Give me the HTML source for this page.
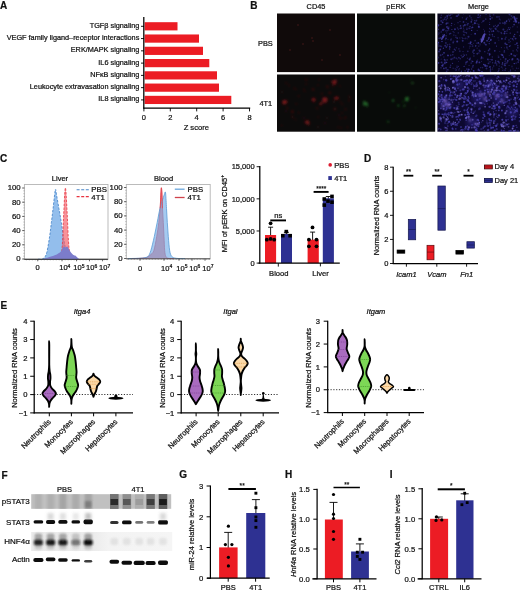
<!DOCTYPE html>
<html><head><meta charset="utf-8"><title>Figure</title>
<style>
html,body{margin:0;padding:0;background:#fff;}
svg{display:block;font-family:"Liberation Sans",Arial,Helvetica,sans-serif;fill:#111;}
svg text{fill:#111;stroke:#111;stroke-width:0.22px;}
</style></head><body>
<svg width="520" height="593" viewBox="0 0 520 593">
<rect x="0" y="0" width="520" height="593" fill="#fff"/>
<text x="0.00" y="9.40" font-size="10" text-anchor="start" font-weight="bold" stroke-width="0.1">A</text>
<text x="250.30" y="9.00" font-size="10" text-anchor="start" font-weight="bold" stroke-width="0.1">B</text>
<text x="0.10" y="162.20" font-size="10" text-anchor="start" font-weight="bold" stroke-width="0.1">C</text>
<text x="364.10" y="162.10" font-size="10" text-anchor="start" font-weight="bold" stroke-width="0.1">D</text>
<text x="0.60" y="309.10" font-size="10" text-anchor="start" font-weight="bold" stroke-width="0.1">E</text>
<text x="1.40" y="479.00" font-size="10" text-anchor="start" font-weight="bold" stroke-width="0.1">F</text>
<text x="179.30" y="477.80" font-size="10" text-anchor="start" font-weight="bold" stroke-width="0.1">G</text>
<text x="285.10" y="477.80" font-size="10" text-anchor="start" font-weight="bold" stroke-width="0.1">H</text>
<text x="389.80" y="477.80" font-size="10" text-anchor="start" font-weight="bold" stroke-width="0.1">I</text>
<rect x="144.60" y="22.20" width="32.90" height="8.20" fill="#ec1c24" />
<line x1="141.00" y1="26.30" x2="144.00" y2="26.30" stroke="#000" stroke-width="0.9" />
<text x="139.30" y="27.70" font-size="7.3" text-anchor="end" >TGFβ signaling</text>
<rect x="144.60" y="34.47" width="54.40" height="8.20" fill="#ec1c24" />
<line x1="141.00" y1="38.57" x2="144.00" y2="38.57" stroke="#000" stroke-width="0.9" />
<text x="139.30" y="39.97" font-size="7.3" text-anchor="end" >VEGF family ligand–receptor interactions</text>
<rect x="144.60" y="46.74" width="58.40" height="8.20" fill="#ec1c24" />
<line x1="141.00" y1="50.84" x2="144.00" y2="50.84" stroke="#000" stroke-width="0.9" />
<text x="139.30" y="52.24" font-size="7.3" text-anchor="end" >ERK/MAPK signaling</text>
<rect x="144.60" y="59.01" width="64.70" height="8.20" fill="#ec1c24" />
<line x1="141.00" y1="63.11" x2="144.00" y2="63.11" stroke="#000" stroke-width="0.9" />
<text x="139.30" y="64.51" font-size="7.3" text-anchor="end" >IL6 signaling</text>
<rect x="144.60" y="71.28" width="72.40" height="8.20" fill="#ec1c24" />
<line x1="141.00" y1="75.38" x2="144.00" y2="75.38" stroke="#000" stroke-width="0.9" />
<text x="139.30" y="76.78" font-size="7.3" text-anchor="end" >NFκB signaling</text>
<rect x="144.60" y="83.55" width="74.40" height="8.20" fill="#ec1c24" />
<line x1="141.00" y1="87.65" x2="144.00" y2="87.65" stroke="#000" stroke-width="0.9" />
<text x="139.30" y="89.05" font-size="7.3" text-anchor="end" >Leukocyte extravasation signaling</text>
<rect x="144.60" y="95.82" width="86.70" height="8.20" fill="#ec1c24" />
<line x1="141.00" y1="99.92" x2="144.00" y2="99.92" stroke="#000" stroke-width="0.9" />
<text x="139.30" y="101.32" font-size="7.3" text-anchor="end" >IL8 signaling</text>
<line x1="143.80" y1="17.00" x2="143.80" y2="108.50" stroke="#000" stroke-width="1.25" />
<line x1="143.30" y1="108.00" x2="250.20" y2="108.00" stroke="#000" stroke-width="1.25" />
<line x1="143.90" y1="108.00" x2="143.90" y2="111.40" stroke="#000" stroke-width="0.9" />
<text x="143.90" y="120.20" font-size="7.5" text-anchor="middle" >0</text>
<line x1="170.30" y1="108.00" x2="170.30" y2="111.40" stroke="#000" stroke-width="0.9" />
<text x="170.30" y="120.20" font-size="7.5" text-anchor="middle" >2</text>
<line x1="196.70" y1="108.00" x2="196.70" y2="111.40" stroke="#000" stroke-width="0.9" />
<text x="196.70" y="120.20" font-size="7.5" text-anchor="middle" >4</text>
<line x1="223.10" y1="108.00" x2="223.10" y2="111.40" stroke="#000" stroke-width="0.9" />
<text x="223.10" y="120.20" font-size="7.5" text-anchor="middle" >6</text>
<line x1="249.50" y1="108.00" x2="249.50" y2="111.40" stroke="#000" stroke-width="0.9" />
<text x="249.50" y="120.20" font-size="7.5" text-anchor="middle" >8</text>
<text x="196.30" y="129.70" font-size="7.6" text-anchor="middle" >Z score</text>
<text x="316.00" y="8.60" font-size="7.4" text-anchor="middle" >CD45</text>
<text x="396.00" y="8.60" font-size="7.4" text-anchor="middle" >pERK</text>
<text x="478.50" y="8.60" font-size="7.4" text-anchor="middle" >Merge</text>
<text x="258.00" y="45.70" font-size="7.4" text-anchor="start" >PBS</text>
<text x="259.50" y="105.70" font-size="7.4" text-anchor="start" >4T1</text>
<defs><filter id="b1" x="-50%" y="-50%" width="200%" height="200%"><feGaussianBlur stdDeviation="1.1"/></filter><filter id="b2" x="-50%" y="-50%" width="200%" height="200%"><feGaussianBlur stdDeviation="0.55"/></filter><filter id="b3" x="-50%" y="-50%" width="200%" height="200%"><feGaussianBlur stdDeviation="2.2"/></filter>
<clipPath id="c00"><rect x="277" y="13.5" width="78" height="58.599999999999994"/></clipPath>
<clipPath id="c01"><rect x="277" y="74.5" width="78" height="57.19999999999999"/></clipPath>
<clipPath id="c10"><rect x="357" y="13.5" width="78.19999999999999" height="58.599999999999994"/></clipPath>
<clipPath id="c11"><rect x="357" y="74.5" width="78.19999999999999" height="57.19999999999999"/></clipPath>
<clipPath id="c20"><rect x="437.4" y="13.5" width="82.60000000000002" height="58.599999999999994"/></clipPath>
<clipPath id="c21"><rect x="437.4" y="74.5" width="82.60000000000002" height="57.19999999999999"/></clipPath>
</defs>
<rect x="277.00" y="13.50" width="78.00" height="58.60" fill="#100a0a" />
<rect x="277.00" y="74.50" width="78.00" height="57.20" fill="#0c0b0b" />
<rect x="357.00" y="13.50" width="78.20" height="58.60" fill="#090c0a" />
<rect x="357.00" y="74.50" width="78.20" height="57.20" fill="#080b09" />
<rect x="437.40" y="13.50" width="82.60" height="58.60" fill="#06041a" />
<rect x="437.40" y="74.50" width="82.60" height="57.20" fill="#0d0930" />
<g clip-path="url(#c00)" filter="url(#b2)">
<circle cx="312" cy="38" r="0.8" fill="#4a1416"/>
<circle cx="313" cy="41" r="0.8" fill="#4a1416"/>
<circle cx="303" cy="44" r="0.8" fill="#4a1416"/>
<circle cx="290" cy="50" r="0.8" fill="#4a1416"/>
<circle cx="330" cy="30" r="0.8" fill="#4a1416"/>
<circle cx="340" cy="55" r="0.8" fill="#4a1416"/>
<circle cx="298" cy="25" r="0.8" fill="#4a1416"/>
<circle cx="322" cy="60" r="0.8" fill="#4a1416"/>
</g>
<g clip-path="url(#c01)" filter="url(#b1)">
<circle cx="284.8" cy="101.8" r="1.86" fill="#7e1a1e" opacity="0.47"/>
<circle cx="285.8" cy="101.5" r="1.86" fill="#7e1a1e" opacity="0.47"/>
<circle cx="285.4" cy="102.4" r="1.86" fill="#7e1a1e" opacity="0.47"/>
<circle cx="284.0" cy="102.8" r="1.86" fill="#7e1a1e" opacity="0.47"/>
<circle cx="283.9" cy="102.6" r="1.86" fill="#7e1a1e" opacity="0.47"/>
<circle cx="284.0" cy="101.6" r="1.86" fill="#7e1a1e" opacity="0.47"/>
<circle cx="333.8" cy="83.3" r="1.86" fill="#7e1a1e" opacity="0.44"/>
<circle cx="332.9" cy="81.5" r="1.86" fill="#7e1a1e" opacity="0.44"/>
<circle cx="334.4" cy="83.6" r="1.86" fill="#7e1a1e" opacity="0.44"/>
<circle cx="334.2" cy="82.0" r="1.86" fill="#7e1a1e" opacity="0.44"/>
<circle cx="335.4" cy="80.9" r="1.86" fill="#7e1a1e" opacity="0.44"/>
<circle cx="335.1" cy="81.7" r="1.86" fill="#7e1a1e" opacity="0.44"/>
<circle cx="324.3" cy="99.1" r="2.05" fill="#7e1a1e" opacity="0.50"/>
<circle cx="324.9" cy="101.4" r="2.05" fill="#7e1a1e" opacity="0.50"/>
<circle cx="324.4" cy="100.7" r="2.05" fill="#7e1a1e" opacity="0.50"/>
<circle cx="326.0" cy="100.0" r="2.05" fill="#7e1a1e" opacity="0.50"/>
<circle cx="325.7" cy="99.0" r="2.05" fill="#7e1a1e" opacity="0.50"/>
<circle cx="324.0" cy="99.4" r="2.05" fill="#7e1a1e" opacity="0.50"/>
<circle cx="314.1" cy="99.4" r="1.55" fill="#7e1a1e" opacity="0.44"/>
<circle cx="313.1" cy="99.8" r="1.55" fill="#7e1a1e" opacity="0.44"/>
<circle cx="313.5" cy="99.1" r="1.55" fill="#7e1a1e" opacity="0.44"/>
<circle cx="314.3" cy="100.1" r="1.55" fill="#7e1a1e" opacity="0.44"/>
<circle cx="313.0" cy="99.8" r="1.55" fill="#7e1a1e" opacity="0.44"/>
<circle cx="320.8" cy="104.3" r="1.36" fill="#7e1a1e" opacity="0.39"/>
<circle cx="321.2" cy="103.0" r="1.36" fill="#7e1a1e" opacity="0.39"/>
<circle cx="321.8" cy="102.7" r="1.36" fill="#7e1a1e" opacity="0.39"/>
<circle cx="320.5" cy="104.1" r="1.36" fill="#7e1a1e" opacity="0.39"/>
<circle cx="335.6" cy="98.0" r="1.55" fill="#7e1a1e" opacity="0.41"/>
<circle cx="335.3" cy="98.4" r="1.55" fill="#7e1a1e" opacity="0.41"/>
<circle cx="337.2" cy="98.2" r="1.55" fill="#7e1a1e" opacity="0.41"/>
<circle cx="337.4" cy="97.5" r="1.55" fill="#7e1a1e" opacity="0.41"/>
<circle cx="337.0" cy="98.2" r="1.55" fill="#7e1a1e" opacity="0.41"/>
<circle cx="307.5" cy="121.6" r="1.74" fill="#7e1a1e" opacity="0.44"/>
<circle cx="308.3" cy="122.9" r="1.74" fill="#7e1a1e" opacity="0.44"/>
<circle cx="307.2" cy="122.2" r="1.74" fill="#7e1a1e" opacity="0.44"/>
<circle cx="306.1" cy="122.3" r="1.74" fill="#7e1a1e" opacity="0.44"/>
<circle cx="307.7" cy="123.1" r="1.74" fill="#7e1a1e" opacity="0.44"/>
<circle cx="335.5" cy="108.7" r="0.93" fill="#7e1a1e" opacity="0.33"/>
<circle cx="334.8" cy="109.3" r="0.93" fill="#7e1a1e" opacity="0.33"/>
<circle cx="334.3" cy="108.9" r="0.93" fill="#7e1a1e" opacity="0.33"/>
<circle cx="292.4" cy="111.3" r="1.05" fill="#7e1a1e" opacity="0.30"/>
<circle cx="292.3" cy="112.5" r="1.05" fill="#7e1a1e" opacity="0.30"/>
<circle cx="292.4" cy="111.6" r="1.05" fill="#7e1a1e" opacity="0.30"/>
<circle cx="345.8" cy="109.5" r="0.87" fill="#7e1a1e" opacity="0.28"/>
<circle cx="345.4" cy="108.9" r="0.87" fill="#7e1a1e" opacity="0.28"/>
<circle cx="313.1" cy="89.6" r="0.99" fill="#7e1a1e" opacity="0.25"/>
<circle cx="313.5" cy="89.6" r="0.99" fill="#7e1a1e" opacity="0.25"/>
<circle cx="312.6" cy="88.9" r="0.99" fill="#7e1a1e" opacity="0.25"/>
<circle cx="306.3" cy="80.5" r="0.81" fill="#7e1a1e" opacity="0.22"/>
<circle cx="307.1" cy="79.5" r="0.81" fill="#7e1a1e" opacity="0.22"/>
<circle cx="329.5" cy="92.6" r="0.93" fill="#7e1a1e" opacity="0.28"/>
<circle cx="329.6" cy="93.0" r="0.93" fill="#7e1a1e" opacity="0.28"/>
<circle cx="330.1" cy="92.6" r="0.93" fill="#7e1a1e" opacity="0.28"/>
<circle cx="298.4" cy="95.9" r="0.74" fill="#7e1a1e" opacity="0.22"/>
<circle cx="298.8" cy="96.1" r="0.74" fill="#7e1a1e" opacity="0.22"/>
<circle cx="342.6" cy="104.2" r="0.81" fill="#7e1a1e" opacity="0.25"/>
<circle cx="342.0" cy="104.2" r="0.81" fill="#7e1a1e" opacity="0.25"/>
<circle cx="287.2" cy="107.4" r="0.87" fill="#7e1a1e" opacity="0.28"/>
<circle cx="287.6" cy="108.4" r="0.87" fill="#7e1a1e" opacity="0.28"/>
<circle cx="317.5" cy="108.4" r="0.87" fill="#7e1a1e" opacity="0.28"/>
<circle cx="316.8" cy="107.9" r="0.87" fill="#7e1a1e" opacity="0.28"/>
<circle cx="327.4" cy="87.2" r="0.93" fill="#7e1a1e" opacity="0.28"/>
<circle cx="327.3" cy="86.4" r="0.93" fill="#7e1a1e" opacity="0.28"/>
<circle cx="327.6" cy="86.5" r="0.93" fill="#7e1a1e" opacity="0.28"/>
<circle cx="295.8" cy="119.5" r="0.74" fill="#7e1a1e" opacity="0.22"/>
<circle cx="295.4" cy="119.6" r="0.74" fill="#7e1a1e" opacity="0.22"/>
<circle cx="339.5" cy="117.8" r="0.74" fill="#7e1a1e" opacity="0.22"/>
<circle cx="339.4" cy="118.4" r="0.74" fill="#7e1a1e" opacity="0.22"/>
<circle cx="322.2" cy="93.5" r="0.87" fill="#7e1a1e" opacity="0.28"/>
<circle cx="321.7" cy="93.8" r="0.87" fill="#7e1a1e" opacity="0.28"/>
<circle cx="306.2" cy="84.1" r="0.8" fill="#4a1518" opacity="0.8"/>
<circle cx="341.1" cy="127.7" r="0.8" fill="#4a1518" opacity="0.8"/>
<circle cx="313.6" cy="102.2" r="0.8" fill="#4a1518" opacity="0.8"/>
<circle cx="286.2" cy="83.1" r="0.8" fill="#4a1518" opacity="0.8"/>
<circle cx="304.7" cy="91.2" r="0.8" fill="#4a1518" opacity="0.8"/>
<circle cx="339.7" cy="86.1" r="0.8" fill="#4a1518" opacity="0.8"/>
<circle cx="281.7" cy="125.5" r="0.8" fill="#4a1518" opacity="0.8"/>
<circle cx="318.0" cy="85.3" r="0.8" fill="#4a1518" opacity="0.8"/>
<circle cx="319.1" cy="79.4" r="0.8" fill="#4a1518" opacity="0.8"/>
<circle cx="318.0" cy="126.9" r="0.8" fill="#4a1518" opacity="0.8"/>
<circle cx="342.2" cy="112.8" r="0.8" fill="#4a1518" opacity="0.8"/>
<circle cx="298.8" cy="96.3" r="0.8" fill="#4a1518" opacity="0.8"/>
<circle cx="292.0" cy="116.6" r="0.8" fill="#4a1518" opacity="0.8"/>
<circle cx="318.3" cy="117.0" r="0.8" fill="#4a1518" opacity="0.8"/>
<circle cx="303.7" cy="89.2" r="0.8" fill="#4a1518" opacity="0.8"/>
<circle cx="338.4" cy="127.2" r="0.8" fill="#4a1518" opacity="0.8"/>
<circle cx="341.4" cy="118.3" r="0.8" fill="#4a1518" opacity="0.8"/>
<circle cx="338.9" cy="115.0" r="0.8" fill="#4a1518" opacity="0.8"/>
<circle cx="296.3" cy="103.9" r="0.8" fill="#4a1518" opacity="0.8"/>
<circle cx="305.6" cy="79.4" r="0.8" fill="#4a1518" opacity="0.8"/>
<circle cx="282.0" cy="92.0" r="0.8" fill="#4a1518" opacity="0.8"/>
<circle cx="298.7" cy="112.6" r="0.8" fill="#4a1518" opacity="0.8"/>
<circle cx="348.9" cy="100.4" r="0.8" fill="#4a1518" opacity="0.8"/>
<circle cx="347.5" cy="127.4" r="0.8" fill="#4a1518" opacity="0.8"/>
<circle cx="348.8" cy="96.2" r="0.8" fill="#4a1518" opacity="0.8"/>
<circle cx="295.9" cy="89.3" r="0.8" fill="#4a1518" opacity="0.8"/>
<circle cx="294.2" cy="88.2" r="0.8" fill="#4a1518" opacity="0.8"/>
<circle cx="324.9" cy="123.0" r="0.8" fill="#4a1518" opacity="0.8"/>
<circle cx="340.5" cy="102.0" r="0.8" fill="#4a1518" opacity="0.8"/>
<circle cx="327.0" cy="118.0" r="0.8" fill="#4a1518" opacity="0.8"/>
<circle cx="286.1" cy="111.0" r="0.8" fill="#4a1518" opacity="0.8"/>
<circle cx="345.5" cy="117.1" r="0.8" fill="#4a1518" opacity="0.8"/>
<circle cx="334.0" cy="101.9" r="0.8" fill="#4a1518" opacity="0.8"/>
<circle cx="292.9" cy="117.5" r="0.8" fill="#4a1518" opacity="0.8"/>
<circle cx="303.9" cy="118.0" r="0.8" fill="#4a1518" opacity="0.8"/>
<circle cx="350.0" cy="97.8" r="0.8" fill="#4a1518" opacity="0.8"/>
<circle cx="308.9" cy="125.3" r="0.8" fill="#4a1518" opacity="0.8"/>
<circle cx="332.2" cy="86.5" r="0.8" fill="#4a1518" opacity="0.8"/>
<circle cx="289.1" cy="85.6" r="0.8" fill="#4a1518" opacity="0.8"/>
<circle cx="345.1" cy="118.3" r="0.8" fill="#4a1518" opacity="0.8"/>
</g>
<g clip-path="url(#c11)" filter="url(#b1)">
<circle cx="364.3" cy="104.4" r="1.62" fill="#2a7530" opacity="0.51"/>
<circle cx="366.6" cy="103.9" r="1.62" fill="#2a7530" opacity="0.51"/>
<circle cx="364.9" cy="103.6" r="1.62" fill="#2a7530" opacity="0.51"/>
<circle cx="364.3" cy="102.2" r="1.62" fill="#2a7530" opacity="0.51"/>
<circle cx="366.6" cy="103.9" r="1.62" fill="#2a7530" opacity="0.51"/>
<circle cx="407.1" cy="99.9" r="1.56" fill="#2a7530" opacity="0.51"/>
<circle cx="406.8" cy="99.8" r="1.56" fill="#2a7530" opacity="0.51"/>
<circle cx="407.8" cy="98.0" r="1.56" fill="#2a7530" opacity="0.51"/>
<circle cx="406.4" cy="98.3" r="1.56" fill="#2a7530" opacity="0.51"/>
<circle cx="406.3" cy="99.0" r="1.56" fill="#2a7530" opacity="0.51"/>
<circle cx="393.1" cy="100.2" r="1.14" fill="#2a7530" opacity="0.42"/>
<circle cx="392.9" cy="101.2" r="1.14" fill="#2a7530" opacity="0.42"/>
<circle cx="393.3" cy="100.3" r="1.14" fill="#2a7530" opacity="0.42"/>
<circle cx="398.5" cy="105.7" r="0.96" fill="#2a7530" opacity="0.39"/>
<circle cx="398.3" cy="105.8" r="0.96" fill="#2a7530" opacity="0.39"/>
<circle cx="398.4" cy="105.2" r="0.96" fill="#2a7530" opacity="0.39"/>
<circle cx="404.7" cy="105.1" r="0.96" fill="#2a7530" opacity="0.36"/>
<circle cx="404.6" cy="105.4" r="0.96" fill="#2a7530" opacity="0.36"/>
<circle cx="403.9" cy="106.4" r="0.96" fill="#2a7530" opacity="0.36"/>
<circle cx="412.0" cy="83.0" r="1.08" fill="#2a7530" opacity="0.33"/>
<circle cx="413.0" cy="83.1" r="1.08" fill="#2a7530" opacity="0.33"/>
<circle cx="412.3" cy="83.0" r="1.08" fill="#2a7530" opacity="0.33"/>
<circle cx="411.1" cy="79.8" r="0.66" fill="#2a7530" opacity="0.24"/>
<circle cx="410.6" cy="79.6" r="0.66" fill="#2a7530" opacity="0.24"/>
<circle cx="387.6" cy="121.3" r="1.02" fill="#2a7530" opacity="0.27"/>
<circle cx="388.5" cy="121.7" r="1.02" fill="#2a7530" opacity="0.27"/>
<circle cx="388.1" cy="122.1" r="1.02" fill="#2a7530" opacity="0.27"/>
<circle cx="389.5" cy="92.4" r="0.66" fill="#2a7530" opacity="0.18"/>
<circle cx="389.1" cy="92.5" r="0.66" fill="#2a7530" opacity="0.18"/>
<circle cx="415.7" cy="107.7" r="0.66" fill="#2a7530" opacity="0.18"/>
<circle cx="415.6" cy="107.5" r="0.66" fill="#2a7530" opacity="0.18"/>
<circle cx="403.0" cy="101.6" r="0.84" fill="#2a7530" opacity="0.30"/>
<circle cx="403.3" cy="101.5" r="0.84" fill="#2a7530" opacity="0.30"/>
<circle cx="367.7" cy="105.6" r="0.90" fill="#2a7530" opacity="0.30"/>
<circle cx="367.1" cy="106.7" r="0.90" fill="#2a7530" opacity="0.30"/>
<circle cx="367.5" cy="105.5" r="0.90" fill="#2a7530" opacity="0.30"/>
</g>
<g clip-path="url(#c20)" filter="url(#b2)">
<circle cx="448.0" cy="39.6" r="0.58" fill="#3e3a9c" opacity="0.43"/>
<circle cx="444.0" cy="52.8" r="0.90" fill="#3e3a9c" opacity="0.79"/>
<circle cx="450.7" cy="55.5" r="0.85" fill="#3e3a9c" opacity="0.38"/>
<circle cx="510.4" cy="70.1" r="0.65" fill="#3e3a9c" opacity="0.82"/>
<circle cx="470.7" cy="42.3" r="1.00" fill="#3e3a9c" opacity="0.76"/>
<circle cx="451.2" cy="39.0" r="0.78" fill="#3e3a9c" opacity="0.49"/>
<circle cx="454.1" cy="32.5" r="0.87" fill="#3e3a9c" opacity="0.31"/>
<circle cx="483.4" cy="39.5" r="0.56" fill="#3e3a9c" opacity="0.48"/>
<circle cx="489.2" cy="43.7" r="0.58" fill="#3e3a9c" opacity="0.84"/>
<circle cx="502.6" cy="70.4" r="0.60" fill="#3e3a9c" opacity="0.45"/>
<circle cx="441.2" cy="59.2" r="0.67" fill="#3e3a9c" opacity="0.37"/>
<circle cx="472.6" cy="66.9" r="0.92" fill="#3e3a9c" opacity="0.44"/>
<circle cx="450.2" cy="67.3" r="0.81" fill="#3e3a9c" opacity="0.69"/>
<circle cx="445.3" cy="17.3" r="0.86" fill="#3e3a9c" opacity="0.53"/>
<circle cx="443.9" cy="68.4" r="0.84" fill="#3e3a9c" opacity="0.74"/>
<circle cx="444.9" cy="63.7" r="0.58" fill="#3e3a9c" opacity="0.77"/>
<circle cx="475.2" cy="33.7" r="0.80" fill="#3e3a9c" opacity="0.81"/>
<circle cx="460.0" cy="21.5" r="0.79" fill="#3e3a9c" opacity="0.43"/>
<circle cx="447.0" cy="23.4" r="0.57" fill="#3e3a9c" opacity="0.41"/>
<circle cx="463.6" cy="31.7" r="0.89" fill="#3e3a9c" opacity="0.46"/>
<circle cx="479.0" cy="24.3" r="0.71" fill="#3e3a9c" opacity="0.31"/>
<circle cx="458.5" cy="14.9" r="0.88" fill="#3e3a9c" opacity="0.60"/>
<circle cx="453.5" cy="41.5" r="0.97" fill="#3e3a9c" opacity="0.36"/>
<circle cx="505.2" cy="39.1" r="0.77" fill="#3e3a9c" opacity="0.76"/>
<circle cx="470.2" cy="43.4" r="0.86" fill="#3e3a9c" opacity="0.84"/>
<circle cx="466.1" cy="62.3" r="0.87" fill="#3e3a9c" opacity="0.65"/>
<circle cx="471.2" cy="34.2" r="0.57" fill="#3e3a9c" opacity="0.37"/>
<circle cx="443.8" cy="57.0" r="0.67" fill="#3e3a9c" opacity="0.39"/>
<circle cx="444.9" cy="62.8" r="0.94" fill="#3e3a9c" opacity="0.67"/>
<circle cx="461.1" cy="28.0" r="0.68" fill="#3e3a9c" opacity="0.55"/>
<circle cx="450.9" cy="39.9" r="0.67" fill="#3e3a9c" opacity="0.83"/>
<circle cx="517.8" cy="45.7" r="0.66" fill="#3e3a9c" opacity="0.83"/>
<circle cx="463.4" cy="34.7" r="0.55" fill="#3e3a9c" opacity="0.51"/>
<circle cx="476.9" cy="43.2" r="0.64" fill="#3e3a9c" opacity="0.58"/>
<circle cx="438.4" cy="29.3" r="0.59" fill="#3e3a9c" opacity="0.52"/>
<circle cx="441.4" cy="15.3" r="0.69" fill="#3e3a9c" opacity="0.43"/>
<circle cx="486.0" cy="44.7" r="0.89" fill="#3e3a9c" opacity="0.66"/>
<circle cx="496.7" cy="65.0" r="0.73" fill="#3e3a9c" opacity="0.48"/>
<circle cx="518.7" cy="22.7" r="0.88" fill="#3e3a9c" opacity="0.65"/>
<circle cx="441.6" cy="62.4" r="0.95" fill="#3e3a9c" opacity="0.65"/>
<circle cx="498.2" cy="61.1" r="0.61" fill="#3e3a9c" opacity="0.59"/>
<circle cx="479.4" cy="62.4" r="0.91" fill="#3e3a9c" opacity="0.75"/>
<circle cx="485.9" cy="65.8" r="0.86" fill="#3e3a9c" opacity="0.68"/>
<circle cx="456.9" cy="15.8" r="0.61" fill="#3e3a9c" opacity="0.50"/>
<circle cx="446.6" cy="62.5" r="0.80" fill="#3e3a9c" opacity="0.65"/>
<circle cx="489.4" cy="53.5" r="0.77" fill="#3e3a9c" opacity="0.30"/>
<circle cx="503.4" cy="57.4" r="0.78" fill="#3e3a9c" opacity="0.59"/>
<circle cx="492.1" cy="17.8" r="0.88" fill="#3e3a9c" opacity="0.44"/>
<circle cx="444.1" cy="29.4" r="0.88" fill="#3e3a9c" opacity="0.41"/>
<circle cx="498.7" cy="70.6" r="0.77" fill="#3e3a9c" opacity="0.51"/>
<circle cx="477.3" cy="53.7" r="0.90" fill="#3e3a9c" opacity="0.64"/>
<circle cx="490.7" cy="18.5" r="0.62" fill="#3e3a9c" opacity="0.44"/>
<circle cx="498.9" cy="31.7" r="0.81" fill="#3e3a9c" opacity="0.31"/>
<circle cx="443.0" cy="29.6" r="0.85" fill="#3e3a9c" opacity="0.68"/>
<circle cx="493.4" cy="30.9" r="0.78" fill="#3e3a9c" opacity="0.56"/>
<circle cx="476.2" cy="20.9" r="0.95" fill="#3e3a9c" opacity="0.41"/>
<circle cx="518.2" cy="68.3" r="0.56" fill="#3e3a9c" opacity="0.55"/>
<circle cx="505.2" cy="70.2" r="0.75" fill="#3e3a9c" opacity="0.45"/>
<circle cx="455.2" cy="68.8" r="0.64" fill="#3e3a9c" opacity="0.62"/>
<circle cx="449.6" cy="44.4" r="0.98" fill="#3e3a9c" opacity="0.37"/>
<circle cx="505.3" cy="43.5" r="0.95" fill="#3e3a9c" opacity="0.69"/>
<circle cx="457.0" cy="66.1" r="0.77" fill="#3e3a9c" opacity="0.31"/>
<circle cx="438.3" cy="42.5" r="0.75" fill="#3e3a9c" opacity="0.47"/>
<circle cx="449.5" cy="33.9" r="0.69" fill="#3e3a9c" opacity="0.76"/>
<circle cx="438.1" cy="57.5" r="0.93" fill="#3e3a9c" opacity="0.37"/>
<circle cx="514.0" cy="55.4" r="0.96" fill="#3e3a9c" opacity="0.46"/>
<circle cx="468.5" cy="36.8" r="1.00" fill="#3e3a9c" opacity="0.62"/>
<circle cx="467.6" cy="38.8" r="0.67" fill="#3e3a9c" opacity="0.33"/>
<circle cx="446.3" cy="62.4" r="0.68" fill="#3e3a9c" opacity="0.81"/>
<circle cx="458.4" cy="29.4" r="0.78" fill="#3e3a9c" opacity="0.40"/>
<circle cx="468.6" cy="69.5" r="0.95" fill="#3e3a9c" opacity="0.75"/>
<circle cx="489.7" cy="67.0" r="0.97" fill="#3e3a9c" opacity="0.60"/>
<circle cx="497.0" cy="16.9" r="0.88" fill="#3e3a9c" opacity="0.55"/>
<circle cx="499.7" cy="51.4" r="0.68" fill="#3e3a9c" opacity="0.33"/>
<circle cx="514.0" cy="21.4" r="0.76" fill="#3e3a9c" opacity="0.49"/>
<circle cx="462.4" cy="56.9" r="0.99" fill="#3e3a9c" opacity="0.44"/>
<circle cx="491.8" cy="31.4" r="0.80" fill="#3e3a9c" opacity="0.52"/>
<circle cx="451.7" cy="23.4" r="0.64" fill="#3e3a9c" opacity="0.80"/>
<circle cx="478.8" cy="26.8" r="0.96" fill="#3e3a9c" opacity="0.85"/>
<circle cx="474.9" cy="22.1" r="0.64" fill="#3e3a9c" opacity="0.35"/>
<circle cx="466.0" cy="19.3" r="0.66" fill="#3e3a9c" opacity="0.44"/>
<circle cx="484.7" cy="65.5" r="0.89" fill="#3e3a9c" opacity="0.53"/>
<circle cx="471.9" cy="44.4" r="0.72" fill="#3e3a9c" opacity="0.49"/>
<circle cx="443.1" cy="30.1" r="0.99" fill="#3e3a9c" opacity="0.37"/>
<circle cx="479.3" cy="50.5" r="0.94" fill="#3e3a9c" opacity="0.42"/>
<circle cx="460.2" cy="28.4" r="0.73" fill="#3e3a9c" opacity="0.55"/>
<circle cx="516.2" cy="63.2" r="0.94" fill="#3e3a9c" opacity="0.31"/>
<circle cx="440.6" cy="55.2" r="0.95" fill="#3e3a9c" opacity="0.56"/>
<circle cx="486.1" cy="14.0" r="0.73" fill="#3e3a9c" opacity="0.81"/>
<circle cx="505.7" cy="63.6" r="0.99" fill="#3e3a9c" opacity="0.44"/>
<circle cx="446.9" cy="23.0" r="0.79" fill="#3e3a9c" opacity="0.68"/>
<circle cx="515.2" cy="55.9" r="0.84" fill="#3e3a9c" opacity="0.72"/>
<circle cx="475.5" cy="46.0" r="0.57" fill="#3e3a9c" opacity="0.73"/>
<circle cx="457.1" cy="67.4" r="0.84" fill="#3e3a9c" opacity="0.47"/>
<circle cx="448.5" cy="28.6" r="0.84" fill="#3e3a9c" opacity="0.68"/>
<circle cx="447.2" cy="18.1" r="0.79" fill="#3e3a9c" opacity="0.62"/>
<circle cx="469.8" cy="27.0" r="0.82" fill="#3e3a9c" opacity="0.31"/>
<circle cx="462.7" cy="40.7" r="0.98" fill="#3e3a9c" opacity="0.65"/>
<circle cx="510.5" cy="41.6" r="0.66" fill="#3e3a9c" opacity="0.44"/>
<circle cx="516.8" cy="54.9" r="0.69" fill="#3e3a9c" opacity="0.31"/>
<circle cx="478.9" cy="53.1" r="0.74" fill="#3e3a9c" opacity="0.44"/>
<circle cx="492.7" cy="67.7" r="0.65" fill="#3e3a9c" opacity="0.32"/>
<circle cx="465.7" cy="38.4" r="0.86" fill="#3e3a9c" opacity="0.41"/>
<circle cx="503.4" cy="56.9" r="0.78" fill="#3e3a9c" opacity="0.41"/>
<circle cx="517.5" cy="32.1" r="0.92" fill="#3e3a9c" opacity="0.43"/>
<circle cx="456.2" cy="58.1" r="0.68" fill="#3e3a9c" opacity="0.82"/>
<circle cx="478.7" cy="24.9" r="0.65" fill="#3e3a9c" opacity="0.53"/>
<circle cx="492.6" cy="69.0" r="0.62" fill="#3e3a9c" opacity="0.52"/>
<circle cx="455.5" cy="70.5" r="0.61" fill="#3e3a9c" opacity="0.33"/>
<circle cx="442.9" cy="36.8" r="0.95" fill="#3e3a9c" opacity="0.79"/>
<circle cx="498.1" cy="71.9" r="0.97" fill="#3e3a9c" opacity="0.48"/>
<circle cx="453.2" cy="68.3" r="0.89" fill="#3e3a9c" opacity="0.32"/>
<circle cx="492.5" cy="36.0" r="0.72" fill="#3e3a9c" opacity="0.48"/>
<circle cx="451.9" cy="14.2" r="0.68" fill="#3e3a9c" opacity="0.49"/>
<circle cx="516.4" cy="21.2" r="0.98" fill="#3e3a9c" opacity="0.41"/>
<circle cx="467.2" cy="61.7" r="0.92" fill="#3e3a9c" opacity="0.54"/>
<circle cx="442.0" cy="41.5" r="0.72" fill="#3e3a9c" opacity="0.81"/>
<circle cx="453.8" cy="35.1" r="0.95" fill="#3e3a9c" opacity="0.32"/>
<circle cx="471.7" cy="61.1" r="0.90" fill="#3e3a9c" opacity="0.32"/>
<circle cx="440.9" cy="17.6" r="0.96" fill="#3e3a9c" opacity="0.44"/>
<circle cx="499.3" cy="66.1" r="0.70" fill="#3e3a9c" opacity="0.45"/>
<circle cx="516.5" cy="49.8" r="0.67" fill="#3e3a9c" opacity="0.69"/>
<circle cx="464.0" cy="30.0" r="0.55" fill="#3e3a9c" opacity="0.72"/>
<circle cx="513.1" cy="50.8" r="0.97" fill="#3e3a9c" opacity="0.31"/>
<circle cx="457.2" cy="41.6" r="0.98" fill="#3e3a9c" opacity="0.82"/>
<circle cx="469.7" cy="28.6" r="0.74" fill="#3e3a9c" opacity="0.57"/>
<circle cx="514.1" cy="24.6" r="0.91" fill="#3e3a9c" opacity="0.71"/>
<circle cx="505.5" cy="58.8" r="0.82" fill="#3e3a9c" opacity="0.48"/>
<circle cx="464.2" cy="35.0" r="0.90" fill="#3e3a9c" opacity="0.34"/>
<circle cx="454.2" cy="57.7" r="0.66" fill="#3e3a9c" opacity="0.34"/>
<circle cx="440.8" cy="46.1" r="0.70" fill="#3e3a9c" opacity="0.84"/>
<circle cx="510.4" cy="71.3" r="0.67" fill="#3e3a9c" opacity="0.35"/>
<circle cx="445.9" cy="42.9" r="0.87" fill="#3e3a9c" opacity="0.55"/>
<circle cx="457.2" cy="38.2" r="0.83" fill="#3e3a9c" opacity="0.67"/>
<circle cx="499.3" cy="63.1" r="0.85" fill="#3e3a9c" opacity="0.37"/>
<circle cx="507.0" cy="31.0" r="0.81" fill="#3e3a9c" opacity="0.51"/>
<circle cx="498.5" cy="25.6" r="0.66" fill="#3e3a9c" opacity="0.43"/>
<circle cx="450.6" cy="65.3" r="0.81" fill="#3e3a9c" opacity="0.48"/>
<circle cx="470.5" cy="71.6" r="0.78" fill="#3e3a9c" opacity="0.43"/>
<circle cx="504.3" cy="51.9" r="1.00" fill="#3e3a9c" opacity="0.36"/>
<circle cx="476.9" cy="61.5" r="0.93" fill="#3e3a9c" opacity="0.80"/>
<circle cx="441.3" cy="31.0" r="0.60" fill="#3e3a9c" opacity="0.40"/>
<circle cx="517.8" cy="47.8" r="0.97" fill="#3e3a9c" opacity="0.50"/>
<circle cx="509.0" cy="40.0" r="0.67" fill="#3e3a9c" opacity="0.73"/>
<circle cx="515.5" cy="20.1" r="0.82" fill="#3e3a9c" opacity="0.64"/>
<circle cx="455.8" cy="35.4" r="0.61" fill="#3e3a9c" opacity="0.41"/>
<circle cx="458.9" cy="48.8" r="0.84" fill="#3e3a9c" opacity="0.41"/>
<circle cx="438.9" cy="33.0" r="0.86" fill="#3e3a9c" opacity="0.40"/>
<circle cx="463.6" cy="25.8" r="0.91" fill="#3e3a9c" opacity="0.60"/>
<circle cx="443.2" cy="19.9" r="0.73" fill="#3e3a9c" opacity="0.60"/>
<circle cx="490.4" cy="19.3" r="0.62" fill="#3e3a9c" opacity="0.68"/>
<circle cx="471.6" cy="30.4" r="0.69" fill="#3e3a9c" opacity="0.82"/>
<circle cx="463.6" cy="46.9" r="0.71" fill="#3e3a9c" opacity="0.53"/>
<circle cx="508.9" cy="71.8" r="0.71" fill="#3e3a9c" opacity="0.41"/>
<circle cx="497.7" cy="25.8" r="0.55" fill="#3e3a9c" opacity="0.80"/>
<circle cx="472.7" cy="61.6" r="0.73" fill="#3e3a9c" opacity="0.79"/>
<circle cx="475.8" cy="23.4" r="0.56" fill="#3e3a9c" opacity="0.60"/>
<circle cx="490.5" cy="66.8" r="0.59" fill="#3e3a9c" opacity="0.64"/>
<circle cx="468.4" cy="43.3" r="0.62" fill="#3e3a9c" opacity="0.46"/>
<circle cx="480.7" cy="67.7" r="0.60" fill="#3e3a9c" opacity="0.57"/>
<circle cx="504.0" cy="70.1" r="0.64" fill="#3e3a9c" opacity="0.37"/>
<circle cx="515.3" cy="70.6" r="0.77" fill="#3e3a9c" opacity="0.33"/>
<circle cx="513.9" cy="36.5" r="0.96" fill="#3e3a9c" opacity="0.64"/>
<circle cx="505.6" cy="23.3" r="0.90" fill="#3e3a9c" opacity="0.42"/>
<circle cx="471.2" cy="63.1" r="0.92" fill="#3e3a9c" opacity="0.40"/>
<circle cx="455.9" cy="37.2" r="0.78" fill="#3e3a9c" opacity="0.51"/>
<circle cx="448.1" cy="28.3" r="0.88" fill="#3e3a9c" opacity="0.79"/>
<circle cx="441.4" cy="46.6" r="0.89" fill="#3e3a9c" opacity="0.32"/>
<circle cx="506.7" cy="20.8" r="0.82" fill="#3e3a9c" opacity="0.60"/>
<circle cx="489.4" cy="31.8" r="0.74" fill="#3e3a9c" opacity="0.62"/>
<circle cx="472.9" cy="52.2" r="0.75" fill="#3e3a9c" opacity="0.54"/>
<circle cx="439.9" cy="49.9" r="0.77" fill="#3e3a9c" opacity="0.43"/>
<circle cx="500.6" cy="59.2" r="0.76" fill="#3e3a9c" opacity="0.40"/>
<circle cx="476.8" cy="20.2" r="0.61" fill="#3e3a9c" opacity="0.54"/>
<circle cx="445.5" cy="39.6" r="0.78" fill="#3e3a9c" opacity="0.32"/>
<circle cx="490.2" cy="18.8" r="0.88" fill="#3e3a9c" opacity="0.73"/>
<circle cx="479.9" cy="17.1" r="0.78" fill="#3e3a9c" opacity="0.51"/>
<circle cx="516.0" cy="21.9" r="0.94" fill="#3e3a9c" opacity="0.85"/>
<circle cx="498.0" cy="61.3" r="0.64" fill="#3e3a9c" opacity="0.84"/>
<circle cx="478.3" cy="69.5" r="0.96" fill="#3e3a9c" opacity="0.39"/>
<circle cx="502.6" cy="68.0" r="0.58" fill="#3e3a9c" opacity="0.49"/>
<circle cx="500.0" cy="23.2" r="0.95" fill="#3e3a9c" opacity="0.45"/>
<circle cx="504.9" cy="22.3" r="0.78" fill="#3e3a9c" opacity="0.81"/>
<circle cx="455.1" cy="29.2" r="0.78" fill="#3e3a9c" opacity="0.48"/>
<circle cx="441.0" cy="24.6" r="0.62" fill="#3e3a9c" opacity="0.82"/>
<circle cx="493.7" cy="65.9" r="0.63" fill="#3e3a9c" opacity="0.73"/>
<circle cx="447.4" cy="44.8" r="0.84" fill="#3e3a9c" opacity="0.50"/>
<circle cx="509.6" cy="46.2" r="0.81" fill="#3e3a9c" opacity="0.79"/>
<circle cx="446.6" cy="71.6" r="0.83" fill="#3e3a9c" opacity="0.52"/>
<circle cx="503.4" cy="29.4" r="1.00" fill="#3e3a9c" opacity="0.62"/>
<circle cx="467.5" cy="58.3" r="0.75" fill="#3e3a9c" opacity="0.40"/>
<circle cx="499.0" cy="16.8" r="0.92" fill="#3e3a9c" opacity="0.44"/>
<circle cx="490.4" cy="71.1" r="0.81" fill="#3e3a9c" opacity="0.67"/>
<circle cx="463.6" cy="14.1" r="0.57" fill="#3e3a9c" opacity="0.38"/>
<circle cx="488.5" cy="39.1" r="0.78" fill="#3e3a9c" opacity="0.79"/>
<circle cx="448.8" cy="27.2" r="0.84" fill="#3e3a9c" opacity="0.31"/>
<circle cx="438.2" cy="34.6" r="0.60" fill="#3e3a9c" opacity="0.50"/>
<circle cx="456.4" cy="47.8" r="0.82" fill="#3e3a9c" opacity="0.41"/>
<circle cx="489.2" cy="41.5" r="0.61" fill="#3e3a9c" opacity="0.82"/>
<circle cx="458.0" cy="22.7" r="0.59" fill="#3e3a9c" opacity="0.65"/>
<circle cx="509.4" cy="59.4" r="0.73" fill="#3e3a9c" opacity="0.45"/>
<circle cx="438.9" cy="51.4" r="0.80" fill="#3e3a9c" opacity="0.49"/>
<circle cx="490.9" cy="39.7" r="0.97" fill="#3e3a9c" opacity="0.70"/>
<circle cx="458.4" cy="66.4" r="0.57" fill="#3e3a9c" opacity="0.59"/>
<circle cx="471.3" cy="27.8" r="0.58" fill="#3e3a9c" opacity="0.73"/>
<circle cx="439.0" cy="46.0" r="0.97" fill="#3e3a9c" opacity="0.38"/>
<circle cx="454.4" cy="49.3" r="0.78" fill="#3e3a9c" opacity="0.65"/>
<circle cx="504.7" cy="24.1" r="0.69" fill="#3e3a9c" opacity="0.47"/>
<circle cx="442.0" cy="65.6" r="0.90" fill="#3e3a9c" opacity="0.69"/>
<circle cx="438.5" cy="63.0" r="0.89" fill="#3e3a9c" opacity="0.56"/>
<circle cx="498.8" cy="40.2" r="0.65" fill="#3e3a9c" opacity="0.36"/>
<circle cx="457.0" cy="16.3" r="0.70" fill="#3e3a9c" opacity="0.71"/>
<circle cx="495.0" cy="63.0" r="0.87" fill="#3e3a9c" opacity="0.45"/>
<circle cx="483.4" cy="39.3" r="0.90" fill="#3e3a9c" opacity="0.59"/>
<circle cx="459.8" cy="51.2" r="0.98" fill="#3e3a9c" opacity="0.42"/>
<circle cx="510.2" cy="14.9" r="0.67" fill="#3e3a9c" opacity="0.43"/>
<circle cx="499.0" cy="68.8" r="0.89" fill="#3e3a9c" opacity="0.48"/>
<circle cx="510.2" cy="33.1" r="0.66" fill="#3e3a9c" opacity="0.80"/>
<circle cx="489.7" cy="54.2" r="0.85" fill="#3e3a9c" opacity="0.84"/>
<circle cx="476.5" cy="62.7" r="0.86" fill="#3e3a9c" opacity="0.77"/>
<circle cx="473.9" cy="56.0" r="0.81" fill="#3e3a9c" opacity="0.47"/>
<circle cx="455.4" cy="50.1" r="0.59" fill="#3e3a9c" opacity="0.80"/>
<circle cx="449.9" cy="15.6" r="0.60" fill="#3e3a9c" opacity="0.81"/>
<circle cx="466.3" cy="22.2" r="0.56" fill="#3e3a9c" opacity="0.32"/>
<circle cx="494.8" cy="50.8" r="0.86" fill="#3e3a9c" opacity="0.71"/>
<circle cx="443.4" cy="48.2" r="0.71" fill="#3e3a9c" opacity="0.75"/>
<circle cx="505.2" cy="65.7" r="0.58" fill="#3e3a9c" opacity="0.78"/>
<circle cx="513.0" cy="68.8" r="0.60" fill="#3e3a9c" opacity="0.41"/>
<circle cx="447.2" cy="16.0" r="0.93" fill="#3e3a9c" opacity="0.75"/>
<circle cx="490.0" cy="61.9" r="0.83" fill="#3e3a9c" opacity="0.46"/>
<circle cx="446.2" cy="19.7" r="0.89" fill="#3e3a9c" opacity="0.41"/>
<circle cx="464.2" cy="38.6" r="0.56" fill="#3e3a9c" opacity="0.44"/>
<circle cx="461.2" cy="55.5" r="0.72" fill="#3e3a9c" opacity="0.48"/>
<circle cx="517.0" cy="43.2" r="0.93" fill="#3e3a9c" opacity="0.64"/>
<circle cx="440.5" cy="37.9" r="0.75" fill="#3e3a9c" opacity="0.73"/>
<circle cx="466.4" cy="54.9" r="0.79" fill="#3e3a9c" opacity="0.42"/>
<circle cx="508.7" cy="19.3" r="0.92" fill="#3e3a9c" opacity="0.39"/>
<circle cx="438.1" cy="25.7" r="0.89" fill="#3e3a9c" opacity="0.84"/>
<circle cx="438.4" cy="42.5" r="0.77" fill="#3e3a9c" opacity="0.74"/>
<circle cx="453.1" cy="42.7" r="0.71" fill="#3e3a9c" opacity="0.76"/>
<circle cx="459.4" cy="68.7" r="0.68" fill="#3e3a9c" opacity="0.42"/>
<circle cx="495.4" cy="42.9" r="0.60" fill="#3e3a9c" opacity="0.65"/>
<circle cx="444.6" cy="59.7" r="0.86" fill="#3e3a9c" opacity="0.73"/>
<circle cx="489.5" cy="34.6" r="0.73" fill="#3e3a9c" opacity="0.52"/>
<circle cx="511.0" cy="19.0" r="0.95" fill="#3e3a9c" opacity="0.31"/>
<circle cx="454.9" cy="29.3" r="0.96" fill="#3e3a9c" opacity="0.58"/>
<circle cx="469.1" cy="65.3" r="0.66" fill="#3e3a9c" opacity="0.55"/>
<circle cx="481.6" cy="57.8" r="0.89" fill="#3e3a9c" opacity="0.66"/>
<circle cx="466.6" cy="32.9" r="0.62" fill="#3e3a9c" opacity="0.76"/>
<circle cx="492.3" cy="57.0" r="0.63" fill="#3e3a9c" opacity="0.54"/>
<circle cx="501.4" cy="47.6" r="0.61" fill="#3e3a9c" opacity="0.55"/>
<circle cx="510.6" cy="27.8" r="0.64" fill="#3e3a9c" opacity="0.47"/>
<circle cx="495.7" cy="62.9" r="0.62" fill="#3e3a9c" opacity="0.39"/>
<circle cx="458.3" cy="32.9" r="0.78" fill="#3e3a9c" opacity="0.39"/>
<circle cx="464.9" cy="25.0" r="0.99" fill="#3e3a9c" opacity="0.70"/>
<circle cx="446.3" cy="69.8" r="0.60" fill="#3e3a9c" opacity="0.51"/>
<circle cx="518.7" cy="60.1" r="0.88" fill="#3e3a9c" opacity="0.54"/>
<circle cx="454.1" cy="51.0" r="0.60" fill="#3e3a9c" opacity="0.41"/>
<circle cx="469.8" cy="16.0" r="0.73" fill="#3e3a9c" opacity="0.74"/>
<circle cx="494.9" cy="43.0" r="0.83" fill="#3e3a9c" opacity="0.55"/>
<circle cx="449.6" cy="49.0" r="0.73" fill="#3e3a9c" opacity="0.71"/>
<circle cx="512.5" cy="38.9" r="0.81" fill="#3e3a9c" opacity="0.71"/>
<circle cx="472.5" cy="27.3" r="0.87" fill="#3e3a9c" opacity="0.78"/>
<circle cx="501.5" cy="54.6" r="0.93" fill="#3e3a9c" opacity="0.67"/>
<circle cx="490.6" cy="40.3" r="0.69" fill="#3e3a9c" opacity="0.65"/>
<circle cx="446.0" cy="38.3" r="0.90" fill="#3e3a9c" opacity="0.69"/>
<circle cx="489.6" cy="28.5" r="0.74" fill="#3e3a9c" opacity="0.55"/>
<circle cx="489.0" cy="37.7" r="0.85" fill="#3e3a9c" opacity="0.81"/>
<circle cx="453.0" cy="52.0" r="0.90" fill="#3e3a9c" opacity="0.51"/>
<circle cx="478.2" cy="70.5" r="0.57" fill="#3e3a9c" opacity="0.60"/>
<circle cx="451.2" cy="59.3" r="0.97" fill="#3e3a9c" opacity="0.59"/>
<circle cx="446.3" cy="47.3" r="0.79" fill="#3e3a9c" opacity="0.69"/>
<circle cx="480.0" cy="51.1" r="0.92" fill="#3e3a9c" opacity="0.59"/>
<circle cx="471.6" cy="69.0" r="0.64" fill="#3e3a9c" opacity="0.68"/>
<circle cx="470.2" cy="58.2" r="0.61" fill="#3e3a9c" opacity="0.84"/>
<circle cx="467.1" cy="17.3" r="0.67" fill="#3e3a9c" opacity="0.52"/>
<circle cx="439.1" cy="38.3" r="0.74" fill="#3e3a9c" opacity="0.68"/>
<circle cx="466.9" cy="29.4" r="0.65" fill="#3e3a9c" opacity="0.71"/>
<circle cx="515.1" cy="44.6" r="0.65" fill="#3e3a9c" opacity="0.74"/>
<circle cx="470.1" cy="26.3" r="0.61" fill="#3e3a9c" opacity="0.73"/>
<circle cx="504.4" cy="50.8" r="0.76" fill="#3e3a9c" opacity="0.61"/>
<circle cx="456.5" cy="69.9" r="0.71" fill="#3e3a9c" opacity="0.65"/>
<circle cx="505.1" cy="61.3" r="0.76" fill="#3e3a9c" opacity="0.46"/>
<circle cx="483.0" cy="21.3" r="0.93" fill="#3e3a9c" opacity="0.50"/>
<circle cx="507.8" cy="29.5" r="0.72" fill="#3e3a9c" opacity="0.44"/>
<circle cx="472.9" cy="24.8" r="0.55" fill="#3e3a9c" opacity="0.70"/>
<circle cx="461.1" cy="28.2" r="0.69" fill="#3e3a9c" opacity="0.56"/>
<circle cx="473.1" cy="51.0" r="0.85" fill="#3e3a9c" opacity="0.50"/>
<circle cx="514.2" cy="63.6" r="0.58" fill="#3e3a9c" opacity="0.76"/>
<circle cx="512.3" cy="59.5" r="0.61" fill="#3e3a9c" opacity="0.76"/>
<circle cx="489.9" cy="14.9" r="0.56" fill="#3e3a9c" opacity="0.82"/>
<circle cx="491.8" cy="28.5" r="0.60" fill="#3e3a9c" opacity="0.38"/>
<circle cx="457.2" cy="59.0" r="0.71" fill="#3e3a9c" opacity="0.38"/>
<circle cx="512.1" cy="59.9" r="0.63" fill="#3e3a9c" opacity="0.79"/>
<circle cx="487.9" cy="59.3" r="0.85" fill="#3e3a9c" opacity="0.79"/>
<circle cx="502.6" cy="62.7" r="0.64" fill="#3e3a9c" opacity="0.68"/>
<circle cx="481.5" cy="57.0" r="0.75" fill="#3e3a9c" opacity="0.79"/>
<circle cx="483.5" cy="29.3" r="0.66" fill="#3e3a9c" opacity="0.38"/>
<circle cx="478.4" cy="17.4" r="0.76" fill="#3e3a9c" opacity="0.38"/>
<circle cx="478.3" cy="42.9" r="0.79" fill="#3e3a9c" opacity="0.77"/>
<circle cx="438.5" cy="62.8" r="0.76" fill="#3e3a9c" opacity="0.61"/>
<circle cx="492.6" cy="62.8" r="0.72" fill="#3e3a9c" opacity="0.53"/>
<circle cx="516.8" cy="18.4" r="0.84" fill="#3e3a9c" opacity="0.65"/>
<circle cx="440.3" cy="49.4" r="0.86" fill="#3e3a9c" opacity="0.81"/>
<circle cx="465.1" cy="70.9" r="0.78" fill="#3e3a9c" opacity="0.57"/>
<circle cx="511.6" cy="16.0" r="0.87" fill="#3e3a9c" opacity="0.64"/>
<circle cx="465.8" cy="64.0" r="0.71" fill="#3e3a9c" opacity="0.56"/>
<circle cx="481.1" cy="58.7" r="0.64" fill="#3e3a9c" opacity="0.54"/>
<circle cx="472.6" cy="46.1" r="0.92" fill="#3e3a9c" opacity="0.46"/>
<circle cx="505.9" cy="37.4" r="0.78" fill="#3e3a9c" opacity="0.45"/>
<circle cx="479.5" cy="70.5" r="0.84" fill="#3e3a9c" opacity="0.74"/>
<circle cx="465.1" cy="32.4" r="0.68" fill="#3e3a9c" opacity="0.62"/>
<circle cx="490.1" cy="59.5" r="0.57" fill="#3e3a9c" opacity="0.70"/>
<circle cx="510.6" cy="45.6" r="0.57" fill="#3e3a9c" opacity="0.47"/>
<circle cx="438.5" cy="25.0" r="0.96" fill="#3e3a9c" opacity="0.63"/>
<circle cx="492.0" cy="59.8" r="0.96" fill="#3e3a9c" opacity="0.64"/>
<circle cx="488.6" cy="50.4" r="0.86" fill="#3e3a9c" opacity="0.63"/>
<circle cx="493.8" cy="26.3" r="0.85" fill="#3e3a9c" opacity="0.55"/>
<circle cx="500.5" cy="19.9" r="0.63" fill="#3e3a9c" opacity="0.32"/>
<circle cx="501.5" cy="67.0" r="0.85" fill="#3e3a9c" opacity="0.50"/>
<circle cx="505.5" cy="59.6" r="0.80" fill="#3e3a9c" opacity="0.44"/>
<circle cx="462.8" cy="38.5" r="0.69" fill="#3e3a9c" opacity="0.54"/>
<circle cx="490.6" cy="68.2" r="0.57" fill="#3e3a9c" opacity="0.61"/>
<circle cx="441.2" cy="20.9" r="0.91" fill="#3e3a9c" opacity="0.62"/>
<circle cx="513.3" cy="39.9" r="0.56" fill="#3e3a9c" opacity="0.51"/>
<circle cx="486.5" cy="68.4" r="0.99" fill="#3e3a9c" opacity="0.56"/>
<circle cx="471.8" cy="19.9" r="0.84" fill="#3e3a9c" opacity="0.42"/>
<circle cx="450.4" cy="14.9" r="0.55" fill="#3e3a9c" opacity="0.68"/>
<circle cx="448.0" cy="70.0" r="0.59" fill="#3e3a9c" opacity="0.78"/>
<circle cx="448.6" cy="15.0" r="0.87" fill="#3e3a9c" opacity="0.43"/>
<circle cx="498.2" cy="24.9" r="0.57" fill="#3e3a9c" opacity="0.73"/>
<circle cx="496.5" cy="63.6" r="0.88" fill="#3e3a9c" opacity="0.35"/>
<circle cx="489.5" cy="55.1" r="0.76" fill="#3e3a9c" opacity="0.81"/>
<circle cx="458.8" cy="69.9" r="0.87" fill="#3e3a9c" opacity="0.31"/>
<circle cx="439.2" cy="51.7" r="0.92" fill="#3e3a9c" opacity="0.34"/>
<circle cx="463.5" cy="56.3" r="0.62" fill="#3e3a9c" opacity="0.77"/>
<circle cx="477.9" cy="17.5" r="0.72" fill="#3e3a9c" opacity="0.62"/>
<circle cx="474.0" cy="53.3" r="0.62" fill="#3e3a9c" opacity="0.74"/>
<circle cx="467.8" cy="51.4" r="0.83" fill="#3e3a9c" opacity="0.53"/>
<circle cx="469.6" cy="59.6" r="0.98" fill="#3e3a9c" opacity="0.73"/>
<circle cx="484.5" cy="31.0" r="0.58" fill="#3e3a9c" opacity="0.84"/>
<circle cx="495.7" cy="62.0" r="0.70" fill="#3e3a9c" opacity="0.63"/>
<circle cx="518.2" cy="62.2" r="0.82" fill="#3e3a9c" opacity="0.47"/>
<circle cx="473.1" cy="65.5" r="0.72" fill="#3e3a9c" opacity="0.68"/>
<circle cx="487.3" cy="66.0" r="0.91" fill="#3e3a9c" opacity="0.46"/>
<circle cx="438.1" cy="29.3" r="0.74" fill="#3e3a9c" opacity="0.62"/>
<circle cx="504.9" cy="65.5" r="0.57" fill="#3e3a9c" opacity="0.76"/>
<circle cx="504.6" cy="64.3" r="0.81" fill="#3e3a9c" opacity="0.45"/>
<circle cx="507.8" cy="60.8" r="0.86" fill="#3e3a9c" opacity="0.80"/>
<circle cx="466.4" cy="18.9" r="0.80" fill="#3e3a9c" opacity="0.74"/>
<circle cx="454.4" cy="57.5" r="0.97" fill="#3e3a9c" opacity="0.43"/>
<circle cx="487.8" cy="53.3" r="0.76" fill="#3e3a9c" opacity="0.41"/>
<circle cx="458.9" cy="57.6" r="0.91" fill="#3e3a9c" opacity="0.55"/>
<circle cx="445.2" cy="60.8" r="0.90" fill="#3e3a9c" opacity="0.43"/>
<circle cx="485.5" cy="66.0" r="0.95" fill="#3e3a9c" opacity="0.59"/>
<circle cx="477.1" cy="48.2" r="0.64" fill="#3e3a9c" opacity="0.41"/>
<circle cx="452.8" cy="54.7" r="0.71" fill="#3e3a9c" opacity="0.61"/>
<circle cx="471.0" cy="44.0" r="0.62" fill="#3e3a9c" opacity="0.32"/>
<circle cx="519.8" cy="35.7" r="0.60" fill="#3e3a9c" opacity="0.65"/>
<circle cx="502.6" cy="23.1" r="0.82" fill="#3e3a9c" opacity="0.49"/>
<circle cx="480.6" cy="15.2" r="0.57" fill="#3e3a9c" opacity="0.84"/>
<circle cx="509.0" cy="42.2" r="0.81" fill="#3e3a9c" opacity="0.44"/>
<circle cx="501.9" cy="38.7" r="0.98" fill="#3e3a9c" opacity="0.72"/>
<circle cx="505.1" cy="69.9" r="0.66" fill="#3e3a9c" opacity="0.32"/>
<circle cx="454.5" cy="24.5" r="0.59" fill="#3e3a9c" opacity="0.33"/>
<circle cx="483.7" cy="64.5" r="0.76" fill="#3e3a9c" opacity="0.82"/>
<circle cx="512.6" cy="17.7" r="0.82" fill="#3e3a9c" opacity="0.52"/>
<circle cx="447.8" cy="69.6" r="0.67" fill="#3e3a9c" opacity="0.61"/>
<circle cx="490.5" cy="69.5" r="0.85" fill="#3e3a9c" opacity="0.52"/>
<circle cx="474.8" cy="23.3" r="0.98" fill="#3e3a9c" opacity="0.85"/>
<circle cx="456.2" cy="16.2" r="0.67" fill="#3e3a9c" opacity="0.49"/>
<circle cx="512.0" cy="66.5" r="0.93" fill="#3e3a9c" opacity="0.33"/>
<circle cx="502.5" cy="55.2" r="0.84" fill="#3e3a9c" opacity="0.84"/>
<circle cx="442.6" cy="22.4" r="0.89" fill="#3e3a9c" opacity="0.82"/>
<circle cx="493.5" cy="31.3" r="0.82" fill="#3e3a9c" opacity="0.72"/>
<circle cx="446.6" cy="32.8" r="0.67" fill="#3e3a9c" opacity="0.37"/>
<circle cx="477.5" cy="23.8" r="0.66" fill="#3e3a9c" opacity="0.38"/>
<circle cx="493.6" cy="14.7" r="0.87" fill="#3e3a9c" opacity="0.41"/>
<circle cx="441.0" cy="67.8" r="0.65" fill="#3e3a9c" opacity="0.81"/>
<circle cx="509.1" cy="65.5" r="0.61" fill="#3e3a9c" opacity="0.55"/>
<circle cx="446.0" cy="67.9" r="0.93" fill="#3e3a9c" opacity="0.65"/>
<circle cx="475.1" cy="33.7" r="0.92" fill="#3e3a9c" opacity="0.56"/>
<circle cx="489.5" cy="22.3" r="0.65" fill="#3e3a9c" opacity="0.33"/>
<circle cx="496.5" cy="46.1" r="0.62" fill="#3e3a9c" opacity="0.78"/>
<circle cx="459.8" cy="37.9" r="0.62" fill="#3e3a9c" opacity="0.45"/>
<circle cx="506.8" cy="33.4" r="0.63" fill="#3e3a9c" opacity="0.57"/>
<circle cx="464.1" cy="66.4" r="0.60" fill="#3e3a9c" opacity="0.84"/>
<circle cx="442.7" cy="65.9" r="0.85" fill="#3e3a9c" opacity="0.42"/>
<circle cx="477.2" cy="30.6" r="0.67" fill="#3e3a9c" opacity="0.41"/>
<circle cx="467.9" cy="71.5" r="1.00" fill="#3e3a9c" opacity="0.81"/>
<circle cx="446.0" cy="30.8" r="0.95" fill="#3e3a9c" opacity="0.33"/>
<circle cx="497.6" cy="31.0" r="0.99" fill="#3e3a9c" opacity="0.31"/>
<circle cx="504.2" cy="33.8" r="0.61" fill="#3e3a9c" opacity="0.30"/>
<circle cx="506.2" cy="44.5" r="0.63" fill="#3e3a9c" opacity="0.54"/>
<circle cx="512.8" cy="26.7" r="0.81" fill="#3e3a9c" opacity="0.38"/>
<circle cx="452.8" cy="58.7" r="0.87" fill="#3e3a9c" opacity="0.41"/>
<circle cx="444.5" cy="19.1" r="0.82" fill="#3e3a9c" opacity="0.57"/>
<circle cx="460.5" cy="25.9" r="0.83" fill="#3e3a9c" opacity="0.69"/>
<circle cx="504.5" cy="47.8" r="0.64" fill="#3e3a9c" opacity="0.34"/>
<circle cx="498.1" cy="37.7" r="0.87" fill="#3e3a9c" opacity="0.33"/>
<circle cx="504.5" cy="33.4" r="0.93" fill="#3e3a9c" opacity="0.78"/>
<circle cx="478.4" cy="14.9" r="0.96" fill="#3e3a9c" opacity="0.56"/>
<circle cx="509.5" cy="29.4" r="0.63" fill="#3e3a9c" opacity="0.76"/>
<circle cx="468.1" cy="23.5" r="0.72" fill="#3e3a9c" opacity="0.63"/>
<circle cx="438.4" cy="44.1" r="0.75" fill="#3e3a9c" opacity="0.58"/>
<circle cx="447.9" cy="55.4" r="0.92" fill="#3e3a9c" opacity="0.78"/>
<circle cx="464.3" cy="55.2" r="0.72" fill="#3e3a9c" opacity="0.71"/>
<circle cx="443.0" cy="64.6" r="0.98" fill="#3e3a9c" opacity="0.57"/>
<circle cx="480.1" cy="44.8" r="0.79" fill="#3e3a9c" opacity="0.31"/>
<circle cx="517.3" cy="27.0" r="0.63" fill="#3e3a9c" opacity="0.36"/>
<circle cx="458.5" cy="61.4" r="0.56" fill="#3e3a9c" opacity="0.35"/>
<circle cx="495.3" cy="25.3" r="0.56" fill="#3e3a9c" opacity="0.63"/>
<circle cx="485.3" cy="44.3" r="0.87" fill="#3e3a9c" opacity="0.36"/>
<circle cx="509.3" cy="55.6" r="0.57" fill="#3e3a9c" opacity="0.37"/>
<circle cx="478.5" cy="43.0" r="0.68" fill="#3e3a9c" opacity="0.37"/>
<circle cx="471.3" cy="21.9" r="0.82" fill="#3e3a9c" opacity="0.77"/>
<circle cx="450.1" cy="47.2" r="0.89" fill="#3e3a9c" opacity="0.39"/>
<circle cx="505.7" cy="68.4" r="0.72" fill="#3e3a9c" opacity="0.53"/>
<circle cx="506.9" cy="44.5" r="0.73" fill="#3e3a9c" opacity="0.82"/>
<circle cx="501.7" cy="33.6" r="0.66" fill="#3e3a9c" opacity="0.48"/>
<circle cx="473.7" cy="70.9" r="0.91" fill="#3e3a9c" opacity="0.80"/>
<circle cx="504.8" cy="63.2" r="0.57" fill="#3e3a9c" opacity="0.58"/>
<circle cx="516.5" cy="68.2" r="0.66" fill="#3e3a9c" opacity="0.53"/>
<circle cx="489.9" cy="35.1" r="0.79" fill="#3e3a9c" opacity="0.34"/>
<circle cx="473.5" cy="43.3" r="0.56" fill="#3e3a9c" opacity="0.38"/>
<circle cx="517.5" cy="59.0" r="0.97" fill="#3e3a9c" opacity="0.65"/>
<circle cx="504.4" cy="65.3" r="0.95" fill="#3e3a9c" opacity="0.32"/>
<circle cx="490.6" cy="29.4" r="0.86" fill="#3e3a9c" opacity="0.45"/>
<circle cx="482.5" cy="67.6" r="0.83" fill="#3e3a9c" opacity="0.44"/>
<circle cx="480.7" cy="39.2" r="0.98" fill="#3e3a9c" opacity="0.46"/>
<circle cx="463.0" cy="51.6" r="0.60" fill="#3e3a9c" opacity="0.63"/>
<circle cx="516.4" cy="43.8" r="0.67" fill="#3e3a9c" opacity="0.56"/>
<circle cx="481.8" cy="22.6" r="0.61" fill="#3e3a9c" opacity="0.37"/>
<circle cx="462.1" cy="37.6" r="0.68" fill="#3e3a9c" opacity="0.43"/>
<circle cx="445.2" cy="45.7" r="0.93" fill="#3e3a9c" opacity="0.64"/>
<circle cx="484.8" cy="51.7" r="0.64" fill="#3e3a9c" opacity="0.69"/>
<circle cx="475.8" cy="45.8" r="0.83" fill="#3e3a9c" opacity="0.56"/>
<circle cx="463.5" cy="28.1" r="0.65" fill="#3e3a9c" opacity="0.58"/>
<circle cx="469.4" cy="48.0" r="0.56" fill="#3e3a9c" opacity="0.49"/>
<circle cx="508.7" cy="27.8" r="0.80" fill="#3e3a9c" opacity="0.57"/>
<circle cx="461.4" cy="71.3" r="0.68" fill="#3e3a9c" opacity="0.72"/>
<circle cx="451.0" cy="17.9" r="0.94" fill="#3e3a9c" opacity="0.54"/>
<circle cx="443.1" cy="36.5" r="0.75" fill="#3e3a9c" opacity="0.70"/>
<circle cx="447.0" cy="27.1" r="0.98" fill="#3e3a9c" opacity="0.71"/>
<circle cx="450.7" cy="33.5" r="0.71" fill="#3e3a9c" opacity="0.67"/>
<circle cx="488.5" cy="63.3" r="0.92" fill="#3e3a9c" opacity="0.58"/>
<circle cx="498.6" cy="57.1" r="0.89" fill="#3e3a9c" opacity="0.56"/>
<circle cx="502.4" cy="55.1" r="0.96" fill="#3e3a9c" opacity="0.37"/>
<circle cx="509.4" cy="14.3" r="0.89" fill="#3e3a9c" opacity="0.62"/>
<circle cx="478.8" cy="69.8" r="0.81" fill="#3e3a9c" opacity="0.53"/>
<circle cx="502.3" cy="64.6" r="0.82" fill="#3e3a9c" opacity="0.51"/>
<circle cx="475.1" cy="40.6" r="0.88" fill="#3e3a9c" opacity="0.46"/>
<circle cx="470.0" cy="46.2" r="0.72" fill="#3e3a9c" opacity="0.48"/>
<circle cx="502.5" cy="63.3" r="0.77" fill="#3e3a9c" opacity="0.54"/>
<circle cx="453.1" cy="31.6" r="0.62" fill="#3e3a9c" opacity="0.62"/>
<circle cx="485.7" cy="19.1" r="0.96" fill="#3e3a9c" opacity="0.48"/>
<circle cx="507.2" cy="62.6" r="0.98" fill="#3e3a9c" opacity="0.41"/>
<circle cx="473.0" cy="66.8" r="0.55" fill="#3e3a9c" opacity="0.33"/>
<circle cx="484.3" cy="42.8" r="0.96" fill="#3e3a9c" opacity="0.73"/>
<circle cx="482.2" cy="71.9" r="0.78" fill="#3e3a9c" opacity="0.58"/>
<circle cx="494.2" cy="36.6" r="0.71" fill="#3e3a9c" opacity="0.63"/>
<circle cx="466.8" cy="69.0" r="0.85" fill="#3e3a9c" opacity="0.59"/>
<circle cx="446.1" cy="35.7" r="0.73" fill="#3e3a9c" opacity="0.61"/>
<circle cx="485.1" cy="65.0" r="0.98" fill="#3e3a9c" opacity="0.57"/>
<circle cx="474.1" cy="50.2" r="1.00" fill="#3e3a9c" opacity="0.49"/>
<circle cx="481.5" cy="61.3" r="0.63" fill="#3e3a9c" opacity="0.47"/>
<circle cx="518.2" cy="61.9" r="0.78" fill="#3e3a9c" opacity="0.36"/>
<circle cx="511.3" cy="54.0" r="0.92" fill="#3e3a9c" opacity="0.84"/>
<circle cx="510.8" cy="38.4" r="0.62" fill="#3e3a9c" opacity="0.46"/>
<circle cx="480.0" cy="43.3" r="0.63" fill="#3e3a9c" opacity="0.40"/>
<circle cx="489.7" cy="49.0" r="0.71" fill="#3e3a9c" opacity="0.85"/>
<circle cx="490.2" cy="16.5" r="0.74" fill="#3e3a9c" opacity="0.73"/>
<circle cx="463.2" cy="54.1" r="0.55" fill="#3e3a9c" opacity="0.47"/>
<circle cx="507.1" cy="48.0" r="0.85" fill="#3e3a9c" opacity="0.41"/>
<circle cx="478.8" cy="46.1" r="0.67" fill="#3e3a9c" opacity="0.66"/>
<circle cx="481.6" cy="71.8" r="0.81" fill="#3e3a9c" opacity="0.53"/>
<circle cx="448.0" cy="23.1" r="0.89" fill="#3e3a9c" opacity="0.36"/>
<circle cx="446.2" cy="23.9" r="0.79" fill="#3e3a9c" opacity="0.75"/>
<circle cx="488.3" cy="60.8" r="0.58" fill="#3e3a9c" opacity="0.31"/>
<circle cx="501.2" cy="32.7" r="0.87" fill="#3e3a9c" opacity="0.49"/>
<circle cx="451.9" cy="29.5" r="0.59" fill="#3e3a9c" opacity="0.80"/>
<circle cx="485.7" cy="34.2" r="0.75" fill="#3e3a9c" opacity="0.51"/>
<circle cx="442.5" cy="65.7" r="0.81" fill="#3e3a9c" opacity="0.83"/>
<circle cx="474.1" cy="50.0" r="0.66" fill="#3e3a9c" opacity="0.32"/>
<circle cx="514.3" cy="63.6" r="0.69" fill="#3e3a9c" opacity="0.79"/>
<circle cx="504.9" cy="31.6" r="0.82" fill="#3e3a9c" opacity="0.83"/>
<circle cx="478.6" cy="69.1" r="0.66" fill="#3e3a9c" opacity="0.51"/>
<circle cx="496.9" cy="26.8" r="0.69" fill="#3e3a9c" opacity="0.78"/>
<circle cx="477.7" cy="60.0" r="0.66" fill="#3e3a9c" opacity="0.40"/>
<circle cx="467.4" cy="24.8" r="0.99" fill="#3e3a9c" opacity="0.46"/>
<circle cx="484.0" cy="20.7" r="0.79" fill="#3e3a9c" opacity="0.51"/>
<circle cx="471.1" cy="17.8" r="0.61" fill="#3e3a9c" opacity="0.75"/>
<circle cx="466.8" cy="28.2" r="0.64" fill="#3e3a9c" opacity="0.46"/>
<circle cx="457.4" cy="16.0" r="0.85" fill="#3e3a9c" opacity="0.49"/>
<circle cx="450.8" cy="54.9" r="0.59" fill="#3e3a9c" opacity="0.45"/>
<circle cx="506.5" cy="21.4" r="0.75" fill="#3e3a9c" opacity="0.76"/>
<circle cx="504.0" cy="23.2" r="0.71" fill="#3e3a9c" opacity="0.70"/>
<circle cx="468.9" cy="69.6" r="0.64" fill="#3e3a9c" opacity="0.82"/>
<circle cx="479.4" cy="27.2" r="0.75" fill="#3e3a9c" opacity="0.37"/>
<circle cx="495.9" cy="29.1" r="0.95" fill="#3e3a9c" opacity="0.62"/>
<circle cx="468.2" cy="28.3" r="0.82" fill="#3e3a9c" opacity="0.42"/>
<circle cx="509.5" cy="21.1" r="0.78" fill="#3e3a9c" opacity="0.60"/>
<circle cx="460.2" cy="58.8" r="0.72" fill="#3e3a9c" opacity="0.66"/>
<circle cx="484.5" cy="32.0" r="0.73" fill="#3e3a9c" opacity="0.35"/>
<circle cx="452.5" cy="63.4" r="0.69" fill="#3e3a9c" opacity="0.66"/>
<circle cx="446.9" cy="46.6" r="0.71" fill="#3e3a9c" opacity="0.58"/>
<circle cx="462.4" cy="17.8" r="0.69" fill="#3e3a9c" opacity="0.42"/>
<circle cx="448.3" cy="55.6" r="0.68" fill="#3e3a9c" opacity="0.52"/>
<circle cx="512.5" cy="58.9" r="0.95" fill="#3e3a9c" opacity="0.77"/>
<circle cx="448.8" cy="30.0" r="0.56" fill="#3e3a9c" opacity="0.67"/>
<circle cx="492.4" cy="34.4" r="0.74" fill="#3e3a9c" opacity="0.66"/>
<circle cx="495.3" cy="28.4" r="0.93" fill="#3e3a9c" opacity="0.49"/>
<circle cx="489.6" cy="24.5" r="0.60" fill="#3e3a9c" opacity="0.80"/>
<circle cx="498.2" cy="55.3" r="0.57" fill="#3e3a9c" opacity="0.32"/>
<circle cx="451.3" cy="25.5" r="0.69" fill="#3e3a9c" opacity="0.51"/>
<circle cx="441.2" cy="32.0" r="0.84" fill="#3e3a9c" opacity="0.40"/>
<circle cx="506.8" cy="47.1" r="0.87" fill="#3e3a9c" opacity="0.44"/>
<circle cx="473.7" cy="53.7" r="0.71" fill="#3e3a9c" opacity="0.30"/>
<circle cx="506.4" cy="59.0" r="0.68" fill="#3e3a9c" opacity="0.32"/>
<circle cx="508.0" cy="49.2" r="0.57" fill="#3e3a9c" opacity="0.43"/>
<circle cx="447.1" cy="59.9" r="0.64" fill="#3e3a9c" opacity="0.80"/>
<circle cx="499.5" cy="19.0" r="0.86" fill="#3e3a9c" opacity="0.52"/>
<circle cx="499.3" cy="62.1" r="0.68" fill="#3e3a9c" opacity="0.35"/>
<circle cx="515.6" cy="38.6" r="0.97" fill="#3e3a9c" opacity="0.68"/>
<circle cx="498.6" cy="62.1" r="0.83" fill="#3e3a9c" opacity="0.55"/>
<circle cx="442.5" cy="54.5" r="0.74" fill="#3e3a9c" opacity="0.58"/>
<circle cx="514.1" cy="21.4" r="0.89" fill="#3e3a9c" opacity="0.32"/>
<circle cx="495.6" cy="60.7" r="0.67" fill="#3e3a9c" opacity="0.60"/>
<circle cx="517.5" cy="51.0" r="0.79" fill="#3e3a9c" opacity="0.44"/>
<circle cx="442.9" cy="34.8" r="0.74" fill="#3e3a9c" opacity="0.41"/>
<circle cx="463.5" cy="21.9" r="0.87" fill="#3e3a9c" opacity="0.67"/>
<circle cx="457.5" cy="28.0" r="0.78" fill="#3e3a9c" opacity="0.54"/>
<circle cx="514.7" cy="34.4" r="0.68" fill="#3e3a9c" opacity="0.79"/>
<circle cx="449.6" cy="46.7" r="0.70" fill="#3e3a9c" opacity="0.75"/>
<circle cx="483.0" cy="58.1" r="0.63" fill="#3e3a9c" opacity="0.67"/>
<circle cx="487.1" cy="40.7" r="0.89" fill="#3e3a9c" opacity="0.76"/>
<circle cx="447.4" cy="30.8" r="0.71" fill="#3e3a9c" opacity="0.41"/>
<circle cx="442.9" cy="30.3" r="0.64" fill="#3e3a9c" opacity="0.69"/>
<circle cx="474.7" cy="20.6" r="0.70" fill="#3e3a9c" opacity="0.56"/>
<circle cx="467.8" cy="23.7" r="0.58" fill="#3e3a9c" opacity="0.31"/>
<ellipse cx="483" cy="38" rx="1.3" ry="5" fill="#5a50c0" opacity="0.9" transform="rotate(22 483 38)"/>
<ellipse cx="443" cy="37" rx="1" ry="3.5" fill="#4a44b0" opacity="0.8" transform="rotate(30 443 37)"/>
<ellipse cx="515" cy="19" rx="1" ry="3.5" fill="#4a44b0" opacity="0.8" transform="rotate(-20 515 19)"/>
</g>
<g clip-path="url(#c21)">
<g filter="url(#b3)">
<circle cx="446" cy="103" r="7" fill="#2a2280" opacity="0.55"/>
<circle cx="480" cy="98" r="8" fill="#2a2280" opacity="0.55"/>
<circle cx="500" cy="97" r="8" fill="#2a2280" opacity="0.55"/>
<circle cx="472" cy="122" r="6" fill="#2a2280" opacity="0.55"/>
<circle cx="490" cy="85" r="6" fill="#2a2280" opacity="0.55"/>
<circle cx="512" cy="112" r="6" fill="#2a2280" opacity="0.55"/>
<circle cx="460" cy="85" r="5" fill="#2a2280" opacity="0.55"/>
</g><g filter="url(#b2)">
<circle cx="519.4" cy="117.4" r="0.65" fill="#4a42b4" opacity="0.74"/>
<circle cx="484.2" cy="81.1" r="0.89" fill="#7a6ed0" opacity="0.59"/>
<circle cx="482.5" cy="75.5" r="1.15" fill="#4a42b4" opacity="0.70"/>
<circle cx="514.7" cy="111.9" r="0.75" fill="#7a6ed0" opacity="0.49"/>
<circle cx="440.3" cy="118.8" r="1.10" fill="#7a6ed0" opacity="0.51"/>
<circle cx="490.3" cy="122.8" r="1.16" fill="#4a42b4" opacity="0.44"/>
<circle cx="506.1" cy="116.9" r="0.80" fill="#4a42b4" opacity="0.45"/>
<circle cx="464.3" cy="95.8" r="0.93" fill="#4a42b4" opacity="0.55"/>
<circle cx="457.6" cy="77.3" r="0.94" fill="#4a42b4" opacity="0.70"/>
<circle cx="495.9" cy="126.1" r="1.17" fill="#4a42b4" opacity="0.62"/>
<circle cx="450.9" cy="91.9" r="0.95" fill="#4a42b4" opacity="0.39"/>
<circle cx="451.4" cy="100.0" r="1.18" fill="#7a6ed0" opacity="0.40"/>
<circle cx="474.0" cy="85.8" r="1.03" fill="#4a42b4" opacity="0.35"/>
<circle cx="508.1" cy="119.5" r="0.86" fill="#4a42b4" opacity="0.51"/>
<circle cx="480.2" cy="98.8" r="0.80" fill="#4a42b4" opacity="0.59"/>
<circle cx="505.7" cy="126.1" r="0.70" fill="#4a42b4" opacity="0.51"/>
<circle cx="484.2" cy="94.7" r="0.72" fill="#4a42b4" opacity="0.40"/>
<circle cx="475.8" cy="129.9" r="1.15" fill="#4a42b4" opacity="0.83"/>
<circle cx="516.9" cy="110.0" r="1.09" fill="#4a42b4" opacity="0.38"/>
<circle cx="488.0" cy="91.8" r="0.94" fill="#4a42b4" opacity="0.87"/>
<circle cx="491.1" cy="91.9" r="0.81" fill="#7a6ed0" opacity="0.84"/>
<circle cx="453.5" cy="113.3" r="0.87" fill="#4a42b4" opacity="0.40"/>
<circle cx="468.5" cy="107.8" r="0.85" fill="#4a42b4" opacity="0.64"/>
<circle cx="470.5" cy="81.5" r="0.71" fill="#4a42b4" opacity="0.84"/>
<circle cx="447.2" cy="123.7" r="0.75" fill="#4a42b4" opacity="0.40"/>
<circle cx="458.6" cy="102.6" r="0.93" fill="#4a42b4" opacity="0.47"/>
<circle cx="447.3" cy="104.0" r="0.95" fill="#4a42b4" opacity="0.39"/>
<circle cx="444.0" cy="99.8" r="1.12" fill="#4a42b4" opacity="0.65"/>
<circle cx="500.1" cy="81.5" r="1.19" fill="#7a6ed0" opacity="0.75"/>
<circle cx="506.1" cy="97.1" r="0.70" fill="#4a42b4" opacity="0.88"/>
<circle cx="501.5" cy="82.7" r="1.07" fill="#4a42b4" opacity="0.38"/>
<circle cx="468.5" cy="75.9" r="0.96" fill="#4a42b4" opacity="0.47"/>
<circle cx="496.0" cy="99.1" r="1.13" fill="#4a42b4" opacity="0.69"/>
<circle cx="484.2" cy="126.8" r="1.12" fill="#4a42b4" opacity="0.44"/>
<circle cx="466.0" cy="118.1" r="1.01" fill="#7a6ed0" opacity="0.80"/>
<circle cx="468.6" cy="116.7" r="1.17" fill="#7a6ed0" opacity="0.75"/>
<circle cx="487.5" cy="80.6" r="0.93" fill="#7a6ed0" opacity="0.79"/>
<circle cx="513.9" cy="113.1" r="0.75" fill="#4a42b4" opacity="0.46"/>
<circle cx="506.7" cy="107.8" r="0.67" fill="#7a6ed0" opacity="0.36"/>
<circle cx="503.7" cy="85.5" r="0.93" fill="#4a42b4" opacity="0.51"/>
<circle cx="469.2" cy="83.1" r="1.13" fill="#4a42b4" opacity="0.65"/>
<circle cx="504.3" cy="128.6" r="0.61" fill="#7a6ed0" opacity="0.54"/>
<circle cx="479.1" cy="124.3" r="1.08" fill="#7a6ed0" opacity="0.37"/>
<circle cx="505.1" cy="113.4" r="0.84" fill="#7a6ed0" opacity="0.61"/>
<circle cx="507.3" cy="97.2" r="1.12" fill="#7a6ed0" opacity="0.69"/>
<circle cx="465.0" cy="87.2" r="1.14" fill="#7a6ed0" opacity="0.67"/>
<circle cx="451.9" cy="95.4" r="0.88" fill="#4a42b4" opacity="0.67"/>
<circle cx="467.0" cy="75.3" r="0.95" fill="#7a6ed0" opacity="0.53"/>
<circle cx="475.7" cy="130.7" r="0.63" fill="#4a42b4" opacity="0.43"/>
<circle cx="460.4" cy="90.4" r="0.90" fill="#4a42b4" opacity="0.49"/>
<circle cx="481.3" cy="129.1" r="1.20" fill="#4a42b4" opacity="0.37"/>
<circle cx="501.2" cy="124.3" r="1.06" fill="#4a42b4" opacity="0.70"/>
<circle cx="467.8" cy="90.9" r="1.08" fill="#4a42b4" opacity="0.83"/>
<circle cx="493.9" cy="92.2" r="1.06" fill="#4a42b4" opacity="0.76"/>
<circle cx="490.1" cy="94.8" r="0.93" fill="#7a6ed0" opacity="0.57"/>
<circle cx="465.7" cy="93.3" r="1.19" fill="#4a42b4" opacity="0.61"/>
<circle cx="458.0" cy="88.3" r="0.81" fill="#7a6ed0" opacity="0.42"/>
<circle cx="509.4" cy="100.6" r="0.87" fill="#4a42b4" opacity="0.66"/>
<circle cx="451.9" cy="78.7" r="0.78" fill="#4a42b4" opacity="0.52"/>
<circle cx="483.2" cy="128.0" r="0.80" fill="#4a42b4" opacity="0.86"/>
<circle cx="444.6" cy="85.1" r="0.95" fill="#4a42b4" opacity="0.89"/>
<circle cx="501.5" cy="99.2" r="1.12" fill="#4a42b4" opacity="0.39"/>
<circle cx="511.7" cy="90.6" r="0.75" fill="#7a6ed0" opacity="0.36"/>
<circle cx="460.0" cy="114.8" r="0.73" fill="#7a6ed0" opacity="0.57"/>
<circle cx="487.4" cy="123.8" r="0.99" fill="#4a42b4" opacity="0.46"/>
<circle cx="517.0" cy="109.0" r="0.65" fill="#4a42b4" opacity="0.80"/>
<circle cx="466.0" cy="82.7" r="0.71" fill="#4a42b4" opacity="0.65"/>
<circle cx="490.5" cy="127.1" r="0.73" fill="#4a42b4" opacity="0.53"/>
<circle cx="491.2" cy="97.9" r="1.01" fill="#7a6ed0" opacity="0.54"/>
<circle cx="472.0" cy="77.6" r="0.98" fill="#4a42b4" opacity="0.53"/>
<circle cx="487.0" cy="89.5" r="0.88" fill="#4a42b4" opacity="0.36"/>
<circle cx="484.3" cy="130.8" r="0.63" fill="#4a42b4" opacity="0.69"/>
<circle cx="465.0" cy="80.3" r="0.69" fill="#4a42b4" opacity="0.43"/>
<circle cx="445.4" cy="121.0" r="0.85" fill="#4a42b4" opacity="0.65"/>
<circle cx="483.5" cy="112.1" r="0.96" fill="#4a42b4" opacity="0.53"/>
<circle cx="459.1" cy="115.2" r="1.06" fill="#4a42b4" opacity="0.78"/>
<circle cx="501.4" cy="130.2" r="0.87" fill="#4a42b4" opacity="0.50"/>
<circle cx="515.2" cy="82.5" r="0.61" fill="#4a42b4" opacity="0.61"/>
<circle cx="501.5" cy="95.5" r="1.19" fill="#4a42b4" opacity="0.48"/>
<circle cx="445.4" cy="76.6" r="0.68" fill="#4a42b4" opacity="0.38"/>
<circle cx="483.5" cy="85.3" r="1.16" fill="#7a6ed0" opacity="0.55"/>
<circle cx="452.5" cy="116.7" r="1.15" fill="#7a6ed0" opacity="0.44"/>
<circle cx="501.8" cy="88.7" r="1.19" fill="#4a42b4" opacity="0.62"/>
<circle cx="466.2" cy="120.2" r="0.88" fill="#4a42b4" opacity="0.53"/>
<circle cx="446.8" cy="116.4" r="0.64" fill="#4a42b4" opacity="0.71"/>
<circle cx="508.9" cy="78.4" r="0.94" fill="#4a42b4" opacity="0.58"/>
<circle cx="515.5" cy="110.4" r="0.73" fill="#4a42b4" opacity="0.49"/>
<circle cx="473.6" cy="88.1" r="0.72" fill="#4a42b4" opacity="0.77"/>
<circle cx="462.5" cy="131.2" r="0.73" fill="#7a6ed0" opacity="0.66"/>
<circle cx="508.8" cy="124.1" r="0.76" fill="#4a42b4" opacity="0.76"/>
<circle cx="461.2" cy="93.7" r="0.89" fill="#7a6ed0" opacity="0.84"/>
<circle cx="494.0" cy="108.8" r="0.87" fill="#4a42b4" opacity="0.67"/>
<circle cx="455.2" cy="124.9" r="0.82" fill="#4a42b4" opacity="0.78"/>
<circle cx="452.9" cy="123.8" r="1.20" fill="#7a6ed0" opacity="0.51"/>
<circle cx="447.1" cy="130.1" r="0.61" fill="#7a6ed0" opacity="0.85"/>
<circle cx="498.4" cy="80.5" r="0.70" fill="#7a6ed0" opacity="0.73"/>
<circle cx="465.8" cy="126.9" r="1.03" fill="#4a42b4" opacity="0.84"/>
<circle cx="440.7" cy="88.3" r="1.08" fill="#7a6ed0" opacity="0.73"/>
<circle cx="479.4" cy="88.1" r="0.86" fill="#7a6ed0" opacity="0.41"/>
<circle cx="519.2" cy="92.9" r="1.13" fill="#4a42b4" opacity="0.42"/>
<circle cx="449.1" cy="99.2" r="0.71" fill="#7a6ed0" opacity="0.73"/>
<circle cx="498.5" cy="103.3" r="0.67" fill="#4a42b4" opacity="0.54"/>
<circle cx="513.3" cy="94.7" r="0.73" fill="#4a42b4" opacity="0.88"/>
<circle cx="498.0" cy="90.4" r="0.71" fill="#7a6ed0" opacity="0.50"/>
<circle cx="441.5" cy="103.7" r="0.84" fill="#4a42b4" opacity="0.66"/>
<circle cx="438.9" cy="113.9" r="0.99" fill="#4a42b4" opacity="0.65"/>
<circle cx="494.6" cy="130.5" r="1.12" fill="#4a42b4" opacity="0.74"/>
<circle cx="464.1" cy="98.7" r="1.18" fill="#4a42b4" opacity="0.56"/>
<circle cx="471.6" cy="83.1" r="1.20" fill="#4a42b4" opacity="0.35"/>
<circle cx="514.0" cy="89.4" r="0.97" fill="#4a42b4" opacity="0.56"/>
<circle cx="454.3" cy="81.6" r="1.11" fill="#4a42b4" opacity="0.78"/>
<circle cx="442.1" cy="114.2" r="0.79" fill="#4a42b4" opacity="0.71"/>
<circle cx="463.9" cy="129.9" r="0.60" fill="#4a42b4" opacity="0.76"/>
<circle cx="479.8" cy="108.5" r="1.20" fill="#4a42b4" opacity="0.48"/>
<circle cx="499.0" cy="96.4" r="1.03" fill="#4a42b4" opacity="0.57"/>
<circle cx="488.3" cy="113.3" r="0.79" fill="#4a42b4" opacity="0.70"/>
<circle cx="456.3" cy="109.6" r="0.76" fill="#4a42b4" opacity="0.85"/>
<circle cx="497.2" cy="104.5" r="0.89" fill="#7a6ed0" opacity="0.47"/>
<circle cx="514.0" cy="104.9" r="0.91" fill="#4a42b4" opacity="0.64"/>
<circle cx="457.6" cy="84.7" r="1.09" fill="#4a42b4" opacity="0.60"/>
<circle cx="505.9" cy="125.5" r="1.12" fill="#4a42b4" opacity="0.37"/>
<circle cx="506.2" cy="121.2" r="0.67" fill="#4a42b4" opacity="0.43"/>
<circle cx="446.4" cy="95.2" r="1.08" fill="#4a42b4" opacity="0.64"/>
<circle cx="445.2" cy="97.3" r="1.20" fill="#4a42b4" opacity="0.73"/>
<circle cx="477.2" cy="120.1" r="1.06" fill="#4a42b4" opacity="0.43"/>
<circle cx="468.1" cy="104.4" r="0.74" fill="#4a42b4" opacity="0.55"/>
<circle cx="469.3" cy="76.0" r="0.72" fill="#7a6ed0" opacity="0.66"/>
<circle cx="452.6" cy="115.6" r="0.76" fill="#4a42b4" opacity="0.53"/>
<circle cx="506.4" cy="80.2" r="0.98" fill="#7a6ed0" opacity="0.82"/>
<circle cx="472.7" cy="119.8" r="0.97" fill="#7a6ed0" opacity="0.55"/>
<circle cx="474.3" cy="95.7" r="1.03" fill="#4a42b4" opacity="0.51"/>
<circle cx="491.2" cy="120.8" r="0.81" fill="#4a42b4" opacity="0.56"/>
<circle cx="513.8" cy="85.8" r="1.18" fill="#4a42b4" opacity="0.74"/>
<circle cx="492.6" cy="93.6" r="0.64" fill="#4a42b4" opacity="0.77"/>
<circle cx="481.1" cy="103.1" r="1.14" fill="#7a6ed0" opacity="0.77"/>
<circle cx="486.6" cy="101.1" r="0.88" fill="#4a42b4" opacity="0.81"/>
<circle cx="476.8" cy="125.3" r="0.86" fill="#4a42b4" opacity="0.62"/>
<circle cx="505.6" cy="112.9" r="1.04" fill="#7a6ed0" opacity="0.57"/>
<circle cx="493.7" cy="106.3" r="1.06" fill="#7a6ed0" opacity="0.77"/>
<circle cx="456.1" cy="79.4" r="1.09" fill="#7a6ed0" opacity="0.41"/>
<circle cx="499.8" cy="106.9" r="0.63" fill="#4a42b4" opacity="0.72"/>
<circle cx="477.6" cy="78.1" r="1.01" fill="#4a42b4" opacity="0.58"/>
<circle cx="519.8" cy="121.2" r="1.12" fill="#4a42b4" opacity="0.43"/>
<circle cx="480.5" cy="75.3" r="1.19" fill="#4a42b4" opacity="0.50"/>
<circle cx="463.7" cy="89.4" r="1.12" fill="#4a42b4" opacity="0.66"/>
<circle cx="472.5" cy="77.9" r="0.78" fill="#4a42b4" opacity="0.83"/>
<circle cx="508.2" cy="89.5" r="0.72" fill="#4a42b4" opacity="0.38"/>
<circle cx="468.7" cy="101.2" r="0.89" fill="#4a42b4" opacity="0.67"/>
<circle cx="503.7" cy="86.3" r="1.15" fill="#7a6ed0" opacity="0.66"/>
<circle cx="463.8" cy="105.1" r="0.85" fill="#4a42b4" opacity="0.66"/>
<circle cx="460.4" cy="120.0" r="0.77" fill="#4a42b4" opacity="0.74"/>
<circle cx="486.6" cy="100.7" r="1.16" fill="#4a42b4" opacity="0.59"/>
<circle cx="442.7" cy="99.5" r="0.98" fill="#4a42b4" opacity="0.38"/>
<circle cx="443.9" cy="108.7" r="0.71" fill="#4a42b4" opacity="0.86"/>
<circle cx="503.7" cy="103.1" r="1.00" fill="#4a42b4" opacity="0.72"/>
<circle cx="455.3" cy="122.4" r="0.69" fill="#7a6ed0" opacity="0.85"/>
<circle cx="446.3" cy="80.4" r="1.07" fill="#4a42b4" opacity="0.87"/>
<circle cx="492.0" cy="89.6" r="1.14" fill="#7a6ed0" opacity="0.73"/>
<circle cx="442.6" cy="114.3" r="0.63" fill="#4a42b4" opacity="0.81"/>
<circle cx="457.1" cy="107.9" r="0.79" fill="#7a6ed0" opacity="0.66"/>
<circle cx="512.8" cy="93.3" r="1.10" fill="#4a42b4" opacity="0.43"/>
<circle cx="518.4" cy="97.1" r="0.62" fill="#4a42b4" opacity="0.56"/>
<circle cx="456.3" cy="105.8" r="0.66" fill="#4a42b4" opacity="0.61"/>
<circle cx="473.2" cy="113.4" r="0.67" fill="#7a6ed0" opacity="0.81"/>
<circle cx="513.7" cy="131.3" r="1.16" fill="#4a42b4" opacity="0.64"/>
<circle cx="466.5" cy="117.4" r="0.90" fill="#7a6ed0" opacity="0.86"/>
<circle cx="477.7" cy="123.8" r="0.96" fill="#7a6ed0" opacity="0.65"/>
<circle cx="449.5" cy="90.3" r="1.14" fill="#4a42b4" opacity="0.81"/>
<circle cx="513.8" cy="76.8" r="0.96" fill="#4a42b4" opacity="0.88"/>
<circle cx="515.4" cy="112.1" r="0.63" fill="#4a42b4" opacity="0.53"/>
<circle cx="458.3" cy="116.9" r="0.71" fill="#4a42b4" opacity="0.78"/>
<circle cx="443.7" cy="106.6" r="0.66" fill="#4a42b4" opacity="0.65"/>
<circle cx="486.8" cy="101.1" r="0.62" fill="#7a6ed0" opacity="0.63"/>
<circle cx="491.0" cy="82.5" r="0.95" fill="#4a42b4" opacity="0.54"/>
<circle cx="492.4" cy="84.3" r="0.70" fill="#4a42b4" opacity="0.87"/>
<circle cx="507.1" cy="124.3" r="0.89" fill="#7a6ed0" opacity="0.43"/>
<circle cx="510.1" cy="81.6" r="0.90" fill="#7a6ed0" opacity="0.64"/>
<circle cx="476.4" cy="84.3" r="0.92" fill="#4a42b4" opacity="0.63"/>
<circle cx="454.2" cy="97.8" r="0.72" fill="#4a42b4" opacity="0.42"/>
<circle cx="509.5" cy="103.4" r="1.13" fill="#4a42b4" opacity="0.36"/>
<circle cx="478.0" cy="119.7" r="0.94" fill="#4a42b4" opacity="0.73"/>
<circle cx="499.5" cy="83.7" r="0.76" fill="#4a42b4" opacity="0.37"/>
<circle cx="480.5" cy="91.5" r="1.13" fill="#4a42b4" opacity="0.40"/>
<circle cx="457.2" cy="108.6" r="1.07" fill="#7a6ed0" opacity="0.74"/>
<circle cx="458.2" cy="108.9" r="1.19" fill="#4a42b4" opacity="0.37"/>
<circle cx="494.7" cy="121.0" r="0.81" fill="#4a42b4" opacity="0.80"/>
<circle cx="513.5" cy="75.6" r="1.16" fill="#4a42b4" opacity="0.58"/>
<circle cx="445.2" cy="88.8" r="1.04" fill="#7a6ed0" opacity="0.72"/>
<circle cx="466.2" cy="82.9" r="0.72" fill="#4a42b4" opacity="0.47"/>
<circle cx="518.0" cy="131.3" r="1.07" fill="#4a42b4" opacity="0.61"/>
<circle cx="501.9" cy="126.3" r="1.05" fill="#7a6ed0" opacity="0.70"/>
<circle cx="489.3" cy="122.8" r="1.07" fill="#4a42b4" opacity="0.40"/>
<circle cx="466.6" cy="84.2" r="1.18" fill="#4a42b4" opacity="0.72"/>
<circle cx="449.1" cy="121.8" r="1.16" fill="#4a42b4" opacity="0.85"/>
<circle cx="506.3" cy="120.3" r="0.95" fill="#4a42b4" opacity="0.59"/>
<circle cx="502.3" cy="124.2" r="0.78" fill="#4a42b4" opacity="0.88"/>
<circle cx="515.6" cy="81.5" r="1.18" fill="#4a42b4" opacity="0.78"/>
<circle cx="506.7" cy="88.1" r="0.72" fill="#4a42b4" opacity="0.60"/>
<circle cx="478.4" cy="126.3" r="1.01" fill="#4a42b4" opacity="0.74"/>
<circle cx="502.3" cy="119.8" r="1.01" fill="#4a42b4" opacity="0.87"/>
<circle cx="471.3" cy="79.9" r="0.99" fill="#4a42b4" opacity="0.81"/>
<circle cx="486.8" cy="122.3" r="1.08" fill="#4a42b4" opacity="0.35"/>
<circle cx="439.3" cy="81.2" r="1.09" fill="#4a42b4" opacity="0.58"/>
<circle cx="475.5" cy="94.0" r="0.73" fill="#4a42b4" opacity="0.54"/>
<circle cx="488.8" cy="91.5" r="0.65" fill="#4a42b4" opacity="0.50"/>
<circle cx="474.2" cy="112.3" r="1.08" fill="#4a42b4" opacity="0.42"/>
<circle cx="441.4" cy="121.5" r="0.71" fill="#4a42b4" opacity="0.50"/>
<circle cx="467.7" cy="87.7" r="1.13" fill="#4a42b4" opacity="0.69"/>
<circle cx="470.3" cy="103.2" r="1.17" fill="#4a42b4" opacity="0.63"/>
<circle cx="453.5" cy="121.9" r="0.70" fill="#7a6ed0" opacity="0.64"/>
<circle cx="452.4" cy="128.4" r="0.87" fill="#4a42b4" opacity="0.80"/>
<circle cx="466.9" cy="80.7" r="0.93" fill="#4a42b4" opacity="0.82"/>
<circle cx="468.9" cy="127.5" r="1.14" fill="#7a6ed0" opacity="0.72"/>
<circle cx="489.2" cy="100.1" r="1.17" fill="#4a42b4" opacity="0.55"/>
<circle cx="489.8" cy="96.2" r="0.91" fill="#4a42b4" opacity="0.72"/>
<circle cx="478.8" cy="95.6" r="1.19" fill="#4a42b4" opacity="0.38"/>
<circle cx="494.0" cy="106.5" r="0.87" fill="#4a42b4" opacity="0.76"/>
<circle cx="497.8" cy="117.4" r="0.62" fill="#7a6ed0" opacity="0.53"/>
<circle cx="516.1" cy="125.4" r="0.69" fill="#4a42b4" opacity="0.67"/>
<circle cx="441.8" cy="97.2" r="1.05" fill="#4a42b4" opacity="0.70"/>
<circle cx="500.5" cy="91.5" r="0.93" fill="#4a42b4" opacity="0.58"/>
<circle cx="491.2" cy="120.5" r="1.01" fill="#4a42b4" opacity="0.56"/>
<circle cx="496.2" cy="114.0" r="0.77" fill="#4a42b4" opacity="0.44"/>
<circle cx="505.7" cy="119.8" r="0.81" fill="#4a42b4" opacity="0.43"/>
<circle cx="509.9" cy="84.2" r="1.04" fill="#4a42b4" opacity="0.44"/>
<circle cx="442.4" cy="91.8" r="0.83" fill="#4a42b4" opacity="0.88"/>
<circle cx="453.3" cy="92.5" r="1.17" fill="#4a42b4" opacity="0.46"/>
<circle cx="473.9" cy="81.1" r="0.76" fill="#4a42b4" opacity="0.57"/>
<circle cx="517.0" cy="90.1" r="0.72" fill="#4a42b4" opacity="0.85"/>
<circle cx="506.6" cy="111.0" r="1.07" fill="#7a6ed0" opacity="0.52"/>
<circle cx="500.1" cy="101.6" r="0.94" fill="#4a42b4" opacity="0.72"/>
<circle cx="460.6" cy="95.5" r="1.15" fill="#4a42b4" opacity="0.64"/>
<circle cx="489.7" cy="89.7" r="1.06" fill="#4a42b4" opacity="0.37"/>
<circle cx="484.5" cy="95.0" r="1.16" fill="#4a42b4" opacity="0.50"/>
<circle cx="443.7" cy="106.0" r="1.05" fill="#4a42b4" opacity="0.72"/>
<circle cx="504.2" cy="81.3" r="0.78" fill="#4a42b4" opacity="0.70"/>
<circle cx="490.0" cy="114.1" r="1.06" fill="#4a42b4" opacity="0.57"/>
<circle cx="498.9" cy="94.3" r="0.84" fill="#4a42b4" opacity="0.79"/>
<circle cx="453.2" cy="124.2" r="0.92" fill="#4a42b4" opacity="0.64"/>
<circle cx="511.9" cy="82.5" r="0.80" fill="#4a42b4" opacity="0.39"/>
<circle cx="479.2" cy="123.1" r="1.00" fill="#4a42b4" opacity="0.67"/>
<circle cx="485.0" cy="90.5" r="1.11" fill="#4a42b4" opacity="0.78"/>
<circle cx="450.4" cy="112.9" r="1.05" fill="#4a42b4" opacity="0.63"/>
<circle cx="511.7" cy="117.0" r="1.09" fill="#4a42b4" opacity="0.71"/>
<circle cx="448.8" cy="114.8" r="1.02" fill="#4a42b4" opacity="0.69"/>
<circle cx="443.5" cy="109.1" r="1.09" fill="#7a6ed0" opacity="0.50"/>
<circle cx="456.4" cy="80.3" r="1.01" fill="#4a42b4" opacity="0.89"/>
<circle cx="467.5" cy="114.5" r="0.64" fill="#4a42b4" opacity="0.81"/>
<circle cx="438.3" cy="110.6" r="0.68" fill="#7a6ed0" opacity="0.50"/>
<circle cx="474.5" cy="106.4" r="1.08" fill="#4a42b4" opacity="0.37"/>
<circle cx="447.1" cy="87.7" r="0.98" fill="#4a42b4" opacity="0.54"/>
<circle cx="484.6" cy="87.3" r="1.08" fill="#4a42b4" opacity="0.46"/>
<circle cx="504.3" cy="105.3" r="0.62" fill="#7a6ed0" opacity="0.78"/>
<circle cx="479.4" cy="99.0" r="0.64" fill="#4a42b4" opacity="0.70"/>
<circle cx="486.0" cy="97.6" r="0.91" fill="#4a42b4" opacity="0.67"/>
<circle cx="509.1" cy="131.3" r="1.08" fill="#4a42b4" opacity="0.88"/>
<circle cx="518.9" cy="79.0" r="0.89" fill="#4a42b4" opacity="0.42"/>
<circle cx="494.0" cy="115.0" r="0.87" fill="#7a6ed0" opacity="0.54"/>
<circle cx="471.0" cy="91.0" r="0.72" fill="#4a42b4" opacity="0.75"/>
<circle cx="474.0" cy="86.2" r="1.02" fill="#4a42b4" opacity="0.46"/>
<circle cx="483.9" cy="114.6" r="1.18" fill="#4a42b4" opacity="0.76"/>
<circle cx="513.4" cy="115.8" r="1.03" fill="#7a6ed0" opacity="0.38"/>
<circle cx="439.1" cy="123.8" r="1.03" fill="#4a42b4" opacity="0.70"/>
<circle cx="467.1" cy="84.2" r="0.98" fill="#4a42b4" opacity="0.90"/>
<circle cx="441.6" cy="84.9" r="0.81" fill="#4a42b4" opacity="0.84"/>
<circle cx="475.3" cy="80.8" r="0.66" fill="#4a42b4" opacity="0.43"/>
<circle cx="476.6" cy="131.0" r="1.15" fill="#4a42b4" opacity="0.79"/>
<circle cx="505.4" cy="82.2" r="0.67" fill="#4a42b4" opacity="0.66"/>
<circle cx="455.2" cy="89.2" r="0.61" fill="#4a42b4" opacity="0.85"/>
<circle cx="515.5" cy="130.4" r="0.86" fill="#4a42b4" opacity="0.75"/>
<circle cx="504.6" cy="122.5" r="0.68" fill="#7a6ed0" opacity="0.36"/>
<circle cx="486.0" cy="96.4" r="0.61" fill="#4a42b4" opacity="0.81"/>
<circle cx="476.0" cy="77.4" r="1.13" fill="#7a6ed0" opacity="0.64"/>
<circle cx="464.5" cy="110.3" r="1.13" fill="#4a42b4" opacity="0.62"/>
<circle cx="454.9" cy="88.8" r="1.14" fill="#7a6ed0" opacity="0.56"/>
<circle cx="486.5" cy="82.1" r="0.72" fill="#4a42b4" opacity="0.60"/>
<circle cx="490.2" cy="114.9" r="0.86" fill="#4a42b4" opacity="0.39"/>
<circle cx="442.4" cy="101.6" r="0.84" fill="#4a42b4" opacity="0.72"/>
<circle cx="457.7" cy="111.7" r="1.02" fill="#7a6ed0" opacity="0.61"/>
<circle cx="512.5" cy="108.8" r="0.64" fill="#4a42b4" opacity="0.48"/>
<circle cx="456.8" cy="97.2" r="1.07" fill="#4a42b4" opacity="0.80"/>
<circle cx="498.8" cy="77.2" r="0.66" fill="#4a42b4" opacity="0.89"/>
<circle cx="441.1" cy="77.8" r="0.74" fill="#7a6ed0" opacity="0.86"/>
<circle cx="493.1" cy="127.6" r="0.98" fill="#4a42b4" opacity="0.86"/>
<circle cx="450.6" cy="76.0" r="1.05" fill="#4a42b4" opacity="0.41"/>
<circle cx="496.2" cy="85.6" r="1.08" fill="#4a42b4" opacity="0.44"/>
<circle cx="446.7" cy="119.5" r="1.13" fill="#7a6ed0" opacity="0.85"/>
<circle cx="507.8" cy="106.4" r="1.09" fill="#4a42b4" opacity="0.63"/>
<circle cx="486.8" cy="120.2" r="0.65" fill="#4a42b4" opacity="0.38"/>
<circle cx="461.9" cy="97.4" r="0.60" fill="#7a6ed0" opacity="0.76"/>
<circle cx="506.0" cy="120.9" r="0.87" fill="#4a42b4" opacity="0.42"/>
<circle cx="455.0" cy="99.2" r="0.67" fill="#4a42b4" opacity="0.89"/>
<circle cx="466.9" cy="80.3" r="1.04" fill="#4a42b4" opacity="0.82"/>
<circle cx="446.3" cy="95.8" r="0.78" fill="#7a6ed0" opacity="0.77"/>
<circle cx="487.7" cy="130.3" r="1.06" fill="#7a6ed0" opacity="0.35"/>
<circle cx="447.3" cy="114.1" r="0.96" fill="#4a42b4" opacity="0.64"/>
<circle cx="471.4" cy="109.5" r="0.99" fill="#4a42b4" opacity="0.85"/>
<circle cx="503.3" cy="126.6" r="1.10" fill="#7a6ed0" opacity="0.74"/>
<circle cx="493.8" cy="123.0" r="0.86" fill="#7a6ed0" opacity="0.83"/>
<circle cx="515.3" cy="100.0" r="1.02" fill="#4a42b4" opacity="0.49"/>
<circle cx="466.6" cy="93.3" r="0.66" fill="#4a42b4" opacity="0.59"/>
<circle cx="491.6" cy="127.7" r="1.06" fill="#4a42b4" opacity="0.81"/>
<circle cx="499.7" cy="90.5" r="0.75" fill="#7a6ed0" opacity="0.58"/>
<circle cx="456.9" cy="125.1" r="1.15" fill="#4a42b4" opacity="0.53"/>
<circle cx="501.5" cy="125.3" r="1.08" fill="#7a6ed0" opacity="0.64"/>
<circle cx="505.7" cy="92.7" r="0.98" fill="#4a42b4" opacity="0.55"/>
<circle cx="517.2" cy="84.1" r="0.92" fill="#4a42b4" opacity="0.71"/>
<circle cx="514.9" cy="98.0" r="1.15" fill="#4a42b4" opacity="0.73"/>
<circle cx="445.4" cy="87.0" r="0.77" fill="#7a6ed0" opacity="0.85"/>
<circle cx="459.3" cy="115.4" r="1.19" fill="#4a42b4" opacity="0.45"/>
<circle cx="494.3" cy="114.0" r="1.05" fill="#4a42b4" opacity="0.76"/>
<circle cx="459.1" cy="76.6" r="1.01" fill="#4a42b4" opacity="0.47"/>
<circle cx="517.1" cy="111.3" r="0.95" fill="#4a42b4" opacity="0.71"/>
<circle cx="495.0" cy="92.2" r="0.64" fill="#7a6ed0" opacity="0.39"/>
<circle cx="467.6" cy="83.0" r="0.67" fill="#4a42b4" opacity="0.62"/>
<circle cx="494.4" cy="90.5" r="1.06" fill="#7a6ed0" opacity="0.45"/>
<circle cx="462.9" cy="98.1" r="1.01" fill="#4a42b4" opacity="0.59"/>
<circle cx="445.8" cy="127.7" r="0.81" fill="#7a6ed0" opacity="0.81"/>
<circle cx="506.0" cy="87.8" r="1.11" fill="#4a42b4" opacity="0.79"/>
<circle cx="460.8" cy="75.6" r="0.71" fill="#7a6ed0" opacity="0.85"/>
<circle cx="492.1" cy="108.2" r="1.00" fill="#7a6ed0" opacity="0.45"/>
<circle cx="446.0" cy="130.5" r="0.83" fill="#4a42b4" opacity="0.71"/>
<circle cx="456.3" cy="78.7" r="0.61" fill="#7a6ed0" opacity="0.82"/>
<circle cx="517.0" cy="95.5" r="1.03" fill="#4a42b4" opacity="0.43"/>
<circle cx="458.6" cy="95.7" r="0.91" fill="#4a42b4" opacity="0.41"/>
<circle cx="503.3" cy="91.1" r="0.83" fill="#4a42b4" opacity="0.77"/>
<circle cx="453.9" cy="87.4" r="0.83" fill="#4a42b4" opacity="0.55"/>
<circle cx="476.7" cy="124.1" r="0.63" fill="#4a42b4" opacity="0.71"/>
<circle cx="457.3" cy="76.7" r="0.86" fill="#4a42b4" opacity="0.41"/>
<circle cx="496.3" cy="80.3" r="0.67" fill="#7a6ed0" opacity="0.61"/>
<circle cx="456.9" cy="99.9" r="0.67" fill="#4a42b4" opacity="0.39"/>
<circle cx="476.5" cy="127.9" r="0.93" fill="#4a42b4" opacity="0.39"/>
<circle cx="499.0" cy="106.8" r="1.12" fill="#4a42b4" opacity="0.88"/>
<circle cx="447.0" cy="128.3" r="0.91" fill="#7a6ed0" opacity="0.48"/>
<circle cx="508.9" cy="87.0" r="0.65" fill="#4a42b4" opacity="0.50"/>
<circle cx="475.8" cy="116.3" r="0.64" fill="#4a42b4" opacity="0.60"/>
<circle cx="454.8" cy="112.5" r="0.82" fill="#4a42b4" opacity="0.42"/>
<circle cx="477.5" cy="85.2" r="0.61" fill="#4a42b4" opacity="0.71"/>
<circle cx="440.0" cy="101.6" r="1.04" fill="#4a42b4" opacity="0.65"/>
<circle cx="478.9" cy="109.2" r="0.99" fill="#4a42b4" opacity="0.43"/>
<circle cx="515.5" cy="116.8" r="1.11" fill="#4a42b4" opacity="0.55"/>
<circle cx="452.9" cy="87.8" r="0.96" fill="#7a6ed0" opacity="0.85"/>
<circle cx="455.8" cy="77.0" r="0.86" fill="#7a6ed0" opacity="0.43"/>
<circle cx="499.4" cy="108.0" r="1.16" fill="#4a42b4" opacity="0.57"/>
<circle cx="439.0" cy="128.6" r="0.74" fill="#4a42b4" opacity="0.61"/>
<circle cx="515.8" cy="102.8" r="1.20" fill="#7a6ed0" opacity="0.69"/>
<circle cx="506.4" cy="86.4" r="1.20" fill="#4a42b4" opacity="0.60"/>
<circle cx="516.8" cy="93.2" r="0.84" fill="#4a42b4" opacity="0.54"/>
<circle cx="439.9" cy="96.1" r="0.70" fill="#7a6ed0" opacity="0.81"/>
<circle cx="487.8" cy="89.6" r="0.87" fill="#4a42b4" opacity="0.66"/>
<circle cx="449.3" cy="88.6" r="0.67" fill="#7a6ed0" opacity="0.88"/>
<circle cx="449.2" cy="104.5" r="0.95" fill="#7a6ed0" opacity="0.84"/>
<circle cx="457.2" cy="84.5" r="0.95" fill="#4a42b4" opacity="0.60"/>
<circle cx="510.8" cy="112.4" r="1.12" fill="#4a42b4" opacity="0.88"/>
<circle cx="515.2" cy="98.0" r="0.63" fill="#7a6ed0" opacity="0.85"/>
<circle cx="439.4" cy="91.4" r="0.77" fill="#4a42b4" opacity="0.88"/>
<circle cx="472.4" cy="104.9" r="1.11" fill="#4a42b4" opacity="0.79"/>
<circle cx="480.0" cy="81.6" r="0.75" fill="#4a42b4" opacity="0.71"/>
<circle cx="503.7" cy="125.8" r="1.18" fill="#7a6ed0" opacity="0.46"/>
<circle cx="511.6" cy="107.2" r="0.71" fill="#4a42b4" opacity="0.73"/>
<circle cx="457.4" cy="95.7" r="0.91" fill="#7a6ed0" opacity="0.72"/>
<circle cx="498.8" cy="110.3" r="0.88" fill="#4a42b4" opacity="0.72"/>
<circle cx="438.8" cy="101.9" r="1.01" fill="#4a42b4" opacity="0.74"/>
<circle cx="452.8" cy="129.2" r="1.07" fill="#4a42b4" opacity="0.48"/>
<circle cx="516.5" cy="86.7" r="0.85" fill="#4a42b4" opacity="0.88"/>
<circle cx="457.1" cy="116.5" r="0.82" fill="#4a42b4" opacity="0.71"/>
<circle cx="448.5" cy="87.6" r="0.73" fill="#7a6ed0" opacity="0.50"/>
<circle cx="449.2" cy="97.9" r="0.85" fill="#4a42b4" opacity="0.39"/>
<circle cx="515.3" cy="107.6" r="0.81" fill="#4a42b4" opacity="0.74"/>
<circle cx="452.4" cy="102.2" r="0.61" fill="#7a6ed0" opacity="0.72"/>
<circle cx="468.3" cy="129.4" r="1.06" fill="#4a42b4" opacity="0.81"/>
<circle cx="490.0" cy="114.8" r="1.18" fill="#4a42b4" opacity="0.46"/>
<circle cx="462.7" cy="89.5" r="1.09" fill="#4a42b4" opacity="0.68"/>
<circle cx="509.8" cy="108.3" r="0.72" fill="#4a42b4" opacity="0.36"/>
<circle cx="497.5" cy="90.4" r="0.64" fill="#7a6ed0" opacity="0.35"/>
<circle cx="495.1" cy="75.2" r="0.74" fill="#4a42b4" opacity="0.50"/>
<circle cx="519.0" cy="76.1" r="0.67" fill="#4a42b4" opacity="0.86"/>
<circle cx="450.2" cy="93.9" r="0.91" fill="#4a42b4" opacity="0.53"/>
<circle cx="477.3" cy="89.6" r="0.63" fill="#7a6ed0" opacity="0.40"/>
<circle cx="445.5" cy="110.3" r="1.02" fill="#4a42b4" opacity="0.49"/>
<circle cx="497.8" cy="94.3" r="0.90" fill="#4a42b4" opacity="0.45"/>
<circle cx="484.0" cy="77.9" r="0.69" fill="#4a42b4" opacity="0.73"/>
<circle cx="496.8" cy="88.0" r="1.08" fill="#7a6ed0" opacity="0.79"/>
<circle cx="486.1" cy="85.8" r="1.02" fill="#4a42b4" opacity="0.79"/>
<circle cx="457.0" cy="80.3" r="1.00" fill="#7a6ed0" opacity="0.66"/>
<circle cx="453.8" cy="107.9" r="0.66" fill="#4a42b4" opacity="0.70"/>
<circle cx="459.2" cy="98.9" r="0.92" fill="#7a6ed0" opacity="0.75"/>
<circle cx="497.4" cy="87.5" r="0.77" fill="#4a42b4" opacity="0.70"/>
<circle cx="488.4" cy="126.0" r="0.72" fill="#4a42b4" opacity="0.52"/>
<circle cx="459.4" cy="83.9" r="0.74" fill="#4a42b4" opacity="0.77"/>
<circle cx="496.7" cy="129.2" r="1.08" fill="#4a42b4" opacity="0.52"/>
<circle cx="497.1" cy="78.1" r="0.97" fill="#7a6ed0" opacity="0.40"/>
<circle cx="480.1" cy="83.5" r="1.16" fill="#4a42b4" opacity="0.83"/>
<circle cx="454.2" cy="81.8" r="0.90" fill="#4a42b4" opacity="0.64"/>
<circle cx="496.7" cy="104.9" r="1.07" fill="#7a6ed0" opacity="0.41"/>
<circle cx="469.7" cy="102.3" r="0.75" fill="#4a42b4" opacity="0.72"/>
<circle cx="464.1" cy="101.9" r="1.03" fill="#4a42b4" opacity="0.77"/>
<circle cx="474.6" cy="127.4" r="1.16" fill="#7a6ed0" opacity="0.69"/>
<circle cx="475.4" cy="111.0" r="0.77" fill="#4a42b4" opacity="0.37"/>
<circle cx="512.6" cy="82.3" r="0.88" fill="#4a42b4" opacity="0.69"/>
<circle cx="443.6" cy="117.4" r="1.06" fill="#7a6ed0" opacity="0.59"/>
<circle cx="470.3" cy="80.3" r="1.18" fill="#4a42b4" opacity="0.38"/>
<circle cx="501.0" cy="82.6" r="0.66" fill="#7a6ed0" opacity="0.39"/>
<circle cx="481.6" cy="122.1" r="0.70" fill="#4a42b4" opacity="0.45"/>
<circle cx="472.9" cy="94.1" r="0.67" fill="#4a42b4" opacity="0.48"/>
<circle cx="447.6" cy="89.7" r="1.04" fill="#4a42b4" opacity="0.84"/>
<circle cx="476.8" cy="129.0" r="0.96" fill="#4a42b4" opacity="0.51"/>
<circle cx="496.7" cy="116.5" r="0.68" fill="#4a42b4" opacity="0.46"/>
<circle cx="446.8" cy="121.0" r="0.80" fill="#4a42b4" opacity="0.49"/>
<circle cx="476.5" cy="131.0" r="0.69" fill="#4a42b4" opacity="0.82"/>
<circle cx="452.2" cy="117.1" r="0.80" fill="#4a42b4" opacity="0.45"/>
<circle cx="505.4" cy="123.8" r="0.94" fill="#4a42b4" opacity="0.36"/>
<circle cx="487.7" cy="125.8" r="1.17" fill="#4a42b4" opacity="0.53"/>
<circle cx="505.2" cy="90.0" r="0.82" fill="#4a42b4" opacity="0.56"/>
<circle cx="469.0" cy="81.2" r="0.74" fill="#4a42b4" opacity="0.85"/>
<circle cx="490.1" cy="125.1" r="1.05" fill="#4a42b4" opacity="0.48"/>
<circle cx="503.9" cy="131.0" r="1.04" fill="#4a42b4" opacity="0.77"/>
<circle cx="458.8" cy="112.1" r="0.83" fill="#7a6ed0" opacity="0.81"/>
<circle cx="482.2" cy="94.0" r="1.09" fill="#4a42b4" opacity="0.54"/>
<circle cx="507.5" cy="124.7" r="0.68" fill="#4a42b4" opacity="0.87"/>
<circle cx="493.5" cy="111.9" r="0.63" fill="#4a42b4" opacity="0.83"/>
<circle cx="475.4" cy="94.2" r="1.07" fill="#4a42b4" opacity="0.78"/>
<circle cx="455.6" cy="94.2" r="0.75" fill="#4a42b4" opacity="0.41"/>
<circle cx="440.1" cy="120.0" r="0.74" fill="#7a6ed0" opacity="0.39"/>
<circle cx="498.8" cy="86.2" r="0.88" fill="#4a42b4" opacity="0.57"/>
<circle cx="516.2" cy="92.5" r="0.98" fill="#4a42b4" opacity="0.84"/>
<circle cx="511.8" cy="116.5" r="0.79" fill="#4a42b4" opacity="0.83"/>
<circle cx="446.7" cy="108.2" r="1.10" fill="#4a42b4" opacity="0.64"/>
<circle cx="472.1" cy="124.7" r="1.00" fill="#4a42b4" opacity="0.46"/>
<circle cx="467.8" cy="129.2" r="1.02" fill="#4a42b4" opacity="0.42"/>
<circle cx="440.9" cy="108.4" r="0.86" fill="#4a42b4" opacity="0.74"/>
<circle cx="445.6" cy="104.6" r="1.09" fill="#4a42b4" opacity="0.78"/>
<circle cx="456.2" cy="117.1" r="1.08" fill="#4a42b4" opacity="0.47"/>
<circle cx="519.4" cy="99.5" r="0.83" fill="#4a42b4" opacity="0.74"/>
<circle cx="454.5" cy="92.0" r="0.80" fill="#7a6ed0" opacity="0.75"/>
<circle cx="482.8" cy="103.3" r="1.00" fill="#4a42b4" opacity="0.43"/>
<circle cx="520.0" cy="106.7" r="1.08" fill="#4a42b4" opacity="0.45"/>
<circle cx="483.2" cy="117.9" r="1.12" fill="#4a42b4" opacity="0.55"/>
<circle cx="455.0" cy="76.3" r="0.90" fill="#4a42b4" opacity="0.84"/>
<circle cx="516.3" cy="103.9" r="1.16" fill="#7a6ed0" opacity="0.66"/>
<circle cx="489.7" cy="120.4" r="0.85" fill="#4a42b4" opacity="0.68"/>
<circle cx="460.6" cy="98.7" r="0.91" fill="#7a6ed0" opacity="0.61"/>
<circle cx="438.5" cy="94.2" r="1.03" fill="#4a42b4" opacity="0.76"/>
<circle cx="459.0" cy="104.2" r="0.71" fill="#4a42b4" opacity="0.68"/>
<circle cx="454.6" cy="108.1" r="1.03" fill="#4a42b4" opacity="0.76"/>
<circle cx="496.3" cy="90.4" r="1.10" fill="#7a6ed0" opacity="0.86"/>
<circle cx="515.4" cy="100.0" r="0.65" fill="#4a42b4" opacity="0.39"/>
<circle cx="493.6" cy="83.0" r="0.88" fill="#4a42b4" opacity="0.70"/>
<circle cx="465.6" cy="118.3" r="0.75" fill="#7a6ed0" opacity="0.46"/>
<circle cx="471.6" cy="109.9" r="0.78" fill="#7a6ed0" opacity="0.44"/>
<circle cx="445.0" cy="85.9" r="0.79" fill="#7a6ed0" opacity="0.63"/>
<circle cx="477.3" cy="99.9" r="1.18" fill="#4a42b4" opacity="0.62"/>
<circle cx="476.7" cy="86.2" r="0.96" fill="#7a6ed0" opacity="0.43"/>
<circle cx="444.0" cy="114.6" r="1.18" fill="#4a42b4" opacity="0.57"/>
<circle cx="472.9" cy="94.9" r="1.01" fill="#7a6ed0" opacity="0.57"/>
<circle cx="508.9" cy="107.4" r="0.60" fill="#4a42b4" opacity="0.82"/>
<circle cx="467.1" cy="110.6" r="1.15" fill="#4a42b4" opacity="0.57"/>
<circle cx="462.5" cy="106.3" r="1.00" fill="#4a42b4" opacity="0.75"/>
<circle cx="449.9" cy="95.7" r="1.11" fill="#4a42b4" opacity="0.79"/>
<circle cx="493.5" cy="94.2" r="1.17" fill="#4a42b4" opacity="0.65"/>
<circle cx="453.0" cy="81.5" r="1.14" fill="#7a6ed0" opacity="0.79"/>
<circle cx="464.5" cy="102.1" r="0.90" fill="#4a42b4" opacity="0.55"/>
<circle cx="466.7" cy="105.1" r="1.16" fill="#4a42b4" opacity="0.70"/>
<circle cx="465.3" cy="96.9" r="0.97" fill="#4a42b4" opacity="0.78"/>
<circle cx="468.4" cy="96.9" r="0.82" fill="#4a42b4" opacity="0.85"/>
<circle cx="460.6" cy="93.8" r="1.09" fill="#4a42b4" opacity="0.44"/>
<circle cx="439.8" cy="85.9" r="0.64" fill="#7a6ed0" opacity="0.79"/>
<circle cx="456.7" cy="78.3" r="0.76" fill="#4a42b4" opacity="0.75"/>
<circle cx="512.6" cy="128.5" r="0.93" fill="#7a6ed0" opacity="0.86"/>
<circle cx="513.9" cy="99.5" r="0.72" fill="#4a42b4" opacity="0.76"/>
<circle cx="469.6" cy="80.3" r="1.12" fill="#4a42b4" opacity="0.76"/>
<circle cx="518.1" cy="77.2" r="0.63" fill="#7a6ed0" opacity="0.42"/>
<circle cx="496.1" cy="110.6" r="0.67" fill="#7a6ed0" opacity="0.44"/>
<circle cx="488.0" cy="113.0" r="1.18" fill="#4a42b4" opacity="0.55"/>
<circle cx="473.6" cy="97.1" r="0.75" fill="#4a42b4" opacity="0.48"/>
<circle cx="519.6" cy="114.9" r="0.71" fill="#7a6ed0" opacity="0.45"/>
<circle cx="466.8" cy="116.7" r="0.64" fill="#4a42b4" opacity="0.64"/>
<circle cx="440.8" cy="99.8" r="1.07" fill="#4a42b4" opacity="0.67"/>
<circle cx="510.3" cy="109.0" r="0.80" fill="#4a42b4" opacity="0.57"/>
<circle cx="508.5" cy="126.7" r="0.94" fill="#7a6ed0" opacity="0.43"/>
<circle cx="469.4" cy="114.0" r="0.60" fill="#4a42b4" opacity="0.79"/>
<circle cx="480.2" cy="75.3" r="1.08" fill="#4a42b4" opacity="0.58"/>
<circle cx="484.7" cy="116.2" r="0.85" fill="#4a42b4" opacity="0.88"/>
<circle cx="514.2" cy="109.8" r="0.79" fill="#4a42b4" opacity="0.56"/>
<circle cx="512.1" cy="119.8" r="1.07" fill="#4a42b4" opacity="0.80"/>
<circle cx="494.4" cy="93.0" r="1.05" fill="#4a42b4" opacity="0.49"/>
<circle cx="451.0" cy="123.5" r="0.89" fill="#4a42b4" opacity="0.50"/>
<circle cx="444.8" cy="127.6" r="1.05" fill="#4a42b4" opacity="0.43"/>
<circle cx="485.0" cy="126.3" r="0.95" fill="#4a42b4" opacity="0.59"/>
<circle cx="445.2" cy="118.9" r="0.66" fill="#7a6ed0" opacity="0.50"/>
<circle cx="509.4" cy="100.0" r="1.04" fill="#4a42b4" opacity="0.49"/>
<circle cx="491.2" cy="80.5" r="0.90" fill="#7a6ed0" opacity="0.75"/>
<circle cx="491.7" cy="90.7" r="0.82" fill="#4a42b4" opacity="0.86"/>
<circle cx="519.8" cy="99.1" r="0.94" fill="#4a42b4" opacity="0.79"/>
<circle cx="475.4" cy="123.8" r="0.84" fill="#4a42b4" opacity="0.87"/>
<circle cx="447.7" cy="117.3" r="0.69" fill="#7a6ed0" opacity="0.72"/>
<circle cx="519.0" cy="105.6" r="1.04" fill="#4a42b4" opacity="0.42"/>
<circle cx="468.9" cy="89.1" r="1.09" fill="#4a42b4" opacity="0.37"/>
<circle cx="445.1" cy="123.1" r="1.14" fill="#4a42b4" opacity="0.37"/>
<circle cx="476.5" cy="115.6" r="1.04" fill="#4a42b4" opacity="0.54"/>
<circle cx="453.2" cy="82.7" r="1.09" fill="#7a6ed0" opacity="0.42"/>
<circle cx="479.0" cy="94.0" r="0.70" fill="#4a42b4" opacity="0.86"/>
<circle cx="502.4" cy="89.1" r="1.15" fill="#4a42b4" opacity="0.47"/>
<circle cx="488.3" cy="129.9" r="1.06" fill="#4a42b4" opacity="0.70"/>
<circle cx="508.1" cy="100.1" r="0.66" fill="#4a42b4" opacity="0.85"/>
<circle cx="493.9" cy="117.1" r="0.74" fill="#4a42b4" opacity="0.60"/>
<circle cx="516.9" cy="127.2" r="0.70" fill="#4a42b4" opacity="0.73"/>
<circle cx="471.2" cy="84.5" r="0.68" fill="#4a42b4" opacity="0.61"/>
<circle cx="460.0" cy="95.8" r="0.93" fill="#4a42b4" opacity="0.77"/>
<circle cx="451.3" cy="125.1" r="0.82" fill="#4a42b4" opacity="0.88"/>
<circle cx="449.5" cy="107.9" r="1.18" fill="#4a42b4" opacity="0.56"/>
<circle cx="463.7" cy="76.6" r="0.72" fill="#4a42b4" opacity="0.42"/>
<circle cx="489.6" cy="106.8" r="1.17" fill="#4a42b4" opacity="0.73"/>
<circle cx="515.9" cy="110.8" r="0.93" fill="#4a42b4" opacity="0.82"/>
<circle cx="467.5" cy="109.2" r="0.78" fill="#4a42b4" opacity="0.88"/>
<circle cx="517.8" cy="78.6" r="0.61" fill="#7a6ed0" opacity="0.65"/>
<circle cx="479.6" cy="81.7" r="1.10" fill="#4a42b4" opacity="0.72"/>
<circle cx="514.0" cy="131.1" r="1.01" fill="#7a6ed0" opacity="0.74"/>
<circle cx="442.0" cy="99.1" r="1.18" fill="#4a42b4" opacity="0.52"/>
<circle cx="438.7" cy="98.5" r="1.14" fill="#4a42b4" opacity="0.67"/>
<circle cx="439.1" cy="86.5" r="0.71" fill="#7a6ed0" opacity="0.81"/>
<circle cx="514.4" cy="90.1" r="1.13" fill="#4a42b4" opacity="0.63"/>
<circle cx="517.2" cy="97.9" r="1.02" fill="#4a42b4" opacity="0.39"/>
<circle cx="518.5" cy="81.2" r="1.05" fill="#7a6ed0" opacity="0.50"/>
<circle cx="467.9" cy="112.4" r="1.17" fill="#4a42b4" opacity="0.90"/>
<circle cx="489.1" cy="111.9" r="0.70" fill="#4a42b4" opacity="0.75"/>
<circle cx="467.4" cy="125.9" r="0.75" fill="#7a6ed0" opacity="0.43"/>
<circle cx="450.2" cy="108.3" r="1.08" fill="#4a42b4" opacity="0.44"/>
<circle cx="485.1" cy="106.7" r="0.85" fill="#7a6ed0" opacity="0.65"/>
<circle cx="442.8" cy="98.9" r="0.74" fill="#4a42b4" opacity="0.77"/>
<circle cx="505.6" cy="88.6" r="0.66" fill="#4a42b4" opacity="0.61"/>
<circle cx="465.5" cy="118.2" r="0.73" fill="#4a42b4" opacity="0.72"/>
<circle cx="475.1" cy="103.4" r="1.15" fill="#7a6ed0" opacity="0.68"/>
<circle cx="443.7" cy="79.6" r="0.80" fill="#4a42b4" opacity="0.40"/>
<circle cx="472.7" cy="92.4" r="0.91" fill="#4a42b4" opacity="0.87"/>
<circle cx="450.7" cy="92.3" r="0.79" fill="#4a42b4" opacity="0.85"/>
<circle cx="473.2" cy="84.4" r="0.63" fill="#4a42b4" opacity="0.42"/>
<circle cx="491.1" cy="83.8" r="0.98" fill="#4a42b4" opacity="0.38"/>
<circle cx="465.5" cy="80.8" r="1.05" fill="#4a42b4" opacity="0.74"/>
<circle cx="451.8" cy="112.8" r="0.86" fill="#7a6ed0" opacity="0.71"/>
<circle cx="512.0" cy="75.2" r="0.73" fill="#7a6ed0" opacity="0.57"/>
<circle cx="445.2" cy="113.8" r="1.20" fill="#4a42b4" opacity="0.53"/>
<circle cx="493.0" cy="87.6" r="0.84" fill="#4a42b4" opacity="0.73"/>
<circle cx="450.8" cy="79.0" r="0.93" fill="#4a42b4" opacity="0.89"/>
<circle cx="446.2" cy="103.4" r="0.89" fill="#4a42b4" opacity="0.46"/>
<circle cx="478.6" cy="120.7" r="0.78" fill="#4a42b4" opacity="0.86"/>
<circle cx="476.8" cy="83.0" r="0.89" fill="#4a42b4" opacity="0.42"/>
<circle cx="495.2" cy="107.7" r="1.19" fill="#4a42b4" opacity="0.37"/>
<circle cx="503.7" cy="81.4" r="0.79" fill="#4a42b4" opacity="0.38"/>
<circle cx="497.3" cy="94.7" r="1.02" fill="#4a42b4" opacity="0.55"/>
<circle cx="460.7" cy="130.3" r="0.86" fill="#7a6ed0" opacity="0.35"/>
<circle cx="497.5" cy="123.9" r="0.98" fill="#4a42b4" opacity="0.44"/>
<circle cx="496.8" cy="81.5" r="0.83" fill="#7a6ed0" opacity="0.72"/>
<circle cx="441.5" cy="95.0" r="1.12" fill="#4a42b4" opacity="0.90"/>
<circle cx="512.5" cy="119.4" r="1.12" fill="#4a42b4" opacity="0.67"/>
<circle cx="490.8" cy="128.6" r="0.94" fill="#4a42b4" opacity="0.46"/>
<circle cx="477.6" cy="94.1" r="0.82" fill="#4a42b4" opacity="0.63"/>
<circle cx="456.2" cy="90.7" r="0.90" fill="#4a42b4" opacity="0.63"/>
<circle cx="492.5" cy="85.5" r="0.92" fill="#4a42b4" opacity="0.50"/>
<circle cx="495.7" cy="119.1" r="0.91" fill="#4a42b4" opacity="0.49"/>
<circle cx="479.9" cy="96.2" r="0.77" fill="#4a42b4" opacity="0.57"/>
<circle cx="505.1" cy="102.3" r="1.04" fill="#4a42b4" opacity="0.47"/>
<circle cx="467.4" cy="92.3" r="0.82" fill="#4a42b4" opacity="0.77"/>
<circle cx="455.0" cy="88.2" r="1.07" fill="#4a42b4" opacity="0.71"/>
<circle cx="490.1" cy="114.2" r="0.76" fill="#4a42b4" opacity="0.38"/>
<circle cx="440.7" cy="129.4" r="0.91" fill="#4a42b4" opacity="0.72"/>
<circle cx="504.0" cy="88.0" r="0.80" fill="#4a42b4" opacity="0.41"/>
<circle cx="498.4" cy="102.6" r="0.82" fill="#4a42b4" opacity="0.50"/>
<circle cx="496.4" cy="125.6" r="1.11" fill="#4a42b4" opacity="0.83"/>
<circle cx="472.5" cy="92.7" r="1.18" fill="#7a6ed0" opacity="0.45"/>
<circle cx="461.0" cy="127.1" r="1.11" fill="#4a42b4" opacity="0.53"/>
<circle cx="511.0" cy="99.1" r="0.72" fill="#4a42b4" opacity="0.78"/>
<circle cx="447.8" cy="126.0" r="0.86" fill="#4a42b4" opacity="0.57"/>
<circle cx="458.9" cy="76.1" r="0.83" fill="#7a6ed0" opacity="0.56"/>
<circle cx="468.5" cy="118.0" r="0.80" fill="#4a42b4" opacity="0.72"/>
<circle cx="453.5" cy="76.2" r="1.00" fill="#4a42b4" opacity="0.69"/>
<circle cx="454.4" cy="123.3" r="1.15" fill="#4a42b4" opacity="0.48"/>
<circle cx="485.1" cy="93.2" r="0.62" fill="#4a42b4" opacity="0.53"/>
<circle cx="487.4" cy="103.8" r="0.67" fill="#4a42b4" opacity="0.47"/>
<circle cx="472.1" cy="95.5" r="1.14" fill="#4a42b4" opacity="0.41"/>
<circle cx="457.7" cy="123.4" r="0.75" fill="#4a42b4" opacity="0.67"/>
<circle cx="441.1" cy="120.0" r="1.09" fill="#4a42b4" opacity="0.50"/>
<circle cx="477.3" cy="130.8" r="0.63" fill="#4a42b4" opacity="0.56"/>
<circle cx="489.2" cy="119.0" r="1.11" fill="#4a42b4" opacity="0.65"/>
<circle cx="503.6" cy="80.9" r="0.76" fill="#4a42b4" opacity="0.76"/>
<circle cx="519.4" cy="80.1" r="0.88" fill="#7a6ed0" opacity="0.47"/>
<circle cx="445.7" cy="80.1" r="0.82" fill="#4a42b4" opacity="0.59"/>
<circle cx="461.7" cy="114.7" r="0.91" fill="#7a6ed0" opacity="0.89"/>
<circle cx="479.9" cy="102.9" r="0.82" fill="#7a6ed0" opacity="0.82"/>
<circle cx="510.0" cy="95.2" r="0.80" fill="#4a42b4" opacity="0.69"/>
<circle cx="461.3" cy="79.8" r="1.17" fill="#7a6ed0" opacity="0.55"/>
<circle cx="491.8" cy="105.1" r="0.80" fill="#4a42b4" opacity="0.53"/>
<circle cx="465.8" cy="98.6" r="1.17" fill="#4a42b4" opacity="0.55"/>
<circle cx="451.3" cy="112.4" r="1.00" fill="#4a42b4" opacity="0.60"/>
<circle cx="457.1" cy="119.6" r="0.87" fill="#4a42b4" opacity="0.81"/>
<circle cx="498.1" cy="76.6" r="0.73" fill="#4a42b4" opacity="0.88"/>
<circle cx="493.4" cy="103.1" r="0.88" fill="#7a6ed0" opacity="0.46"/>
<circle cx="490.9" cy="114.2" r="0.76" fill="#7a6ed0" opacity="0.70"/>
<circle cx="488.3" cy="84.7" r="0.91" fill="#4a42b4" opacity="0.52"/>
<circle cx="449.0" cy="102.3" r="0.97" fill="#4a42b4" opacity="0.42"/>
<circle cx="493.6" cy="105.9" r="0.97" fill="#4a42b4" opacity="0.78"/>
<circle cx="456.2" cy="100.0" r="1.10" fill="#4a42b4" opacity="0.66"/>
<circle cx="467.8" cy="100.3" r="1.18" fill="#4a42b4" opacity="0.80"/>
<circle cx="446.7" cy="109.6" r="0.62" fill="#4a42b4" opacity="0.86"/>
<circle cx="497.7" cy="90.1" r="1.11" fill="#4a42b4" opacity="0.45"/>
<circle cx="480.7" cy="75.9" r="1.13" fill="#4a42b4" opacity="0.59"/>
<circle cx="494.5" cy="105.1" r="1.12" fill="#4a42b4" opacity="0.46"/>
<circle cx="465.8" cy="76.5" r="0.80" fill="#7a6ed0" opacity="0.39"/>
<circle cx="489.2" cy="81.8" r="0.70" fill="#4a42b4" opacity="0.51"/>
<circle cx="513.4" cy="126.2" r="1.12" fill="#4a42b4" opacity="0.89"/>
<circle cx="503.3" cy="90.9" r="1.16" fill="#4a42b4" opacity="0.80"/>
<circle cx="456.7" cy="80.2" r="1.16" fill="#4a42b4" opacity="0.65"/>
<circle cx="508.7" cy="83.1" r="1.02" fill="#4a42b4" opacity="0.61"/>
<circle cx="475.4" cy="86.1" r="1.17" fill="#4a42b4" opacity="0.50"/>
<circle cx="506.2" cy="89.0" r="1.02" fill="#4a42b4" opacity="0.57"/>
<circle cx="455.8" cy="128.9" r="0.82" fill="#4a42b4" opacity="0.63"/>
<circle cx="440.2" cy="117.6" r="1.05" fill="#4a42b4" opacity="0.83"/>
<circle cx="455.2" cy="94.6" r="1.04" fill="#4a42b4" opacity="0.71"/>
<circle cx="481.0" cy="83.7" r="1.15" fill="#4a42b4" opacity="0.61"/>
<circle cx="502.5" cy="86.2" r="1.03" fill="#4a42b4" opacity="0.54"/>
<circle cx="445.7" cy="90.6" r="0.98" fill="#4a42b4" opacity="0.62"/>
<circle cx="485.4" cy="87.3" r="0.86" fill="#4a42b4" opacity="0.35"/>
<circle cx="458.8" cy="121.9" r="0.93" fill="#4a42b4" opacity="0.68"/>
<circle cx="448.3" cy="118.9" r="0.78" fill="#4a42b4" opacity="0.82"/>
<circle cx="493.6" cy="121.1" r="0.86" fill="#4a42b4" opacity="0.72"/>
<circle cx="453.5" cy="80.7" r="0.85" fill="#7a6ed0" opacity="0.63"/>
<circle cx="456.1" cy="124.0" r="0.83" fill="#7a6ed0" opacity="0.43"/>
<circle cx="485.4" cy="85.7" r="0.89" fill="#4a42b4" opacity="0.65"/>
<circle cx="479.3" cy="122.3" r="0.61" fill="#7a6ed0" opacity="0.86"/>
<circle cx="441.1" cy="118.4" r="0.94" fill="#7a6ed0" opacity="0.65"/>
<circle cx="502.0" cy="92.3" r="1.04" fill="#4a42b4" opacity="0.48"/>
<circle cx="491.2" cy="96.0" r="0.89" fill="#4a42b4" opacity="0.39"/>
<circle cx="494.7" cy="83.7" r="0.93" fill="#7a6ed0" opacity="0.75"/>
<circle cx="506.8" cy="124.2" r="0.63" fill="#7a6ed0" opacity="0.49"/>
<circle cx="458.7" cy="79.9" r="0.89" fill="#4a42b4" opacity="0.49"/>
<circle cx="475.8" cy="96.0" r="1.07" fill="#7a6ed0" opacity="0.75"/>
<circle cx="456.3" cy="75.5" r="0.80" fill="#4a42b4" opacity="0.41"/>
<circle cx="502.0" cy="131.3" r="0.73" fill="#4a42b4" opacity="0.37"/>
<circle cx="471.8" cy="127.6" r="0.84" fill="#7a6ed0" opacity="0.52"/>
<circle cx="515.7" cy="103.9" r="0.86" fill="#4a42b4" opacity="0.59"/>
<circle cx="506.1" cy="101.9" r="0.71" fill="#4a42b4" opacity="0.57"/>
<circle cx="471.4" cy="112.3" r="0.94" fill="#4a42b4" opacity="0.60"/>
<circle cx="458.1" cy="106.5" r="1.12" fill="#4a42b4" opacity="0.39"/>
<circle cx="510.2" cy="130.3" r="0.61" fill="#4a42b4" opacity="0.69"/>
<circle cx="507.1" cy="101.6" r="0.68" fill="#4a42b4" opacity="0.52"/>
<circle cx="497.7" cy="86.6" r="0.99" fill="#4a42b4" opacity="0.71"/>
<circle cx="439.8" cy="100.0" r="0.79" fill="#4a42b4" opacity="0.68"/>
<circle cx="448.5" cy="112.9" r="0.77" fill="#4a42b4" opacity="0.78"/>
<circle cx="482.8" cy="120.7" r="0.67" fill="#7a6ed0" opacity="0.75"/>
<circle cx="514.8" cy="76.4" r="1.03" fill="#7a6ed0" opacity="0.55"/>
<circle cx="470.4" cy="103.3" r="0.85" fill="#4a42b4" opacity="0.42"/>
<circle cx="462.6" cy="129.6" r="0.83" fill="#4a42b4" opacity="0.59"/>
<circle cx="517.4" cy="93.2" r="0.99" fill="#4a42b4" opacity="0.81"/>
<circle cx="499.9" cy="90.8" r="0.67" fill="#4a42b4" opacity="0.37"/>
<circle cx="509.7" cy="86.5" r="0.86" fill="#4a42b4" opacity="0.77"/>
<circle cx="450.5" cy="104.3" r="0.86" fill="#4a42b4" opacity="0.87"/>
<circle cx="457.5" cy="106.7" r="0.85" fill="#4a42b4" opacity="0.37"/>
<circle cx="513.1" cy="92.1" r="0.95" fill="#7a6ed0" opacity="0.74"/>
<circle cx="513.8" cy="81.2" r="0.78" fill="#7a6ed0" opacity="0.74"/>
<circle cx="468.8" cy="82.2" r="0.88" fill="#7a6ed0" opacity="0.36"/>
<circle cx="456.2" cy="79.6" r="0.65" fill="#4a42b4" opacity="0.46"/>
<circle cx="449.2" cy="121.4" r="0.85" fill="#4a42b4" opacity="0.49"/>
<circle cx="506.8" cy="77.7" r="1.05" fill="#4a42b4" opacity="0.40"/>
<circle cx="471.5" cy="108.8" r="1.12" fill="#7a6ed0" opacity="0.41"/>
<circle cx="494.9" cy="108.2" r="1.03" fill="#4a42b4" opacity="0.50"/>
<circle cx="453.3" cy="99.7" r="0.77" fill="#4a42b4" opacity="0.67"/>
<circle cx="460.5" cy="111.3" r="0.65" fill="#4a42b4" opacity="0.79"/>
<circle cx="456.8" cy="81.5" r="0.91" fill="#4a42b4" opacity="0.63"/>
<circle cx="468.7" cy="98.3" r="1.14" fill="#4a42b4" opacity="0.50"/>
<circle cx="511.2" cy="130.9" r="1.17" fill="#4a42b4" opacity="0.49"/>
<circle cx="488.2" cy="86.5" r="1.20" fill="#4a42b4" opacity="0.71"/>
<circle cx="483.8" cy="79.5" r="1.12" fill="#4a42b4" opacity="0.45"/>
<circle cx="488.5" cy="86.0" r="0.88" fill="#7a6ed0" opacity="0.74"/>
<circle cx="492.2" cy="80.9" r="0.89" fill="#4a42b4" opacity="0.71"/>
<circle cx="441.5" cy="85.8" r="1.18" fill="#4a42b4" opacity="0.57"/>
<circle cx="468.7" cy="114.3" r="1.04" fill="#4a42b4" opacity="0.71"/>
<circle cx="484.7" cy="104.1" r="0.71" fill="#4a42b4" opacity="0.87"/>
<circle cx="501.7" cy="131.1" r="0.88" fill="#4a42b4" opacity="0.81"/>
<circle cx="498.9" cy="115.4" r="1.16" fill="#4a42b4" opacity="0.81"/>
<circle cx="459.9" cy="119.5" r="0.89" fill="#4a42b4" opacity="0.52"/>
<circle cx="503.5" cy="122.6" r="1.11" fill="#7a6ed0" opacity="0.72"/>
<circle cx="450.8" cy="107.1" r="0.73" fill="#7a6ed0" opacity="0.54"/>
<circle cx="450.7" cy="115.5" r="0.73" fill="#4a42b4" opacity="0.82"/>
<circle cx="507.6" cy="92.1" r="0.76" fill="#7a6ed0" opacity="0.57"/>
<circle cx="473.7" cy="96.5" r="0.61" fill="#4a42b4" opacity="0.82"/>
<circle cx="438.0" cy="129.3" r="0.74" fill="#7a6ed0" opacity="0.49"/>
<circle cx="446.2" cy="115.1" r="0.95" fill="#4a42b4" opacity="0.63"/>
<circle cx="461.5" cy="129.8" r="0.82" fill="#4a42b4" opacity="0.89"/>
<circle cx="448.2" cy="122.9" r="0.61" fill="#4a42b4" opacity="0.74"/>
<circle cx="495.0" cy="106.1" r="1.09" fill="#4a42b4" opacity="0.43"/>
<circle cx="459.8" cy="97.6" r="0.71" fill="#4a42b4" opacity="0.74"/>
<circle cx="501.9" cy="110.5" r="0.96" fill="#4a42b4" opacity="0.86"/>
<circle cx="484.5" cy="93.4" r="1.16" fill="#7a6ed0" opacity="0.55"/>
<circle cx="465.3" cy="114.9" r="1.16" fill="#4a42b4" opacity="0.71"/>
<circle cx="514.9" cy="119.0" r="0.87" fill="#4a42b4" opacity="0.60"/>
<circle cx="464.1" cy="81.2" r="0.97" fill="#4a42b4" opacity="0.79"/>
<circle cx="494.1" cy="125.4" r="0.68" fill="#4a42b4" opacity="0.42"/>
<circle cx="465.4" cy="128.6" r="1.20" fill="#4a42b4" opacity="0.60"/>
<circle cx="489.8" cy="84.8" r="1.18" fill="#7a6ed0" opacity="0.45"/>
<circle cx="475.1" cy="76.0" r="0.89" fill="#4a42b4" opacity="0.58"/>
</g><g filter="url(#b1)">
<circle cx="445" cy="101" r="2.2" fill="#8068c8" opacity="0.7"/>
<circle cx="448" cy="105" r="2" fill="#8068c8" opacity="0.7"/>
<circle cx="443" cy="106" r="1.6" fill="#8068c8" opacity="0.7"/>
<circle cx="481" cy="95" r="2.0" fill="#8068c8" opacity="0.7"/>
<circle cx="485" cy="99" r="1.8" fill="#8068c8" opacity="0.7"/>
<circle cx="489" cy="93" r="1.6" fill="#8068c8" opacity="0.7"/>
<circle cx="497" cy="96" r="2.0" fill="#8068c8" opacity="0.7"/>
<circle cx="502" cy="101" r="1.8" fill="#8068c8" opacity="0.7"/>
<circle cx="506" cy="95" r="1.5" fill="#8068c8" opacity="0.7"/>
<circle cx="476" cy="124" r="1.6" fill="#8068c8" opacity="0.7"/>
<circle cx="470" cy="120" r="1.5" fill="#8068c8" opacity="0.7"/>
</g></g>
<rect x="24.4" y="184.5" width="83.6" height="74.80000000000001" fill="none" stroke="#b4b4b4" stroke-width="0.9"/>
<text x="60.00" y="180.70" font-size="7.5" text-anchor="middle" >Liver</text>
<line x1="22.20" y1="259.00" x2="24.40" y2="259.00" stroke="#333" stroke-width="0.8" />
<text x="20.70" y="261.40" font-size="7.8" text-anchor="end" >0</text>
<line x1="22.20" y1="244.80" x2="24.40" y2="244.80" stroke="#333" stroke-width="0.8" />
<text x="20.70" y="247.20" font-size="7.8" text-anchor="end" >20</text>
<line x1="22.20" y1="230.60" x2="24.40" y2="230.60" stroke="#333" stroke-width="0.8" />
<text x="20.70" y="233.00" font-size="7.8" text-anchor="end" >40</text>
<line x1="22.20" y1="216.40" x2="24.40" y2="216.40" stroke="#333" stroke-width="0.8" />
<text x="20.70" y="218.80" font-size="7.8" text-anchor="end" >60</text>
<line x1="22.20" y1="202.20" x2="24.40" y2="202.20" stroke="#333" stroke-width="0.8" />
<text x="20.70" y="204.60" font-size="7.8" text-anchor="end" >80</text>
<line x1="22.20" y1="188.00" x2="24.40" y2="188.00" stroke="#333" stroke-width="0.8" />
<text x="20.70" y="190.40" font-size="7.8" text-anchor="end" >100</text>
<line x1="23.40" y1="259.00" x2="24.40" y2="259.00" stroke="#555" stroke-width="0.4" />
<line x1="23.40" y1="256.16" x2="24.40" y2="256.16" stroke="#555" stroke-width="0.4" />
<line x1="23.40" y1="253.32" x2="24.40" y2="253.32" stroke="#555" stroke-width="0.4" />
<line x1="23.40" y1="250.48" x2="24.40" y2="250.48" stroke="#555" stroke-width="0.4" />
<line x1="23.40" y1="247.64" x2="24.40" y2="247.64" stroke="#555" stroke-width="0.4" />
<line x1="23.40" y1="244.80" x2="24.40" y2="244.80" stroke="#555" stroke-width="0.4" />
<line x1="23.40" y1="241.96" x2="24.40" y2="241.96" stroke="#555" stroke-width="0.4" />
<line x1="23.40" y1="239.12" x2="24.40" y2="239.12" stroke="#555" stroke-width="0.4" />
<line x1="23.40" y1="236.28" x2="24.40" y2="236.28" stroke="#555" stroke-width="0.4" />
<line x1="23.40" y1="233.44" x2="24.40" y2="233.44" stroke="#555" stroke-width="0.4" />
<line x1="23.40" y1="230.60" x2="24.40" y2="230.60" stroke="#555" stroke-width="0.4" />
<line x1="23.40" y1="227.76" x2="24.40" y2="227.76" stroke="#555" stroke-width="0.4" />
<line x1="23.40" y1="224.92" x2="24.40" y2="224.92" stroke="#555" stroke-width="0.4" />
<line x1="23.40" y1="222.08" x2="24.40" y2="222.08" stroke="#555" stroke-width="0.4" />
<line x1="23.40" y1="219.24" x2="24.40" y2="219.24" stroke="#555" stroke-width="0.4" />
<line x1="23.40" y1="216.40" x2="24.40" y2="216.40" stroke="#555" stroke-width="0.4" />
<line x1="23.40" y1="213.56" x2="24.40" y2="213.56" stroke="#555" stroke-width="0.4" />
<line x1="23.40" y1="210.72" x2="24.40" y2="210.72" stroke="#555" stroke-width="0.4" />
<line x1="23.40" y1="207.88" x2="24.40" y2="207.88" stroke="#555" stroke-width="0.4" />
<line x1="23.40" y1="205.04" x2="24.40" y2="205.04" stroke="#555" stroke-width="0.4" />
<line x1="23.40" y1="202.20" x2="24.40" y2="202.20" stroke="#555" stroke-width="0.4" />
<line x1="23.40" y1="199.36" x2="24.40" y2="199.36" stroke="#555" stroke-width="0.4" />
<line x1="23.40" y1="196.52" x2="24.40" y2="196.52" stroke="#555" stroke-width="0.4" />
<line x1="23.40" y1="193.68" x2="24.40" y2="193.68" stroke="#555" stroke-width="0.4" />
<line x1="23.40" y1="190.84" x2="24.40" y2="190.84" stroke="#555" stroke-width="0.4" />
<path d="M38.00,259.20C38.73,259.17 41.18,259.47 42.40,259.00C43.62,258.53 44.50,257.78 45.30,256.40C46.10,255.02 46.48,254.00 47.20,250.70C47.92,247.40 48.90,241.32 49.60,236.60C50.30,231.88 50.82,227.12 51.40,222.40C51.98,217.68 52.55,213.02 53.10,208.30C53.65,203.58 54.30,197.28 54.70,194.10C55.10,190.92 55.22,189.20 55.50,189.20C55.78,189.20 55.83,190.92 56.40,194.10C56.97,197.28 58.08,203.58 58.90,208.30C59.72,213.02 60.55,217.68 61.30,222.40C62.05,227.12 62.75,232.58 63.40,236.60C64.05,240.62 64.50,243.85 65.20,246.50C65.90,249.15 66.77,250.83 67.60,252.50C68.43,254.17 69.42,255.45 70.20,256.50C70.98,257.55 71.33,258.35 72.30,258.80C73.27,259.25 75.38,259.13 76.00,259.20" fill="rgba(105,165,228,0.72)" stroke="#3f7fc6" stroke-width="0.8" stroke-dasharray="2.4,1.4" stroke-linejoin="round"/>
<path d="M61.30,259.20C61.40,257.67 61.75,252.12 61.90,250.00C62.05,247.88 62.05,248.73 62.20,246.50C62.35,244.27 62.62,240.62 62.80,236.60C62.98,232.58 63.10,227.12 63.30,222.40C63.50,217.68 63.77,213.02 64.00,208.30C64.23,203.58 64.47,197.52 64.70,194.10C64.93,190.68 65.17,187.80 65.40,187.80C65.63,187.80 65.85,190.68 66.10,194.10C66.35,197.52 66.65,203.58 66.90,208.30C67.15,213.02 67.38,217.68 67.60,222.40C67.82,227.12 67.98,232.58 68.20,236.60C68.42,240.62 68.72,244.27 68.90,246.50C69.08,248.73 69.13,247.88 69.30,250.00C69.47,252.12 69.80,257.67 69.90,259.20" fill="rgba(243,95,105,0.68)" stroke="#e8333f" stroke-width="0.8" stroke-dasharray="2.4,1.4" stroke-linejoin="round"/>
<line x1="24.40" y1="259.30" x2="108.00" y2="259.30" stroke="#333" stroke-width="0.8" />
<line x1="37.70" y1="259.30" x2="37.70" y2="261.30" stroke="#333" stroke-width="0.7" />
<line x1="62.00" y1="259.30" x2="62.00" y2="261.30" stroke="#333" stroke-width="0.7" />
<line x1="76.50" y1="259.30" x2="76.50" y2="261.30" stroke="#333" stroke-width="0.7" />
<line x1="89.50" y1="259.30" x2="89.50" y2="261.30" stroke="#333" stroke-width="0.7" />
<line x1="102.50" y1="259.30" x2="102.50" y2="261.30" stroke="#333" stroke-width="0.7" />
<line x1="26.40" y1="259.30" x2="26.40" y2="260.40" stroke="#555" stroke-width="0.4" />
<line x1="29.39" y1="259.30" x2="29.39" y2="260.40" stroke="#555" stroke-width="0.4" />
<line x1="32.37" y1="259.30" x2="32.37" y2="260.40" stroke="#555" stroke-width="0.4" />
<line x1="35.36" y1="259.30" x2="35.36" y2="260.40" stroke="#555" stroke-width="0.4" />
<line x1="38.34" y1="259.30" x2="38.34" y2="260.40" stroke="#555" stroke-width="0.4" />
<line x1="41.33" y1="259.30" x2="41.33" y2="260.40" stroke="#555" stroke-width="0.4" />
<line x1="44.31" y1="259.30" x2="44.31" y2="260.40" stroke="#555" stroke-width="0.4" />
<line x1="47.30" y1="259.30" x2="47.30" y2="260.40" stroke="#555" stroke-width="0.4" />
<line x1="50.28" y1="259.30" x2="50.28" y2="260.40" stroke="#555" stroke-width="0.4" />
<line x1="53.27" y1="259.30" x2="53.27" y2="260.40" stroke="#555" stroke-width="0.4" />
<line x1="56.25" y1="259.30" x2="56.25" y2="260.40" stroke="#555" stroke-width="0.4" />
<line x1="59.24" y1="259.30" x2="59.24" y2="260.40" stroke="#555" stroke-width="0.4" />
<line x1="62.22" y1="259.30" x2="62.22" y2="260.40" stroke="#555" stroke-width="0.4" />
<line x1="65.21" y1="259.30" x2="65.21" y2="260.40" stroke="#555" stroke-width="0.4" />
<line x1="68.19" y1="259.30" x2="68.19" y2="260.40" stroke="#555" stroke-width="0.4" />
<line x1="71.18" y1="259.30" x2="71.18" y2="260.40" stroke="#555" stroke-width="0.4" />
<line x1="74.16" y1="259.30" x2="74.16" y2="260.40" stroke="#555" stroke-width="0.4" />
<line x1="77.15" y1="259.30" x2="77.15" y2="260.40" stroke="#555" stroke-width="0.4" />
<line x1="80.13" y1="259.30" x2="80.13" y2="260.40" stroke="#555" stroke-width="0.4" />
<line x1="83.12" y1="259.30" x2="83.12" y2="260.40" stroke="#555" stroke-width="0.4" />
<line x1="86.10" y1="259.30" x2="86.10" y2="260.40" stroke="#555" stroke-width="0.4" />
<line x1="89.09" y1="259.30" x2="89.09" y2="260.40" stroke="#555" stroke-width="0.4" />
<line x1="92.07" y1="259.30" x2="92.07" y2="260.40" stroke="#555" stroke-width="0.4" />
<line x1="95.06" y1="259.30" x2="95.06" y2="260.40" stroke="#555" stroke-width="0.4" />
<line x1="98.04" y1="259.30" x2="98.04" y2="260.40" stroke="#555" stroke-width="0.4" />
<line x1="101.03" y1="259.30" x2="101.03" y2="260.40" stroke="#555" stroke-width="0.4" />
<line x1="104.01" y1="259.30" x2="104.01" y2="260.40" stroke="#555" stroke-width="0.4" />
<line x1="107.00" y1="259.30" x2="107.00" y2="260.40" stroke="#555" stroke-width="0.4" />
<path d="M42.00,259.20C42.90,258.97 45.90,258.23 47.40,257.80C48.90,257.37 49.78,257.03 51.00,256.60C52.22,256.17 53.62,255.65 54.70,255.20C55.78,254.75 56.70,254.32 57.50,253.90C58.30,253.48 58.87,253.18 59.50,252.70C60.13,252.22 60.78,251.70 61.30,251.00C61.82,250.30 62.18,249.22 62.60,248.50C63.02,247.78 63.33,246.88 63.80,246.70C64.27,246.52 64.83,247.43 65.40,247.40C65.97,247.37 66.68,246.33 67.20,246.50C67.72,246.67 67.98,247.55 68.50,248.40C69.02,249.25 69.70,250.72 70.30,251.60C70.90,252.48 71.48,253.08 72.10,253.70C72.72,254.32 73.42,254.97 74.00,255.30C74.58,255.63 75.00,255.30 75.60,255.70C76.20,256.10 76.97,257.12 77.60,257.70C78.23,258.28 79.10,258.95 79.40,259.20" fill="#7c7ccb" stroke="none"/>
<line x1="24.50" y1="259.30" x2="107.60" y2="259.30" stroke="#333" stroke-width="0.8" />
<line x1="76.60" y1="189.80" x2="89.00" y2="189.80" stroke="#4a86c8" stroke-width="1.1" stroke-dasharray="3,1.6"/>
<line x1="76.60" y1="196.60" x2="89.00" y2="196.60" stroke="#e8333f" stroke-width="1.1" stroke-dasharray="3,1.6"/>
<text x="91.30" y="191.80" font-size="7.8" text-anchor="start" >PBS</text>
<text x="91.30" y="199.90" font-size="7.8" text-anchor="start" >4T1</text>
<text x="37.70" y="270.30" font-size="7.5" text-anchor="middle" >0</text>
<text x="64.80" y="270.30" font-size="7.5" text-anchor="middle">10<tspan font-size="5" dy="-2.6">4</tspan></text>
<text x="78.90" y="270.30" font-size="7.5" text-anchor="middle">10<tspan font-size="5" dy="-2.6">5</tspan></text>
<text x="91.60" y="270.30" font-size="7.5" text-anchor="middle">10<tspan font-size="5" dy="-2.6">6</tspan></text>
<text x="104.60" y="270.30" font-size="7.5" text-anchor="middle">10<tspan font-size="5" dy="-2.6">7</tspan></text>
<rect x="126.3" y="184.5" width="83.89999999999999" height="74.30000000000001" fill="none" stroke="#b4b4b4" stroke-width="0.9"/>
<text x="163.60" y="180.70" font-size="7.5" text-anchor="middle" >Blood</text>
<line x1="124.10" y1="258.50" x2="126.30" y2="258.50" stroke="#333" stroke-width="0.8" />
<text x="122.60" y="260.90" font-size="7.8" text-anchor="end" >0</text>
<line x1="124.10" y1="244.30" x2="126.30" y2="244.30" stroke="#333" stroke-width="0.8" />
<text x="122.60" y="246.70" font-size="7.8" text-anchor="end" >20</text>
<line x1="124.10" y1="230.10" x2="126.30" y2="230.10" stroke="#333" stroke-width="0.8" />
<text x="122.60" y="232.50" font-size="7.8" text-anchor="end" >40</text>
<line x1="124.10" y1="215.90" x2="126.30" y2="215.90" stroke="#333" stroke-width="0.8" />
<text x="122.60" y="218.30" font-size="7.8" text-anchor="end" >60</text>
<line x1="124.10" y1="201.70" x2="126.30" y2="201.70" stroke="#333" stroke-width="0.8" />
<text x="122.60" y="204.10" font-size="7.8" text-anchor="end" >80</text>
<line x1="124.10" y1="187.50" x2="126.30" y2="187.50" stroke="#333" stroke-width="0.8" />
<text x="122.60" y="189.90" font-size="7.8" text-anchor="end" >100</text>
<line x1="125.30" y1="258.50" x2="126.30" y2="258.50" stroke="#555" stroke-width="0.4" />
<line x1="125.30" y1="255.66" x2="126.30" y2="255.66" stroke="#555" stroke-width="0.4" />
<line x1="125.30" y1="252.82" x2="126.30" y2="252.82" stroke="#555" stroke-width="0.4" />
<line x1="125.30" y1="249.98" x2="126.30" y2="249.98" stroke="#555" stroke-width="0.4" />
<line x1="125.30" y1="247.14" x2="126.30" y2="247.14" stroke="#555" stroke-width="0.4" />
<line x1="125.30" y1="244.30" x2="126.30" y2="244.30" stroke="#555" stroke-width="0.4" />
<line x1="125.30" y1="241.46" x2="126.30" y2="241.46" stroke="#555" stroke-width="0.4" />
<line x1="125.30" y1="238.62" x2="126.30" y2="238.62" stroke="#555" stroke-width="0.4" />
<line x1="125.30" y1="235.78" x2="126.30" y2="235.78" stroke="#555" stroke-width="0.4" />
<line x1="125.30" y1="232.94" x2="126.30" y2="232.94" stroke="#555" stroke-width="0.4" />
<line x1="125.30" y1="230.10" x2="126.30" y2="230.10" stroke="#555" stroke-width="0.4" />
<line x1="125.30" y1="227.26" x2="126.30" y2="227.26" stroke="#555" stroke-width="0.4" />
<line x1="125.30" y1="224.42" x2="126.30" y2="224.42" stroke="#555" stroke-width="0.4" />
<line x1="125.30" y1="221.58" x2="126.30" y2="221.58" stroke="#555" stroke-width="0.4" />
<line x1="125.30" y1="218.74" x2="126.30" y2="218.74" stroke="#555" stroke-width="0.4" />
<line x1="125.30" y1="215.90" x2="126.30" y2="215.90" stroke="#555" stroke-width="0.4" />
<line x1="125.30" y1="213.06" x2="126.30" y2="213.06" stroke="#555" stroke-width="0.4" />
<line x1="125.30" y1="210.22" x2="126.30" y2="210.22" stroke="#555" stroke-width="0.4" />
<line x1="125.30" y1="207.38" x2="126.30" y2="207.38" stroke="#555" stroke-width="0.4" />
<line x1="125.30" y1="204.54" x2="126.30" y2="204.54" stroke="#555" stroke-width="0.4" />
<line x1="125.30" y1="201.70" x2="126.30" y2="201.70" stroke="#555" stroke-width="0.4" />
<line x1="125.30" y1="198.86" x2="126.30" y2="198.86" stroke="#555" stroke-width="0.4" />
<line x1="125.30" y1="196.02" x2="126.30" y2="196.02" stroke="#555" stroke-width="0.4" />
<line x1="125.30" y1="193.18" x2="126.30" y2="193.18" stroke="#555" stroke-width="0.4" />
<line x1="125.30" y1="190.34" x2="126.30" y2="190.34" stroke="#555" stroke-width="0.4" />
<path d="M132.00,258.60C133.50,258.55 138.47,258.50 141.00,258.30C143.53,258.10 145.58,258.03 147.20,257.40C148.82,256.77 149.60,255.62 150.70,254.50C151.80,253.38 152.80,253.68 153.80,250.70C154.80,247.72 155.87,241.32 156.70,236.60C157.53,231.88 158.22,227.12 158.80,222.40C159.38,217.68 159.85,213.02 160.20,208.30C160.55,203.58 160.70,197.52 160.90,194.10C161.10,190.68 161.23,187.80 161.40,187.80C161.57,187.80 161.72,190.68 161.90,194.10C162.08,197.52 162.27,203.58 162.50,208.30C162.73,213.02 163.05,217.68 163.30,222.40C163.55,227.12 163.77,231.88 164.00,236.60C164.23,241.32 164.38,247.38 164.70,250.70C165.02,254.02 165.30,255.23 165.90,256.50C166.50,257.77 166.95,257.95 168.30,258.30C169.65,258.65 173.05,258.55 174.00,258.60" fill="rgba(240,85,95,0.7)" stroke="#e04550" stroke-width="0.8" stroke-linejoin="round"/>
<path d="M128.00,258.60C129.67,258.55 135.38,258.43 138.00,258.30C140.62,258.17 142.03,258.12 143.70,257.80C145.37,257.48 146.82,257.58 148.00,256.40C149.18,255.22 149.75,254.00 150.80,250.70C151.85,247.40 153.23,241.32 154.30,236.60C155.37,231.88 156.25,227.12 157.20,222.40C158.15,217.68 159.07,212.20 160.00,208.30C160.93,204.40 162.05,201.37 162.80,199.00C163.55,196.63 164.12,195.27 164.50,194.10C164.88,192.93 164.90,192.00 165.10,192.00C165.30,192.00 165.47,191.38 165.70,194.10C165.93,196.82 166.23,203.58 166.50,208.30C166.77,213.02 167.00,217.68 167.30,222.40C167.60,227.12 167.90,231.88 168.30,236.60C168.70,241.32 169.12,247.40 169.70,250.70C170.28,254.00 170.72,255.13 171.80,256.40C172.88,257.67 174.00,257.93 176.20,258.30C178.40,258.67 183.53,258.55 185.00,258.60" fill="rgba(110,170,230,0.62)" stroke="#5b9bd5" stroke-width="0.8" stroke-linejoin="round"/>
<line x1="126.30" y1="258.80" x2="210.20" y2="258.80" stroke="#333" stroke-width="0.8" />
<line x1="140.00" y1="258.80" x2="140.00" y2="260.80" stroke="#333" stroke-width="0.7" />
<line x1="164.00" y1="258.80" x2="164.00" y2="260.80" stroke="#333" stroke-width="0.7" />
<line x1="179.00" y1="258.80" x2="179.00" y2="260.80" stroke="#333" stroke-width="0.7" />
<line x1="192.00" y1="258.80" x2="192.00" y2="260.80" stroke="#333" stroke-width="0.7" />
<line x1="205.00" y1="258.80" x2="205.00" y2="260.80" stroke="#333" stroke-width="0.7" />
<line x1="128.30" y1="258.80" x2="128.30" y2="259.90" stroke="#555" stroke-width="0.4" />
<line x1="131.30" y1="258.80" x2="131.30" y2="259.90" stroke="#555" stroke-width="0.4" />
<line x1="134.29" y1="258.80" x2="134.29" y2="259.90" stroke="#555" stroke-width="0.4" />
<line x1="137.29" y1="258.80" x2="137.29" y2="259.90" stroke="#555" stroke-width="0.4" />
<line x1="140.29" y1="258.80" x2="140.29" y2="259.90" stroke="#555" stroke-width="0.4" />
<line x1="143.28" y1="258.80" x2="143.28" y2="259.90" stroke="#555" stroke-width="0.4" />
<line x1="146.28" y1="258.80" x2="146.28" y2="259.90" stroke="#555" stroke-width="0.4" />
<line x1="149.27" y1="258.80" x2="149.27" y2="259.90" stroke="#555" stroke-width="0.4" />
<line x1="152.27" y1="258.80" x2="152.27" y2="259.90" stroke="#555" stroke-width="0.4" />
<line x1="155.27" y1="258.80" x2="155.27" y2="259.90" stroke="#555" stroke-width="0.4" />
<line x1="158.26" y1="258.80" x2="158.26" y2="259.90" stroke="#555" stroke-width="0.4" />
<line x1="161.26" y1="258.80" x2="161.26" y2="259.90" stroke="#555" stroke-width="0.4" />
<line x1="164.26" y1="258.80" x2="164.26" y2="259.90" stroke="#555" stroke-width="0.4" />
<line x1="167.25" y1="258.80" x2="167.25" y2="259.90" stroke="#555" stroke-width="0.4" />
<line x1="170.25" y1="258.80" x2="170.25" y2="259.90" stroke="#555" stroke-width="0.4" />
<line x1="173.24" y1="258.80" x2="173.24" y2="259.90" stroke="#555" stroke-width="0.4" />
<line x1="176.24" y1="258.80" x2="176.24" y2="259.90" stroke="#555" stroke-width="0.4" />
<line x1="179.24" y1="258.80" x2="179.24" y2="259.90" stroke="#555" stroke-width="0.4" />
<line x1="182.23" y1="258.80" x2="182.23" y2="259.90" stroke="#555" stroke-width="0.4" />
<line x1="185.23" y1="258.80" x2="185.23" y2="259.90" stroke="#555" stroke-width="0.4" />
<line x1="188.23" y1="258.80" x2="188.23" y2="259.90" stroke="#555" stroke-width="0.4" />
<line x1="191.22" y1="258.80" x2="191.22" y2="259.90" stroke="#555" stroke-width="0.4" />
<line x1="194.22" y1="258.80" x2="194.22" y2="259.90" stroke="#555" stroke-width="0.4" />
<line x1="197.21" y1="258.80" x2="197.21" y2="259.90" stroke="#555" stroke-width="0.4" />
<line x1="200.21" y1="258.80" x2="200.21" y2="259.90" stroke="#555" stroke-width="0.4" />
<line x1="203.21" y1="258.80" x2="203.21" y2="259.90" stroke="#555" stroke-width="0.4" />
<line x1="206.20" y1="258.80" x2="206.20" y2="259.90" stroke="#555" stroke-width="0.4" />
<line x1="209.20" y1="258.80" x2="209.20" y2="259.90" stroke="#555" stroke-width="0.4" />
<path d="M160.20,208.30C160.32,205.93 160.70,197.52 160.90,194.10C161.10,190.68 161.23,187.80 161.40,187.80C161.57,187.80 161.72,190.68 161.90,194.10C162.08,197.52 162.40,205.93 162.50,208.30" fill="none" stroke="#e04550" stroke-width="0.8"/>
<line x1="174.80" y1="189.20" x2="184.60" y2="189.20" stroke="#6aa6dc" stroke-width="1.3" />
<line x1="174.80" y1="197.50" x2="184.60" y2="197.50" stroke="#d0424c" stroke-width="1.3" />
<text x="187.50" y="191.90" font-size="7.8" text-anchor="start" >PBS</text>
<text x="187.50" y="199.90" font-size="7.8" text-anchor="start" >4T1</text>
<text x="140.00" y="270.90" font-size="7.5" text-anchor="middle" >0</text>
<text x="166.60" y="270.90" font-size="7.5" text-anchor="middle">10<tspan font-size="5" dy="-2.6">4</tspan></text>
<text x="181.90" y="270.90" font-size="7.5" text-anchor="middle">10<tspan font-size="5" dy="-2.6">5</tspan></text>
<text x="194.80" y="270.90" font-size="7.5" text-anchor="middle">10<tspan font-size="5" dy="-2.6">6</tspan></text>
<text x="207.90" y="270.90" font-size="7.5" text-anchor="middle">10<tspan font-size="5" dy="-2.6">7</tspan></text>
<line x1="270.60" y1="227.20" x2="270.60" y2="236.00" stroke="#000" stroke-width="0.9" />
<line x1="268.10" y1="227.20" x2="273.10" y2="227.20" stroke="#000" stroke-width="0.9" />
<line x1="286.40" y1="232.30" x2="286.40" y2="235.00" stroke="#000" stroke-width="0.9" />
<line x1="283.90" y1="232.30" x2="288.90" y2="232.30" stroke="#000" stroke-width="0.9" />
<line x1="312.60" y1="232.10" x2="312.60" y2="240.00" stroke="#000" stroke-width="0.9" />
<line x1="310.10" y1="232.10" x2="315.10" y2="232.10" stroke="#000" stroke-width="0.9" />
<line x1="328.30" y1="196.50" x2="328.30" y2="199.00" stroke="#000" stroke-width="0.9" />
<line x1="325.80" y1="196.50" x2="330.80" y2="196.50" stroke="#000" stroke-width="0.9" />
<rect x="265.00" y="235.00" width="11.10" height="28.10" fill="#ec1c24" />
<rect x="281.00" y="234.00" width="11.00" height="29.10" fill="#2e3192" />
<rect x="307.60" y="239.70" width="11.20" height="23.40" fill="#ec1c24" />
<rect x="322.80" y="198.30" width="11.10" height="64.80" fill="#2e3192" />
<line x1="259.80" y1="166.00" x2="259.80" y2="263.60" stroke="#000" stroke-width="1.25" />
<line x1="258.50" y1="263.10" x2="339.80" y2="263.10" stroke="#000" stroke-width="1.25" />
<line x1="256.60" y1="263.10" x2="259.80" y2="263.10" stroke="#000" stroke-width="0.9" />
<text x="254.60" y="265.80" font-size="7.5" text-anchor="end" >0</text>
<line x1="256.60" y1="230.97" x2="259.80" y2="230.97" stroke="#000" stroke-width="0.9" />
<text x="254.60" y="233.67" font-size="7.5" text-anchor="end" >5,000</text>
<line x1="256.60" y1="198.84" x2="259.80" y2="198.84" stroke="#000" stroke-width="0.9" />
<text x="254.60" y="201.54" font-size="7.5" text-anchor="end" >10,000</text>
<line x1="256.60" y1="166.71" x2="259.80" y2="166.71" stroke="#000" stroke-width="0.9" />
<text x="254.60" y="169.41" font-size="7.5" text-anchor="end" >15,000</text>
<line x1="278.30" y1="263.10" x2="278.30" y2="266.60" stroke="#000" stroke-width="0.9" />
<line x1="320.40" y1="263.10" x2="320.40" y2="266.40" stroke="#000" stroke-width="0.9" />
<text x="278.80" y="275.60" font-size="7.6" text-anchor="middle" >Blood</text>
<text x="320.60" y="275.60" font-size="7.6" text-anchor="middle" >Liver</text>
<circle cx="270.6" cy="223.3" r="1.9" fill="#000"/>
<circle cx="266.8" cy="239.7" r="1.9" fill="#000"/>
<circle cx="270.6" cy="238.9" r="1.9" fill="#000"/>
<circle cx="274.2" cy="239.7" r="1.9" fill="#000"/>
<rect x="284.50" y="229.80" width="3.6" height="3.6" fill="#000"/>
<rect x="281.00" y="233.90" width="3.6" height="3.6" fill="#000"/>
<rect x="288.30" y="233.90" width="3.6" height="3.6" fill="#000"/>
<circle cx="312.5" cy="227.4" r="1.9" fill="#000"/>
<circle cx="308.9" cy="239.6" r="1.9" fill="#000"/>
<circle cx="316.5" cy="239.6" r="1.9" fill="#000"/>
<circle cx="308.9" cy="246.3" r="1.9" fill="#000"/>
<circle cx="316.5" cy="246.3" r="1.9" fill="#000"/>
<rect x="330.20" y="194.60" width="3.6" height="3.6" fill="#000"/>
<rect x="322.50" y="197.20" width="3.6" height="3.6" fill="#000"/>
<rect x="326.20" y="199.30" width="3.6" height="3.6" fill="#000"/>
<rect x="330.20" y="200.40" width="3.6" height="3.6" fill="#000"/>
<rect x="322.50" y="203.30" width="3.6" height="3.6" fill="#000"/>
<text x="278.20" y="217.50" font-size="7.6" text-anchor="middle" >ns</text>
<line x1="270.30" y1="220.40" x2="286.00" y2="220.40" stroke="#000" stroke-width="1.9" />
<text x="321.20" y="190.60" font-size="6.5" text-anchor="middle" >****</text>
<line x1="313.60" y1="191.90" x2="328.60" y2="191.90" stroke="#000" stroke-width="1.9" />
<circle cx="330.2" cy="164.9" r="1.8" fill="#dc1c30"/>
<rect x="328.30" y="176.10" width="3.60" height="3.90" fill="#2e3192" />
<text x="334.20" y="167.60" font-size="7.6" text-anchor="start" >PBS</text>
<text x="334.20" y="180.90" font-size="7.6" text-anchor="start" >4T1</text>
<text transform="translate(226.7,213.6) rotate(-90)" font-size="7.5" text-anchor="middle">MFI of pERK on CD45<tspan font-size="5" dy="-2.6">+</tspan></text>
<line x1="393.20" y1="166.80" x2="393.20" y2="264.00" stroke="#000" stroke-width="1.25" />
<line x1="392.70" y1="263.50" x2="478.00" y2="263.50" stroke="#000" stroke-width="1.25" />
<line x1="390.00" y1="263.50" x2="393.20" y2="263.50" stroke="#000" stroke-width="0.9" />
<text x="388.40" y="266.20" font-size="7.5" text-anchor="end" >0</text>
<line x1="390.00" y1="239.42" x2="393.20" y2="239.42" stroke="#000" stroke-width="0.9" />
<text x="388.40" y="242.12" font-size="7.5" text-anchor="end" >2</text>
<line x1="390.00" y1="215.34" x2="393.20" y2="215.34" stroke="#000" stroke-width="0.9" />
<text x="388.40" y="218.04" font-size="7.5" text-anchor="end" >4</text>
<line x1="390.00" y1="191.26" x2="393.20" y2="191.26" stroke="#000" stroke-width="0.9" />
<text x="388.40" y="193.96" font-size="7.5" text-anchor="end" >6</text>
<line x1="390.00" y1="167.18" x2="393.20" y2="167.18" stroke="#000" stroke-width="0.9" />
<text x="388.40" y="169.88" font-size="7.5" text-anchor="end" >8</text>
<line x1="406.40" y1="263.50" x2="406.40" y2="266.70" stroke="#000" stroke-width="0.9" />
<text x="406.40" y="276.60" font-size="7.5" text-anchor="middle" font-style="italic">Icam1</text>
<line x1="436.80" y1="263.50" x2="436.80" y2="266.70" stroke="#000" stroke-width="0.9" />
<text x="436.80" y="276.60" font-size="7.5" text-anchor="middle" font-style="italic">Vcam</text>
<line x1="466.60" y1="263.50" x2="466.60" y2="266.70" stroke="#000" stroke-width="0.9" />
<text x="466.60" y="276.60" font-size="7.5" text-anchor="middle" font-style="italic">Fn1</text>
<rect x="397.10" y="250.00" width="7.70" height="3.20" fill="#000" stroke="#000" stroke-width="0.7"/>
<line x1="397.10" y1="251.60" x2="404.80" y2="251.60" stroke="#000" stroke-width="0.6" />
<rect x="408.30" y="219.40" width="7.40" height="20.40" fill="#2e3192" stroke="#15174d" stroke-width="0.7"/>
<line x1="408.30" y1="229.50" x2="415.70" y2="229.50" stroke="#15174d" stroke-width="0.6" />
<rect x="427.00" y="245.30" width="7.00" height="14.50" fill="#ec1c24" stroke="#5a0a0d" stroke-width="0.7"/>
<line x1="427.00" y1="252.10" x2="434.00" y2="252.10" stroke="#5a0a0d" stroke-width="0.6" />
<rect x="437.90" y="186.00" width="7.40" height="44.20" fill="#2e3192" stroke="#15174d" stroke-width="0.7"/>
<line x1="437.90" y1="208.60" x2="445.30" y2="208.60" stroke="#15174d" stroke-width="0.6" />
<rect x="455.90" y="250.40" width="7.60" height="3.70" fill="#000" stroke="#000" stroke-width="0.7"/>
<line x1="455.90" y1="252.20" x2="463.50" y2="252.20" stroke="#000" stroke-width="0.6" />
<rect x="466.90" y="241.70" width="7.50" height="6.40" fill="#2e3192" stroke="#15174d" stroke-width="0.7"/>
<line x1="466.90" y1="245.00" x2="474.40" y2="245.00" stroke="#15174d" stroke-width="0.6" />
<line x1="403.60" y1="175.70" x2="413.30" y2="175.70" stroke="#000" stroke-width="1.8" />
<text x="408.45" y="174.30" font-size="6.5" text-anchor="middle" >**</text>
<line x1="432.20" y1="175.70" x2="441.90" y2="175.70" stroke="#000" stroke-width="1.8" />
<text x="437.05" y="174.30" font-size="6.5" text-anchor="middle" >**</text>
<line x1="463.50" y1="175.70" x2="473.50" y2="175.70" stroke="#000" stroke-width="1.8" />
<text x="468.50" y="174.30" font-size="6.5" text-anchor="middle" >*</text>
<rect x="484.4" y="165" width="7.9" height="3.9" fill="#ec1c24" stroke="#3a0508" stroke-width="0.8"/>
<line x1="484.40" y1="166.95" x2="492.30" y2="166.95" stroke="#5a0a0d" stroke-width="0.7" />
<rect x="484.4" y="178.5" width="7.9" height="3.9" fill="#2e3192" stroke="#0e1040" stroke-width="0.8"/>
<line x1="484.40" y1="180.45" x2="492.30" y2="180.45" stroke="#15174d" stroke-width="0.6" />
<text x="494.50" y="169.20" font-size="7.5" text-anchor="start" >Day 4</text>
<text x="494.50" y="182.80" font-size="7.5" text-anchor="start" >Day 21</text>
<text transform="translate(379.4,215.5) rotate(-90)" font-size="7.5" text-anchor="middle">Normalized RNA counts</text>
<line x1="34.20" y1="320.70" x2="34.20" y2="413.40" stroke="#000" stroke-width="1.25" />
<line x1="33.70" y1="412.90" x2="133.00" y2="412.90" stroke="#000" stroke-width="1.25" />
<line x1="30.20" y1="321.20" x2="34.20" y2="321.20" stroke="#000" stroke-width="1.0" />
<text x="27.40" y="323.90" font-size="7.6" text-anchor="end" >4</text>
<line x1="30.20" y1="339.55" x2="34.20" y2="339.55" stroke="#000" stroke-width="1.0" />
<text x="27.40" y="342.25" font-size="7.6" text-anchor="end" >3</text>
<line x1="30.20" y1="357.90" x2="34.20" y2="357.90" stroke="#000" stroke-width="1.0" />
<text x="27.40" y="360.60" font-size="7.6" text-anchor="end" >2</text>
<line x1="30.20" y1="376.25" x2="34.20" y2="376.25" stroke="#000" stroke-width="1.0" />
<text x="27.40" y="378.95" font-size="7.6" text-anchor="end" >1</text>
<line x1="30.20" y1="394.60" x2="34.20" y2="394.60" stroke="#000" stroke-width="1.0" />
<text x="27.40" y="397.30" font-size="7.6" text-anchor="end" >0</text>
<line x1="30.20" y1="412.90" x2="34.20" y2="412.90" stroke="#000" stroke-width="1.0" />
<text x="27.40" y="415.60" font-size="7.6" text-anchor="end" >−1</text>
<line x1="34.20" y1="394.50" x2="133.00" y2="394.50" stroke="#000" stroke-width="0.8" stroke-dasharray="1.2,1.6"/>
<text x="82.00" y="314.30" font-size="7.5" text-anchor="middle" font-style="italic" stroke-width="0.1">Itga4</text>
<line x1="49.30" y1="412.90" x2="49.30" y2="416.30" stroke="#000" stroke-width="1.0" />
<text transform="translate(51.40,422.20) rotate(-45)" font-size="7.6" text-anchor="end">Neutrophils</text>
<line x1="71.40" y1="412.90" x2="71.40" y2="416.30" stroke="#000" stroke-width="1.0" />
<text transform="translate(73.50,422.20) rotate(-45)" font-size="7.6" text-anchor="end">Monocytes</text>
<line x1="93.60" y1="412.90" x2="93.60" y2="416.30" stroke="#000" stroke-width="1.0" />
<text transform="translate(95.70,422.20) rotate(-45)" font-size="7.6" text-anchor="end">Macrophages</text>
<line x1="115.90" y1="412.90" x2="115.90" y2="416.30" stroke="#000" stroke-width="1.0" />
<text transform="translate(118.00,422.20) rotate(-45)" font-size="7.6" text-anchor="end">Hepatocytes</text>
<text transform="translate(17.2,368.05) rotate(-90)" font-size="7.5" text-anchor="middle">Normalized RNA counts</text>
<path d="M49.15,341.30C49.13,341.30 49.15,342.72 49.15,345.00C49.15,347.28 49.15,351.67 49.15,355.00C49.15,358.33 49.22,362.33 49.15,365.00C49.08,367.67 48.93,369.33 48.75,371.00C48.57,372.67 48.18,373.75 48.05,375.00C47.92,376.25 47.90,377.33 47.95,378.50C48.00,379.67 48.32,380.83 48.35,382.00C48.38,383.17 48.47,384.42 48.15,385.50C47.83,386.58 47.18,387.55 46.45,388.50C45.72,389.45 44.42,390.37 43.75,391.20C43.08,392.03 42.48,392.73 42.45,393.50C42.42,394.27 42.95,395.00 43.55,395.80C44.15,396.60 45.33,397.47 46.05,398.30C46.77,399.13 47.38,399.97 47.85,400.80C48.32,401.63 48.63,402.52 48.85,403.30C49.07,404.08 49.10,404.90 49.15,405.50C49.20,406.10 49.13,406.90 49.15,406.90C49.17,406.90 49.18,406.10 49.25,405.50C49.32,404.90 49.33,404.08 49.55,403.30C49.77,402.52 50.08,401.63 50.55,400.80C51.02,399.97 51.63,399.13 52.35,398.30C53.07,397.47 54.25,396.60 54.85,395.80C55.45,395.00 55.98,394.27 55.95,393.50C55.92,392.73 55.32,392.03 54.65,391.20C53.98,390.37 52.68,389.45 51.95,388.50C51.22,387.55 50.57,386.58 50.25,385.50C49.93,384.42 50.02,383.17 50.05,382.00C50.08,380.83 50.40,379.67 50.45,378.50C50.50,377.33 50.48,376.25 50.35,375.00C50.22,373.75 49.83,372.67 49.65,371.00C49.47,369.33 49.32,367.67 49.25,365.00C49.18,362.33 49.25,358.33 49.25,355.00C49.25,351.67 49.27,347.28 49.25,345.00C49.23,342.72 49.17,341.30 49.15,341.30Z" fill="#a96bbf" stroke="#000" stroke-width="1.9" stroke-linejoin="round"/>
<line x1="43.20" y1="393.50" x2="55.20" y2="393.50" stroke="#6b2d80" stroke-width="0.5" stroke-dasharray="1,0.8"/>
<line x1="44.60" y1="397.00" x2="53.80" y2="397.00" stroke="#6b2d80" stroke-width="0.5" stroke-dasharray="1,0.8"/>
<path d="M71.35,338.90C71.33,338.90 71.42,340.65 71.35,342.00C71.28,343.35 71.28,345.47 70.95,347.00C70.62,348.53 69.85,349.70 69.35,351.20C68.85,352.70 68.32,354.25 67.95,356.00C67.58,357.75 67.37,359.87 67.15,361.70C66.93,363.53 66.80,365.23 66.65,367.00C66.50,368.77 66.25,370.53 66.25,372.30C66.25,374.07 66.75,376.07 66.65,377.60C66.55,379.13 65.98,380.27 65.65,381.50C65.32,382.73 64.68,383.87 64.65,385.00C64.62,386.13 65.08,387.25 65.45,388.30C65.82,389.35 66.33,390.42 66.85,391.30C67.37,392.18 68.03,392.85 68.55,393.60C69.07,394.35 69.57,395.07 69.95,395.80C70.33,396.53 70.62,397.22 70.85,398.00C71.08,398.78 71.27,399.55 71.35,400.50C71.43,401.45 71.33,403.70 71.35,403.70C71.37,403.70 71.35,401.45 71.45,400.50C71.55,399.55 71.72,398.78 71.95,398.00C72.18,397.22 72.47,396.53 72.85,395.80C73.23,395.07 73.73,394.35 74.25,393.60C74.77,392.85 75.43,392.18 75.95,391.30C76.47,390.42 76.98,389.35 77.35,388.30C77.72,387.25 78.18,386.13 78.15,385.00C78.12,383.87 77.48,382.73 77.15,381.50C76.82,380.27 76.25,379.13 76.15,377.60C76.05,376.07 76.55,374.07 76.55,372.30C76.55,370.53 76.30,368.77 76.15,367.00C76.00,365.23 75.87,363.53 75.65,361.70C75.43,359.87 75.22,357.75 74.85,356.00C74.48,354.25 73.95,352.70 73.45,351.20C72.95,349.70 72.18,348.53 71.85,347.00C71.52,345.47 71.53,343.35 71.45,342.00C71.37,340.65 71.37,338.90 71.35,338.90Z" fill="#7dd756" stroke="#000" stroke-width="1.9" stroke-linejoin="round"/>
<line x1="66.00" y1="375.50" x2="76.80" y2="375.50" stroke="#2f7a1a" stroke-width="0.5" stroke-dasharray="1,0.8"/>
<line x1="64.60" y1="386.50" x2="78.20" y2="386.50" stroke="#2f7a1a" stroke-width="0.5" stroke-dasharray="1,0.8"/>
<path d="M93.45,373.80C93.20,373.80 93.27,374.88 92.75,375.50C92.23,376.12 91.18,376.83 90.35,377.50C89.52,378.17 88.35,378.78 87.75,379.50C87.15,380.22 86.72,381.08 86.75,381.80C86.78,382.52 87.50,383.17 87.95,383.80C88.40,384.43 89.08,384.98 89.45,385.60C89.82,386.22 89.97,386.85 90.15,387.50C90.33,388.15 90.38,388.83 90.55,389.50C90.72,390.17 90.88,390.83 91.15,391.50C91.42,392.17 91.83,392.83 92.15,393.50C92.48,394.17 92.88,394.93 93.10,395.50C93.32,396.07 93.32,396.90 93.45,396.90C93.58,396.90 93.67,396.07 93.90,395.50C94.13,394.93 94.52,394.17 94.85,393.50C95.17,392.83 95.58,392.17 95.85,391.50C96.12,390.83 96.28,390.17 96.45,389.50C96.62,388.83 96.67,388.15 96.85,387.50C97.03,386.85 97.18,386.22 97.55,385.60C97.92,384.98 98.60,384.43 99.05,383.80C99.50,383.17 100.22,382.52 100.25,381.80C100.28,381.08 99.85,380.22 99.25,379.50C98.65,378.78 97.48,378.17 96.65,377.50C95.82,376.83 94.78,376.12 94.25,375.50C93.72,374.88 93.70,373.80 93.45,373.80Z" fill="#fbd9a8" stroke="#000" stroke-width="1.9" stroke-linejoin="round"/>
<line x1="86.50" y1="381.80" x2="100.50" y2="381.80" stroke="#d07a1a" stroke-width="0.5" stroke-dasharray="1,0.8"/>
<line x1="88.10" y1="384.30" x2="98.90" y2="384.30" stroke="#d07a1a" stroke-width="0.5" stroke-dasharray="1,0.8"/>
<line x1="89.90" y1="388.50" x2="97.10" y2="388.50" stroke="#d07a1a" stroke-width="0.5" stroke-dasharray="1,0.8"/>
<ellipse cx="115.9" cy="398.2" rx="7.6" ry="1.5" fill="#000"/><ellipse cx="115.9" cy="396.4" rx="1.6" ry="1.8" fill="#000"/>
<line x1="181.20" y1="320.70" x2="181.20" y2="413.40" stroke="#000" stroke-width="1.25" />
<line x1="180.70" y1="412.90" x2="279.00" y2="412.90" stroke="#000" stroke-width="1.25" />
<line x1="177.20" y1="321.20" x2="181.20" y2="321.20" stroke="#000" stroke-width="1.0" />
<text x="174.30" y="323.90" font-size="7.6" text-anchor="end" >4</text>
<line x1="177.20" y1="339.55" x2="181.20" y2="339.55" stroke="#000" stroke-width="1.0" />
<text x="174.30" y="342.25" font-size="7.6" text-anchor="end" >3</text>
<line x1="177.20" y1="357.90" x2="181.20" y2="357.90" stroke="#000" stroke-width="1.0" />
<text x="174.30" y="360.60" font-size="7.6" text-anchor="end" >2</text>
<line x1="177.20" y1="376.25" x2="181.20" y2="376.25" stroke="#000" stroke-width="1.0" />
<text x="174.30" y="378.95" font-size="7.6" text-anchor="end" >1</text>
<line x1="177.20" y1="394.60" x2="181.20" y2="394.60" stroke="#000" stroke-width="1.0" />
<text x="174.30" y="397.30" font-size="7.6" text-anchor="end" >0</text>
<line x1="177.20" y1="412.90" x2="181.20" y2="412.90" stroke="#000" stroke-width="1.0" />
<text x="174.30" y="415.60" font-size="7.6" text-anchor="end" >−1</text>
<line x1="181.20" y1="394.50" x2="279.00" y2="394.50" stroke="#000" stroke-width="0.8" stroke-dasharray="1.2,1.6"/>
<text x="230.40" y="314.30" font-size="7.5" text-anchor="middle" font-style="italic" stroke-width="0.1">Itgal</text>
<line x1="196.10" y1="412.90" x2="196.10" y2="416.30" stroke="#000" stroke-width="1.0" />
<text transform="translate(198.20,422.20) rotate(-45)" font-size="7.6" text-anchor="end">Neutrophils</text>
<line x1="218.20" y1="412.90" x2="218.20" y2="416.30" stroke="#000" stroke-width="1.0" />
<text transform="translate(220.30,422.20) rotate(-45)" font-size="7.6" text-anchor="end">Monocytes</text>
<line x1="240.80" y1="412.90" x2="240.80" y2="416.30" stroke="#000" stroke-width="1.0" />
<text transform="translate(242.90,422.20) rotate(-45)" font-size="7.6" text-anchor="end">Macrophages</text>
<line x1="263.20" y1="412.90" x2="263.20" y2="416.30" stroke="#000" stroke-width="1.0" />
<text transform="translate(265.30,422.20) rotate(-45)" font-size="7.6" text-anchor="end">Hepatocytes</text>
<text transform="translate(164.5,368.05) rotate(-90)" font-size="7.5" text-anchor="middle">Normalized RNA counts</text>
<path d="M195.85,343.30C195.83,343.30 195.85,345.72 195.85,347.00C195.85,348.28 195.91,349.83 195.85,351.00C195.79,352.17 195.50,353.00 195.50,354.00C195.50,355.00 195.79,356.00 195.85,357.00C195.91,358.00 195.91,359.00 195.85,360.00C195.79,361.00 195.78,362.00 195.50,363.00C195.22,364.00 194.64,365.08 194.15,366.00C193.66,366.92 192.95,367.75 192.55,368.50C192.15,369.25 191.88,369.67 191.75,370.50C191.62,371.33 191.67,372.32 191.75,373.50C191.83,374.68 192.25,376.35 192.25,377.60C192.25,378.85 192.07,379.77 191.75,381.00C191.43,382.23 190.75,383.75 190.35,385.00C189.95,386.25 189.57,387.45 189.35,388.50C189.13,389.55 188.98,390.38 189.05,391.30C189.12,392.22 189.37,393.05 189.75,394.00C190.13,394.95 190.75,396.00 191.35,397.00C191.95,398.00 192.75,399.08 193.35,400.00C193.95,400.92 194.53,401.78 194.95,402.50C195.37,403.22 195.53,404.30 195.85,404.30C196.17,404.30 196.42,403.22 196.85,402.50C197.28,401.78 197.85,400.92 198.45,400.00C199.05,399.08 199.85,398.00 200.45,397.00C201.05,396.00 201.67,394.95 202.05,394.00C202.43,393.05 202.68,392.22 202.75,391.30C202.82,390.38 202.67,389.55 202.45,388.50C202.23,387.45 201.85,386.25 201.45,385.00C201.05,383.75 200.37,382.23 200.05,381.00C199.73,379.77 199.55,378.85 199.55,377.60C199.55,376.35 199.97,374.68 200.05,373.50C200.13,372.32 200.18,371.33 200.05,370.50C199.92,369.67 199.65,369.25 199.25,368.50C198.85,367.75 198.14,366.92 197.65,366.00C197.16,365.08 196.58,364.00 196.30,363.00C196.02,362.00 196.01,361.00 195.95,360.00C195.89,359.00 195.89,358.00 195.95,357.00C196.01,356.00 196.30,355.00 196.30,354.00C196.30,353.00 196.01,352.17 195.95,351.00C195.89,349.83 195.97,348.28 195.95,347.00C195.93,345.72 195.87,343.30 195.85,343.30Z" fill="#a96bbf" stroke="#000" stroke-width="1.9" stroke-linejoin="round"/>
<line x1="191.10" y1="372.00" x2="200.70" y2="372.00" stroke="#6b2d80" stroke-width="0.5" stroke-dasharray="1,0.8"/>
<line x1="189.30" y1="386.00" x2="202.50" y2="386.00" stroke="#6b2d80" stroke-width="0.5" stroke-dasharray="1,0.8"/>
<line x1="188.70" y1="393.00" x2="203.10" y2="393.00" stroke="#6b2d80" stroke-width="0.5" stroke-dasharray="1,0.8"/>
<path d="M218.15,348.90C218.13,348.90 218.15,350.82 218.15,352.00C218.15,353.18 218.21,354.73 218.15,356.00C218.09,357.27 218.02,358.43 217.80,359.60C217.58,360.77 217.27,361.85 216.85,363.00C216.43,364.15 215.67,365.42 215.25,366.50C214.83,367.58 214.52,368.42 214.35,369.50C214.18,370.58 214.23,371.83 214.25,373.00C214.27,374.17 214.55,375.33 214.45,376.50C214.35,377.67 213.97,378.83 213.65,380.00C213.33,381.17 212.88,382.25 212.55,383.50C212.22,384.75 211.87,386.20 211.65,387.50C211.43,388.80 211.17,390.13 211.25,391.30C211.33,392.47 211.68,393.43 212.15,394.50C212.62,395.57 213.45,396.62 214.05,397.70C214.65,398.78 215.27,399.95 215.75,401.00C216.23,402.05 216.61,402.92 216.95,404.00C217.29,405.08 217.60,406.33 217.80,407.50C218.00,408.67 218.02,411.00 218.15,411.00C218.28,411.00 218.38,408.67 218.60,407.50C218.82,406.33 219.11,405.08 219.45,404.00C219.79,402.92 220.17,402.05 220.65,401.00C221.13,399.95 221.75,398.78 222.35,397.70C222.95,396.62 223.78,395.57 224.25,394.50C224.72,393.43 225.07,392.47 225.15,391.30C225.23,390.13 224.97,388.80 224.75,387.50C224.53,386.20 224.18,384.75 223.85,383.50C223.52,382.25 223.07,381.17 222.75,380.00C222.43,378.83 222.05,377.67 221.95,376.50C221.85,375.33 222.13,374.17 222.15,373.00C222.17,371.83 222.22,370.58 222.05,369.50C221.88,368.42 221.57,367.58 221.15,366.50C220.73,365.42 219.97,364.15 219.55,363.00C219.12,361.85 218.82,360.77 218.60,359.60C218.38,358.43 218.31,357.27 218.25,356.00C218.19,354.73 218.27,353.18 218.25,352.00C218.23,350.82 218.17,348.90 218.15,348.90Z" fill="#7dd756" stroke="#000" stroke-width="1.9" stroke-linejoin="round"/>
<line x1="213.80" y1="370.00" x2="222.60" y2="370.00" stroke="#2f7a1a" stroke-width="0.5" stroke-dasharray="1,0.8"/>
<line x1="211.40" y1="385.50" x2="225.00" y2="385.50" stroke="#2f7a1a" stroke-width="0.5" stroke-dasharray="1,0.8"/>
<line x1="211.00" y1="393.00" x2="225.40" y2="393.00" stroke="#2f7a1a" stroke-width="0.5" stroke-dasharray="1,0.8"/>
<path d="M240.75,338.80C240.73,338.80 240.97,340.13 240.75,341.00C240.53,341.87 239.82,342.92 239.45,344.00C239.08,345.08 238.57,346.42 238.55,347.50C238.53,348.58 239.03,349.45 239.35,350.50C239.67,351.55 240.40,352.83 240.45,353.80C240.50,354.77 240.22,355.50 239.65,356.30C239.08,357.10 237.85,357.82 237.05,358.60C236.25,359.38 235.38,360.22 234.85,361.00C234.32,361.78 233.85,362.55 233.85,363.30C233.85,364.05 234.32,364.72 234.85,365.50C235.38,366.28 236.38,367.08 237.05,368.00C237.72,368.92 238.37,370.00 238.85,371.00C239.33,372.00 239.69,373.00 239.95,374.00C240.21,375.00 240.27,375.83 240.40,377.00C240.53,378.17 240.74,379.67 240.75,381.00C240.76,382.33 240.55,383.83 240.45,385.00C240.35,386.17 240.16,387.00 240.15,388.00C240.14,389.00 240.30,390.08 240.40,391.00C240.50,391.92 240.69,392.83 240.75,393.50C240.81,394.17 240.73,395.00 240.75,395.00C240.77,395.00 240.78,394.17 240.85,393.50C240.93,392.83 241.10,391.92 241.20,391.00C241.30,390.08 241.46,389.00 241.45,388.00C241.44,387.00 241.25,386.17 241.15,385.00C241.05,383.83 240.84,382.33 240.85,381.00C240.86,379.67 241.07,378.17 241.20,377.00C241.33,375.83 241.39,375.00 241.65,374.00C241.91,373.00 242.27,372.00 242.75,371.00C243.23,370.00 243.88,368.92 244.55,368.00C245.22,367.08 246.22,366.28 246.75,365.50C247.28,364.72 247.75,364.05 247.75,363.30C247.75,362.55 247.28,361.78 246.75,361.00C246.22,360.22 245.35,359.38 244.55,358.60C243.75,357.82 242.52,357.10 241.95,356.30C241.38,355.50 241.10,354.77 241.15,353.80C241.20,352.83 241.93,351.55 242.25,350.50C242.57,349.45 243.07,348.58 243.05,347.50C243.03,346.42 242.52,345.08 242.15,344.00C241.78,342.92 241.08,341.87 240.85,341.00C240.62,340.13 240.77,338.80 240.75,338.80Z" fill="#fbd9a8" stroke="#000" stroke-width="1.9" stroke-linejoin="round"/>
<line x1="233.80" y1="363.30" x2="247.80" y2="363.30" stroke="#d07a1a" stroke-width="0.5" stroke-dasharray="1,0.8"/>
<line x1="235.80" y1="367.00" x2="245.80" y2="367.00" stroke="#d07a1a" stroke-width="0.5" stroke-dasharray="1,0.8"/>
<ellipse cx="263.2" cy="400.3" rx="7.8" ry="1.5" fill="#000"/><path d="M261.3,400 Q262.8,398 262.8,394.5 L263.8,394.5 Q263.8,398 265.3,400Z" fill="#000"/><circle cx="263.3" cy="393.3" r="1.3" fill="#000"/>
<line x1="327.70" y1="320.70" x2="327.70" y2="413.10" stroke="#000" stroke-width="1.25" />
<line x1="327.20" y1="412.60" x2="424.00" y2="412.60" stroke="#000" stroke-width="1.25" />
<line x1="323.70" y1="321.20" x2="327.70" y2="321.20" stroke="#000" stroke-width="1.0" />
<text x="319.90" y="323.90" font-size="7.6" text-anchor="end" >3</text>
<line x1="323.70" y1="344.05" x2="327.70" y2="344.05" stroke="#000" stroke-width="1.0" />
<text x="319.90" y="346.75" font-size="7.6" text-anchor="end" >2</text>
<line x1="323.70" y1="366.90" x2="327.70" y2="366.90" stroke="#000" stroke-width="1.0" />
<text x="319.90" y="369.60" font-size="7.6" text-anchor="end" >1</text>
<line x1="323.70" y1="389.75" x2="327.70" y2="389.75" stroke="#000" stroke-width="1.0" />
<text x="319.90" y="392.45" font-size="7.6" text-anchor="end" >0</text>
<line x1="323.70" y1="412.60" x2="327.70" y2="412.60" stroke="#000" stroke-width="1.0" />
<text x="319.90" y="415.30" font-size="7.6" text-anchor="end" >−1</text>
<line x1="327.70" y1="389.70" x2="424.00" y2="389.70" stroke="#000" stroke-width="0.8" stroke-dasharray="1.2,1.6"/>
<text x="376.00" y="314.30" font-size="7.5" text-anchor="middle" font-style="italic" stroke-width="0.1">Itgam</text>
<line x1="342.40" y1="412.60" x2="342.40" y2="416.00" stroke="#000" stroke-width="1.0" />
<text transform="translate(344.50,421.90) rotate(-45)" font-size="7.6" text-anchor="end">Neutrophils</text>
<line x1="364.70" y1="412.60" x2="364.70" y2="416.00" stroke="#000" stroke-width="1.0" />
<text transform="translate(366.80,421.90) rotate(-45)" font-size="7.6" text-anchor="end">Monocytes</text>
<line x1="387.00" y1="412.60" x2="387.00" y2="416.00" stroke="#000" stroke-width="1.0" />
<text transform="translate(389.10,421.90) rotate(-45)" font-size="7.6" text-anchor="end">Macrophages</text>
<line x1="409.20" y1="412.60" x2="409.20" y2="416.00" stroke="#000" stroke-width="1.0" />
<text transform="translate(411.30,421.90) rotate(-45)" font-size="7.6" text-anchor="end">Hepatocytes</text>
<text transform="translate(310.7,367.90) rotate(-90)" font-size="7.5" text-anchor="middle">Normalized RNA counts</text>
<path d="M342.55,329.90C342.53,329.90 342.83,331.57 342.55,332.50C342.27,333.43 341.42,334.58 340.85,335.50C340.28,336.42 339.60,337.15 339.15,338.00C338.70,338.85 338.35,339.52 338.15,340.60C337.95,341.68 337.88,343.13 337.95,344.50C338.02,345.87 338.65,347.47 338.55,348.80C338.45,350.13 337.80,351.25 337.35,352.50C336.90,353.75 335.93,355.22 335.85,356.30C335.77,357.38 336.42,358.13 336.85,359.00C337.28,359.87 337.92,360.63 338.45,361.50C338.98,362.37 339.60,363.32 340.05,364.20C340.50,365.08 340.79,365.95 341.15,366.80C341.51,367.65 341.97,368.57 342.20,369.30C342.43,370.03 342.42,371.20 342.55,371.20C342.68,371.20 342.75,370.03 343.00,369.30C343.25,368.57 343.69,367.65 344.05,366.80C344.41,365.95 344.70,365.08 345.15,364.20C345.60,363.32 346.22,362.37 346.75,361.50C347.28,360.63 347.92,359.87 348.35,359.00C348.78,358.13 349.43,357.38 349.35,356.30C349.27,355.22 348.30,353.75 347.85,352.50C347.40,351.25 346.75,350.13 346.65,348.80C346.55,347.47 347.18,345.87 347.25,344.50C347.32,343.13 347.25,341.68 347.05,340.60C346.85,339.52 346.50,338.85 346.05,338.00C345.60,337.15 344.92,336.42 344.35,335.50C343.78,334.58 342.95,333.43 342.65,332.50C342.35,331.57 342.57,329.90 342.55,329.90Z" fill="#a96bbf" stroke="#000" stroke-width="1.9" stroke-linejoin="round"/>
<line x1="337.40" y1="342.00" x2="347.80" y2="342.00" stroke="#6b2d80" stroke-width="0.5" stroke-dasharray="1,0.8"/>
<line x1="337.80" y1="349.50" x2="347.40" y2="349.50" stroke="#6b2d80" stroke-width="0.5" stroke-dasharray="1,0.8"/>
<line x1="335.60" y1="356.50" x2="349.60" y2="356.50" stroke="#6b2d80" stroke-width="0.5" stroke-dasharray="1,0.8"/>
<path d="M364.65,339.20C364.63,339.20 364.67,341.28 364.65,342.50C364.63,343.72 364.77,345.25 364.55,346.50C364.33,347.75 363.88,348.83 363.35,350.00C362.82,351.17 361.92,352.42 361.35,353.50C360.78,354.58 360.30,355.52 359.95,356.50C359.60,357.48 359.25,358.40 359.25,359.40C359.25,360.40 359.60,361.40 359.95,362.50C360.30,363.60 360.92,364.83 361.35,366.00C361.78,367.17 362.27,368.42 362.55,369.50C362.83,370.58 363.05,371.50 363.05,372.50C363.05,373.50 362.93,374.42 362.55,375.50C362.17,376.58 361.35,377.83 360.75,379.00C360.15,380.17 359.38,381.35 358.95,382.50C358.52,383.65 358.12,384.82 358.15,385.90C358.18,386.98 358.72,387.98 359.15,389.00C359.58,390.02 360.18,391.00 360.75,392.00C361.32,393.00 362.02,394.00 362.55,395.00C363.08,396.00 363.60,397.00 363.95,398.00C364.30,399.00 364.53,400.08 364.65,401.00C364.77,401.92 364.63,403.50 364.65,403.50C364.67,403.50 364.62,401.92 364.75,401.00C364.88,400.08 365.10,399.00 365.45,398.00C365.80,397.00 366.32,396.00 366.85,395.00C367.38,394.00 368.08,393.00 368.65,392.00C369.22,391.00 369.82,390.02 370.25,389.00C370.68,387.98 371.22,386.98 371.25,385.90C371.28,384.82 370.88,383.65 370.45,382.50C370.02,381.35 369.25,380.17 368.65,379.00C368.05,377.83 367.23,376.58 366.85,375.50C366.47,374.42 366.35,373.50 366.35,372.50C366.35,371.50 366.57,370.58 366.85,369.50C367.13,368.42 367.62,367.17 368.05,366.00C368.48,364.83 369.10,363.60 369.45,362.50C369.80,361.40 370.15,360.40 370.15,359.40C370.15,358.40 369.80,357.48 369.45,356.50C369.10,355.52 368.62,354.58 368.05,353.50C367.48,352.42 366.58,351.17 366.05,350.00C365.52,348.83 365.07,347.75 364.85,346.50C364.63,345.25 364.78,343.72 364.75,342.50C364.72,341.28 364.67,339.20 364.65,339.20Z" fill="#7dd756" stroke="#000" stroke-width="1.9" stroke-linejoin="round"/>
<line x1="358.70" y1="359.50" x2="370.70" y2="359.50" stroke="#2f7a1a" stroke-width="0.5" stroke-dasharray="1,0.8"/>
<line x1="357.70" y1="386.50" x2="371.70" y2="386.50" stroke="#2f7a1a" stroke-width="0.5" stroke-dasharray="1,0.8"/>
<path d="M386.95,374.70C386.57,374.70 386.22,375.08 385.85,375.60C385.48,376.12 384.88,377.07 384.75,377.80C384.62,378.53 384.90,379.33 385.05,380.00C385.20,380.67 385.75,381.22 385.65,381.80C385.55,382.38 385.08,382.93 384.45,383.50C383.82,384.07 382.50,384.68 381.85,385.20C381.20,385.72 380.48,386.10 380.55,386.60C380.62,387.10 381.60,387.63 382.25,388.20C382.90,388.77 383.78,389.40 384.45,390.00C385.12,390.60 385.83,391.28 386.25,391.80C386.67,392.32 386.70,393.10 386.95,393.10C387.20,393.10 387.32,392.32 387.75,391.80C388.18,391.28 388.88,390.60 389.55,390.00C390.22,389.40 391.10,388.77 391.75,388.20C392.40,387.63 393.38,387.10 393.45,386.60C393.52,386.10 392.80,385.72 392.15,385.20C391.50,384.68 390.18,384.07 389.55,383.50C388.92,382.93 388.45,382.38 388.35,381.80C388.25,381.22 388.80,380.67 388.95,380.00C389.10,379.33 389.38,378.53 389.25,377.80C389.12,377.07 388.53,376.12 388.15,375.60C387.77,375.08 387.33,374.70 386.95,374.70Z" fill="#fbd9a8" stroke="#000" stroke-width="1.5" stroke-linejoin="round"/>
<line x1="381.00" y1="386.50" x2="393.00" y2="386.50" stroke="#d07a1a" stroke-width="0.5" stroke-dasharray="1,0.8"/>
<rect x="403.3" y="389" width="12" height="2" rx="1" fill="#000"/><ellipse cx="409.3" cy="388.2" rx="1.3" ry="1.4" fill="#000"/>
<defs><filter id="w1" x="-30%" y="-80%" width="160%" height="260%"><feGaussianBlur stdDeviation="0.7"/></filter><filter id="w2" x="-30%" y="-80%" width="160%" height="260%"><feGaussianBlur stdDeviation="1.5"/></filter><filter id="w3" x="-30%" y="-80%" width="160%" height="260%"><feGaussianBlur stdDeviation="1.15"/></filter><linearGradient id="hg" x1="0" x2="1"><stop offset="0" stop-color="#ebebeb"/><stop offset="0.45" stop-color="#ececec"/><stop offset="0.55" stop-color="#f3f3f3"/><stop offset="1" stop-color="#f5f5f5"/></linearGradient></defs>
<text x="64.60" y="492.00" font-size="7.5" text-anchor="middle" >PBS</text>
<text x="138.00" y="492.00" font-size="7.5" text-anchor="middle" >4T1</text>
<text x="29.80" y="503.60" font-size="8" text-anchor="end" >pSTAT3</text>
<text x="29.80" y="524.80" font-size="8" text-anchor="end" >STAT3</text>
<text x="29.80" y="544.40" font-size="8" text-anchor="end" >HNF4α</text>
<text x="29.80" y="562.20" font-size="8" text-anchor="end" >Actin</text>
<rect x="31.20" y="494.20" width="140.00" height="14.60" fill="#c0c0c0" />
<clipPath id="pc"><rect x="31.2" y="494" width="140" height="15"/></clipPath><g clip-path="url(#pc)"><g filter="url(#w3)">
<rect x="34.80" y="492.00" width="7.20" height="19.00" fill="#555" opacity="0.14"/>
<rect x="47.00" y="492.00" width="7.20" height="19.00" fill="#555" opacity="0.16"/>
<rect x="59.30" y="492.00" width="7.20" height="19.00" fill="#555" opacity="0.24"/>
<rect x="72.20" y="492.00" width="7.20" height="19.00" fill="#555" opacity="0.2"/>
<rect x="84.60" y="492.00" width="7.20" height="19.00" fill="#555" opacity="0.26"/>
<rect x="84.70" y="501.00" width="7.00" height="7.00" fill="#444" opacity="0.4"/>
</g>
<g filter="url(#w1)">
<rect x="110.00" y="492.00" width="8.60" height="19.00" fill="#333" opacity="0.55"/>
<rect x="110.50" y="499.00" width="7.60" height="6.00" fill="#111" opacity="0.75"/>
<rect x="122.50" y="492.00" width="8.60" height="19.00" fill="#333" opacity="0.35"/>
<rect x="123.00" y="499.00" width="7.60" height="6.00" fill="#111" opacity="0.45"/>
<rect x="134.90" y="492.00" width="8.60" height="19.00" fill="#333" opacity="0.12"/>
<rect x="135.40" y="499.00" width="7.60" height="6.00" fill="#111" opacity="0.12"/>
<rect x="146.30" y="492.00" width="8.60" height="19.00" fill="#333" opacity="0.5"/>
<rect x="146.80" y="499.00" width="7.60" height="6.00" fill="#111" opacity="0.55"/>
<rect x="158.70" y="492.00" width="8.60" height="19.00" fill="#333" opacity="0.7"/>
<rect x="159.20" y="499.00" width="7.60" height="6.00" fill="#111" opacity="0.9"/>
</g></g>
<g filter="url(#w1)">
<rect x="33.60" y="520.20" width="9.6" height="3.4" rx="1.6" fill="#0a0a0a" opacity="1"/>
<rect x="46.10" y="519.90" width="9" height="4" rx="1.6" fill="#0a0a0a" opacity="1"/>
<rect x="58.40" y="520.00" width="9" height="3.8" rx="1.6" fill="#0a0a0a" opacity="1"/>
<rect x="71.50" y="520.30" width="8.6" height="3.2" rx="1.6" fill="#0a0a0a" opacity="1"/>
<rect x="83.60" y="519.60" width="9.2" height="4.6" rx="1.6" fill="#0a0a0a" opacity="1"/>
<rect x="110.10" y="520.90" width="8.4" height="3" rx="1.5" fill="#0a0a0a" opacity="0.85"/>
<rect x="122.05" y="520.60" width="9.5" height="3.6" rx="1.5" fill="#0a0a0a" opacity="1"/>
<rect x="135.20" y="521.10" width="8" height="2.6" rx="1.5" fill="#0a0a0a" opacity="0.55"/>
<rect x="146.60" y="521.10" width="8" height="2.6" rx="1.5" fill="#0a0a0a" opacity="0.5"/>
<rect x="158.10" y="520.30" width="9.8" height="4.2" rx="1.5" fill="#0a0a0a" opacity="1"/>
</g><g filter="url(#w2)">
<rect x="47.60" y="513.00" width="6.00" height="7.00" fill="#666" opacity="0.25"/>
<rect x="59.90" y="513.00" width="6.00" height="7.00" fill="#666" opacity="0.2"/>
<rect x="72.80" y="513.00" width="6.00" height="7.00" fill="#666" opacity="0.15"/>
<rect x="85.20" y="513.00" width="6.00" height="7.00" fill="#666" opacity="0.4"/>
<rect x="160.00" y="513.00" width="6.00" height="7.00" fill="#666" opacity="0.25"/>
</g>
<rect x="31.20" y="532.00" width="141.00" height="19.00" fill="url(#hg)" />
<g filter="url(#w3)">
<rect x="33.90" y="539.6" width="9" height="5.8" rx="2" fill="#0c0c0c" opacity="0.9"/>
<rect x="34.60" y="533.4" width="7.6" height="6.5" rx="2" fill="#555" opacity="0.45"/>
<rect x="34.60" y="545.5" width="7.6" height="4" rx="2" fill="#666" opacity="0.27"/>
<rect x="46.10" y="539.6" width="9" height="5.8" rx="2" fill="#0c0c0c" opacity="0.95"/>
<rect x="46.80" y="533.4" width="7.6" height="6.5" rx="2" fill="#555" opacity="0.47"/>
<rect x="46.80" y="545.5" width="7.6" height="4" rx="2" fill="#666" opacity="0.28"/>
<rect x="58.40" y="539.6" width="9" height="5.8" rx="2" fill="#0c0c0c" opacity="0.95"/>
<rect x="59.10" y="533.4" width="7.6" height="6.5" rx="2" fill="#555" opacity="0.47"/>
<rect x="59.10" y="545.5" width="7.6" height="4" rx="2" fill="#666" opacity="0.28"/>
<rect x="71.30" y="539.6" width="9" height="5.8" rx="2" fill="#0c0c0c" opacity="0.55"/>
<rect x="72.00" y="533.4" width="7.6" height="6.5" rx="2" fill="#555" opacity="0.28"/>
<rect x="72.00" y="545.5" width="7.6" height="4" rx="2" fill="#666" opacity="0.17"/>
<rect x="83.70" y="539.6" width="9" height="5.8" rx="2" fill="#0c0c0c" opacity="1"/>
<rect x="84.40" y="533.4" width="7.6" height="6.5" rx="2" fill="#555" opacity="0.50"/>
<rect x="84.40" y="545.5" width="7.6" height="4" rx="2" fill="#666" opacity="0.30"/>
<rect x="110.50" y="538" width="7.6" height="7" rx="2" fill="#999" opacity="0.2"/>
<rect x="123.00" y="538" width="7.6" height="7" rx="2" fill="#999" opacity="0.2"/>
<rect x="135.40" y="538" width="7.6" height="7" rx="2" fill="#999" opacity="0.2"/>
<rect x="146.80" y="538" width="7.6" height="7" rx="2" fill="#999" opacity="0.2"/>
<rect x="159.20" y="538" width="7.6" height="7" rx="2" fill="#999" opacity="0.2"/>
</g>
<g filter="url(#w1)">
<rect x="33.40" y="558.00" width="10" height="4" rx="1.7" fill="#0a0a0a" opacity="1"/>
<rect x="45.80" y="557.60" width="9.6" height="3.6" rx="1.7" fill="#0a0a0a" opacity="1"/>
<rect x="58.10" y="558.20" width="9.6" height="3.6" rx="1.7" fill="#0a0a0a" opacity="1"/>
<rect x="71.60" y="559.20" width="8.4" height="2.4" rx="1.7" fill="#0a0a0a" opacity="1"/>
<rect x="84.20" y="559.90" width="8" height="2.6" rx="1.7" fill="#0a0a0a" opacity="0.8"/>
<rect x="109.50" y="559.70" width="9.6" height="4" rx="1.9" fill="#0a0a0a"/>
<rect x="121.50" y="560.70" width="10.6" height="4" rx="1.9" fill="#0a0a0a"/>
<rect x="133.70" y="560.70" width="11" height="4.4" rx="1.9" fill="#0a0a0a"/>
<rect x="145.60" y="561.10" width="10" height="4" rx="1.9" fill="#0a0a0a"/>
<rect x="158.00" y="560.40" width="10" height="4.6" rx="1.9" fill="#0a0a0a"/>
</g>
<line x1="228.20" y1="532.40" x2="228.20" y2="548.00" stroke="#000" stroke-width="0.9" />
<line x1="224.20" y1="532.40" x2="232.20" y2="532.40" stroke="#000" stroke-width="0.9" />
<line x1="255.90" y1="499.60" x2="255.90" y2="514.00" stroke="#000" stroke-width="0.9" />
<line x1="251.90" y1="499.60" x2="259.90" y2="499.60" stroke="#000" stroke-width="0.9" />
<rect x="219.10" y="547.40" width="18.50" height="30.80" fill="#ec1c24" />
<rect x="246.20" y="513.00" width="19.10" height="65.20" fill="#2e3192" />
<line x1="210.40" y1="485.50" x2="210.40" y2="578.70" stroke="#000" stroke-width="1.25" />
<line x1="207.00" y1="578.20" x2="269.70" y2="578.20" stroke="#000" stroke-width="1.25" />
<line x1="206.60" y1="578.20" x2="210.40" y2="578.20" stroke="#000" stroke-width="1.0" />
<text x="203.20" y="580.95" font-size="7.7" text-anchor="end" >0</text>
<line x1="206.60" y1="547.50" x2="210.40" y2="547.50" stroke="#000" stroke-width="1.0" />
<text x="203.20" y="550.25" font-size="7.7" text-anchor="end" >1</text>
<line x1="206.60" y1="516.80" x2="210.40" y2="516.80" stroke="#000" stroke-width="1.0" />
<text x="203.20" y="519.55" font-size="7.7" text-anchor="end" >2</text>
<line x1="206.60" y1="486.00" x2="210.40" y2="486.00" stroke="#000" stroke-width="1.0" />
<text x="203.20" y="488.75" font-size="7.7" text-anchor="end" >3</text>
<line x1="228.20" y1="578.20" x2="228.20" y2="581.70" stroke="#000" stroke-width="1.0" />
<text x="228.20" y="590.00" font-size="7.5" text-anchor="middle" >PBS</text>
<line x1="255.60" y1="578.20" x2="255.60" y2="581.70" stroke="#000" stroke-width="1.0" />
<text x="255.60" y="590.00" font-size="7.5" text-anchor="middle" >4T1</text>
<line x1="228.40" y1="489.00" x2="255.90" y2="489.00" stroke="#000" stroke-width="2.0" />
<text x="242.15" y="488.10" font-size="6.5" text-anchor="middle" >**</text>
<text transform="translate(194.1,534.5) rotate(-90)" font-size="7.5" text-anchor="middle">miR-24 relative levels</text>
<circle cx="228.4" cy="526.2" r="1.6" fill="#000"/>
<circle cx="225.4" cy="544.6" r="1.6" fill="#000"/>
<circle cx="231.9" cy="544.6" r="1.6" fill="#000"/>
<circle cx="228.4" cy="557.3" r="1.6" fill="#000"/>
<circle cx="228.4" cy="565.9" r="1.6" fill="#000"/>
<rect x="254.45" y="491.75" width="2.9" height="2.9" fill="#000"/>
<rect x="254.45" y="506.25" width="2.9" height="2.9" fill="#000"/>
<rect x="254.45" y="515.55" width="2.9" height="2.9" fill="#000"/>
<rect x="254.45" y="519.15" width="2.9" height="2.9" fill="#000"/>
<rect x="254.45" y="525.85" width="2.9" height="2.9" fill="#000"/>
<line x1="333.50" y1="502.40" x2="333.50" y2="520.00" stroke="#000" stroke-width="0.9" />
<line x1="329.50" y1="502.40" x2="337.50" y2="502.40" stroke="#000" stroke-width="0.9" />
<line x1="359.90" y1="543.90" x2="359.90" y2="552.00" stroke="#000" stroke-width="0.9" />
<line x1="355.90" y1="543.90" x2="363.90" y2="543.90" stroke="#000" stroke-width="0.9" />
<rect x="324.90" y="519.50" width="17.90" height="59.30" fill="#ec1c24" />
<rect x="351.10" y="551.50" width="17.80" height="27.30" fill="#2e3192" />
<line x1="317.10" y1="488.70" x2="317.10" y2="579.30" stroke="#000" stroke-width="1.25" />
<line x1="312.30" y1="578.80" x2="376.50" y2="578.80" stroke="#000" stroke-width="1.25" />
<line x1="313.30" y1="578.80" x2="317.10" y2="578.80" stroke="#000" stroke-width="1.0" />
<text x="309.80" y="581.55" font-size="7.7" text-anchor="end" >0.0</text>
<line x1="313.30" y1="549.00" x2="317.10" y2="549.00" stroke="#000" stroke-width="1.0" />
<text x="309.80" y="551.75" font-size="7.7" text-anchor="end" >0.5</text>
<line x1="313.30" y1="519.20" x2="317.10" y2="519.20" stroke="#000" stroke-width="1.0" />
<text x="309.80" y="521.95" font-size="7.7" text-anchor="end" >1.0</text>
<line x1="313.30" y1="489.40" x2="317.10" y2="489.40" stroke="#000" stroke-width="1.0" />
<text x="309.80" y="492.15" font-size="7.7" text-anchor="end" >1.5</text>
<line x1="333.50" y1="578.80" x2="333.50" y2="582.30" stroke="#000" stroke-width="1.0" />
<text x="333.50" y="590.00" font-size="7.5" text-anchor="middle" >PBS</text>
<line x1="359.90" y1="578.80" x2="359.90" y2="582.30" stroke="#000" stroke-width="1.0" />
<text x="359.90" y="590.00" font-size="7.5" text-anchor="middle" >4T1</text>
<line x1="333.50" y1="487.50" x2="359.90" y2="487.50" stroke="#000" stroke-width="1.5" />
<text x="346.70" y="486.60" font-size="6.5" text-anchor="middle" >**</text>
<text transform="translate(295.5,534.5) rotate(-90)" font-size="7.5" text-anchor="middle"><tspan font-style="italic">Hnf4a</tspan> RNA relative levels</text>
<circle cx="333.5" cy="494.5" r="1.6" fill="#000"/>
<circle cx="333.5" cy="514.2" r="1.6" fill="#000"/>
<circle cx="333.5" cy="518.5" r="1.6" fill="#000"/>
<circle cx="333.5" cy="531.5" r="1.6" fill="#000"/>
<circle cx="333.5" cy="539.3" r="1.6" fill="#000"/>
<rect x="358.45" y="537.85" width="2.9" height="2.9" fill="#000"/>
<rect x="355.85" y="550.75" width="2.9" height="2.9" fill="#000"/>
<rect x="361.15" y="550.75" width="2.9" height="2.9" fill="#000"/>
<rect x="355.85" y="554.95" width="2.9" height="2.9" fill="#000"/>
<rect x="358.45" y="557.95" width="2.9" height="2.9" fill="#000"/>
<line x1="438.80" y1="517.00" x2="438.80" y2="519.00" stroke="#000" stroke-width="0.9" />
<line x1="434.80" y1="517.00" x2="442.80" y2="517.00" stroke="#000" stroke-width="0.9" />
<line x1="464.70" y1="493.80" x2="464.70" y2="501.00" stroke="#000" stroke-width="0.9" />
<line x1="460.70" y1="493.80" x2="468.70" y2="493.80" stroke="#000" stroke-width="0.9" />
<rect x="430.10" y="518.80" width="18.00" height="60.00" fill="#ec1c24" />
<rect x="456.20" y="500.30" width="17.30" height="78.50" fill="#2e3192" />
<line x1="422.20" y1="488.10" x2="422.20" y2="579.30" stroke="#000" stroke-width="1.25" />
<line x1="417.60" y1="578.80" x2="481.50" y2="578.80" stroke="#000" stroke-width="1.25" />
<line x1="418.40" y1="578.80" x2="422.20" y2="578.80" stroke="#000" stroke-width="1.0" />
<text x="415.20" y="581.55" font-size="7.7" text-anchor="end" >0.0</text>
<line x1="418.40" y1="548.80" x2="422.20" y2="548.80" stroke="#000" stroke-width="1.0" />
<text x="415.20" y="551.55" font-size="7.7" text-anchor="end" >0.5</text>
<line x1="418.40" y1="518.80" x2="422.20" y2="518.80" stroke="#000" stroke-width="1.0" />
<text x="415.20" y="521.55" font-size="7.7" text-anchor="end" >1.0</text>
<line x1="418.40" y1="488.80" x2="422.20" y2="488.80" stroke="#000" stroke-width="1.0" />
<text x="415.20" y="491.55" font-size="7.7" text-anchor="end" >1.5</text>
<line x1="438.80" y1="578.80" x2="438.80" y2="582.30" stroke="#000" stroke-width="1.0" />
<text x="438.80" y="590.00" font-size="7.5" text-anchor="middle" >CTRL</text>
<line x1="464.70" y1="578.80" x2="464.70" y2="582.30" stroke="#000" stroke-width="1.0" />
<text x="464.70" y="590.00" font-size="7.5" text-anchor="middle" >IL6</text>
<line x1="437.70" y1="489.30" x2="464.90" y2="489.30" stroke="#000" stroke-width="2.0" />
<text x="451.30" y="488.40" font-size="6.5" text-anchor="middle" >*</text>
<text transform="translate(399.6,534.5) rotate(-90)" font-size="7.5" text-anchor="middle"><tspan font-style="italic">Ccl2</tspan> RNA relative levels</text>
<circle cx="436.5" cy="516.9" r="1.6" fill="#000"/>
<circle cx="436" cy="520.4" r="1.6" fill="#000"/>
<circle cx="441.8" cy="519.9" r="1.6" fill="#000"/>
<rect x="463.30" y="491.80" width="2.8" height="2.8" fill="#000"/>
<rect x="460.50" y="503.30" width="2.8" height="2.8" fill="#000"/>
<rect x="465.80" y="501.20" width="2.8" height="2.8" fill="#000"/>
</svg>
</body></html>
